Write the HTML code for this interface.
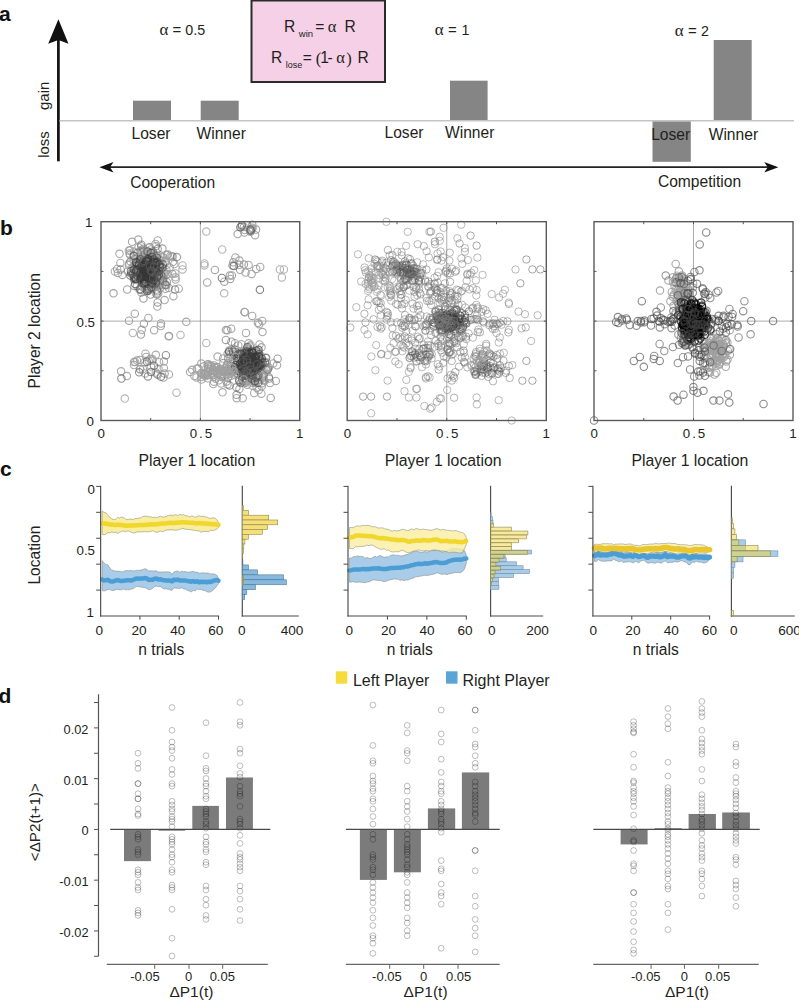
<!DOCTYPE html>
<html><head><meta charset="utf-8"><style>
html,body{margin:0;padding:0;background:#fff;width:799px;height:1001px;overflow:hidden;}
svg{display:block;font-family:"Liberation Sans", sans-serif;}
</style></head><body>
<svg width="799" height="1001" viewBox="0 0 799 1001">
<text x="-1" y="20.5" font-size="21" text-anchor="start" font-weight="bold" fill="#111" font-family='"Liberation Sans", sans-serif' >a</text>
<line x1="58.4" y1="40" x2="58.4" y2="161.3" stroke="#111" stroke-width="2.7" />
<path d="M58.4 19.3 L68.5 43.8 L58.4 40 L48.2 43.8 Z" fill="#111"/>
<text x="0" y="0" font-size="15" text-anchor="start" font-weight="normal" fill="#231f20" font-family='"Liberation Sans", sans-serif' transform="translate(49,110) rotate(-90)">gain</text>
<text x="0" y="0" font-size="15" text-anchor="start" font-weight="normal" fill="#231f20" font-family='"Liberation Sans", sans-serif' transform="translate(49,157.8) rotate(-90)">loss</text>
<line x1="59.5" y1="120.7" x2="794" y2="120.7" stroke="#c4c4c4" stroke-width="1.6" />
<rect x="133" y="100.7" width="38" height="19.3" fill="#858585" />
<rect x="200.7" y="100.7" width="38" height="19.3" fill="#858585" />
<rect x="450" y="80.7" width="37.6" height="39.3" fill="#858585" />
<rect x="713.7" y="40" width="38" height="80" fill="#858585" />
<rect x="652.5" y="121.5" width="38.3" height="40.3" fill="#858585" />
<text x="131.5" y="138.8" font-size="15.6" text-anchor="start" font-weight="normal" fill="#231f20" font-family='"Liberation Sans", sans-serif' >Loser</text>
<text x="196.5" y="138.8" font-size="15.6" text-anchor="start" font-weight="normal" fill="#231f20" font-family='"Liberation Sans", sans-serif' >Winner</text>
<text x="384.5" y="138.3" font-size="15.6" text-anchor="start" font-weight="normal" fill="#231f20" font-family='"Liberation Sans", sans-serif' >Loser</text>
<text x="445" y="138.3" font-size="15.6" text-anchor="start" font-weight="normal" fill="#231f20" font-family='"Liberation Sans", sans-serif' >Winner</text>
<text x="651.2" y="139.5" font-size="15.6" text-anchor="start" font-weight="normal" fill="#231f20" font-family='"Liberation Sans", sans-serif' >Loser</text>
<text x="708.7" y="139.5" font-size="15.6" text-anchor="start" font-weight="normal" fill="#231f20" font-family='"Liberation Sans", sans-serif' >Winner</text>
<text x="159.5" y="34.9" font-size="17" text-anchor="start" font-weight="normal" fill="#231f20" font-family='"Liberation Serif", serif' >&#945;</text>
<text x="172.4" y="34.9" font-size="15" text-anchor="start" font-weight="normal" fill="#231f20" font-family='"Liberation Sans", sans-serif' >=</text>
<text x="185.3" y="34.9" font-size="14.3" text-anchor="start" font-weight="normal" fill="#231f20" font-family='"Liberation Sans", sans-serif' >0.5</text>
<text x="434.7" y="35" font-size="17" text-anchor="start" font-weight="normal" fill="#231f20" font-family='"Liberation Serif", serif' >&#945;</text>
<text x="448.1" y="35" font-size="15" text-anchor="start" font-weight="normal" fill="#231f20" font-family='"Liberation Sans", sans-serif' >=</text>
<text x="461.5" y="35" font-size="14.3" text-anchor="start" font-weight="normal" fill="#231f20" font-family='"Liberation Sans", sans-serif' >1</text>
<text x="674.7" y="35.5" font-size="17" text-anchor="start" font-weight="normal" fill="#231f20" font-family='"Liberation Serif", serif' >&#945;</text>
<text x="688.1" y="35.5" font-size="15" text-anchor="start" font-weight="normal" fill="#231f20" font-family='"Liberation Sans", sans-serif' >=</text>
<text x="701.0" y="35.5" font-size="14.3" text-anchor="start" font-weight="normal" fill="#231f20" font-family='"Liberation Sans", sans-serif' >2</text>
<rect x="251.5" y="0.5" width="133.5" height="81.5" fill="#f5d0e6" stroke="#2b2b2b" stroke-width="2"/>
<text x="284" y="32.2" font-size="15.6" text-anchor="start" font-weight="normal" fill="#231f20" font-family='"Liberation Sans", sans-serif' >R</text>
<text x="298.8" y="37.2" font-size="9.5" text-anchor="start" font-weight="normal" fill="#231f20" font-family='"Liberation Sans", sans-serif' >win</text>
<text x="315.2" y="32.2" font-size="15.6" text-anchor="start" font-weight="normal" fill="#231f20" font-family='"Liberation Sans", sans-serif' >=</text>
<text x="327.8" y="32.2" font-size="16.5" text-anchor="start" font-weight="normal" fill="#231f20" font-family='"Liberation Serif", serif' >&#945;</text>
<text x="344.5" y="32.2" font-size="15.6" text-anchor="start" font-weight="normal" fill="#231f20" font-family='"Liberation Sans", sans-serif' >R</text>
<text x="271" y="62.6" font-size="15.6" text-anchor="start" font-weight="normal" fill="#231f20" font-family='"Liberation Sans", sans-serif' >R</text>
<text x="285.8" y="68" font-size="9" text-anchor="start" font-weight="normal" fill="#231f20" font-family='"Liberation Sans", sans-serif' >lose</text>
<text x="302.8" y="62.6" font-size="15.6" text-anchor="start" font-weight="normal" fill="#231f20" font-family='"Liberation Sans", sans-serif' >=</text>
<text x="315.8" y="63.5" font-size="16.5" text-anchor="start" font-weight="normal" fill="#231f20" font-family='"Liberation Serif", serif' >(</text>
<text x="320.2" y="62.6" font-size="15.6" text-anchor="start" font-weight="normal" fill="#231f20" font-family='"Liberation Sans", sans-serif' >1</text>
<text x="327.6" y="62.6" font-size="15.6" text-anchor="start" font-weight="normal" fill="#231f20" font-family='"Liberation Sans", sans-serif' >-</text>
<text x="336.2" y="62.6" font-size="16.5" text-anchor="start" font-weight="normal" fill="#231f20" font-family='"Liberation Serif", serif' >&#945;</text>
<text x="346.2" y="63.5" font-size="16.5" text-anchor="start" font-weight="normal" fill="#231f20" font-family='"Liberation Serif", serif' >)</text>
<text x="357.5" y="62.6" font-size="15.6" text-anchor="start" font-weight="normal" fill="#231f20" font-family='"Liberation Sans", sans-serif' >R</text>
<line x1="108" y1="167.2" x2="770" y2="167.2" stroke="#222" stroke-width="1.7" />
<path d="M99.4 167.2 L113.5 162 L110 167.2 L113.5 172.4 Z" fill="#111"/>
<path d="M778.3 167.2 L764.2 162 L767.7 167.2 L764.2 172.4 Z" fill="#111"/>
<text x="130.2" y="187.6" font-size="15.6" text-anchor="start" font-weight="normal" fill="#231f20" font-family='"Liberation Sans", sans-serif' >Cooperation</text>
<text x="657.9" y="187.4" font-size="15.6" text-anchor="start" font-weight="normal" fill="#231f20" font-family='"Liberation Sans", sans-serif' >Competition</text>
<text x="0" y="235.3" font-size="21" text-anchor="start" font-weight="bold" fill="#111" font-family='"Liberation Sans", sans-serif' >b</text>
<g>
<line x1="200.375" y1="221.7" x2="200.375" y2="420.5" stroke="#8a8a8a" stroke-width="0.7" />
<line x1="101.0" y1="321.1" x2="299.75" y2="321.1" stroke="#8a8a8a" stroke-width="0.7" />
<g fill="none" stroke="#a0a0a0" stroke-opacity="0.9" stroke-width="1.1">
<circle cx="167.0" cy="255.1" r="3.7"/>
<circle cx="152.5" cy="281.5" r="3.7"/>
<circle cx="138.7" cy="272.0" r="3.7"/>
<circle cx="139.5" cy="289.5" r="3.7"/>
<circle cx="154.1" cy="270.8" r="3.7"/>
<circle cx="158.2" cy="283.3" r="3.7"/>
<circle cx="151.7" cy="273.2" r="3.7"/>
<circle cx="133.7" cy="266.0" r="3.7"/>
<circle cx="155.5" cy="243.9" r="3.7"/>
<circle cx="154.1" cy="274.1" r="3.7"/>
<circle cx="166.4" cy="270.0" r="3.7"/>
<circle cx="162.5" cy="276.8" r="3.7"/>
<circle cx="154.3" cy="260.2" r="3.7"/>
<circle cx="160.0" cy="270.9" r="3.7"/>
<circle cx="138.8" cy="267.1" r="3.7"/>
<circle cx="152.6" cy="263.8" r="3.7"/>
<circle cx="154.3" cy="259.4" r="3.7"/>
<circle cx="151.1" cy="270.0" r="3.7"/>
<circle cx="159.6" cy="285.4" r="3.7"/>
<circle cx="146.9" cy="278.4" r="3.7"/>
<circle cx="175.3" cy="273.5" r="3.7"/>
<circle cx="159.5" cy="265.0" r="3.7"/>
<circle cx="148.3" cy="290.9" r="3.7"/>
<circle cx="163.2" cy="277.3" r="3.7"/>
<circle cx="160.2" cy="288.0" r="3.7"/>
<circle cx="146.5" cy="257.4" r="3.7"/>
<circle cx="168.7" cy="287.9" r="3.7"/>
<circle cx="135.8" cy="272.9" r="3.7"/>
<circle cx="160.4" cy="270.5" r="3.7"/>
<circle cx="155.3" cy="284.2" r="3.7"/>
<circle cx="158.7" cy="259.1" r="3.7"/>
<circle cx="146.5" cy="289.5" r="3.7"/>
<circle cx="142.6" cy="263.3" r="3.7"/>
<circle cx="131.0" cy="273.5" r="3.7"/>
<circle cx="139.9" cy="274.0" r="3.7"/>
<circle cx="148.8" cy="272.2" r="3.7"/>
<circle cx="169.6" cy="267.4" r="3.7"/>
<circle cx="167.6" cy="274.1" r="3.7"/>
<circle cx="146.0" cy="267.9" r="3.7"/>
<circle cx="117.9" cy="272.9" r="3.7"/>
<circle cx="153.6" cy="287.1" r="3.7"/>
<circle cx="157.2" cy="279.1" r="3.7"/>
<circle cx="122.4" cy="274.9" r="3.7"/>
<circle cx="140.0" cy="278.6" r="3.7"/>
<circle cx="149.9" cy="257.5" r="3.7"/>
<circle cx="152.9" cy="272.7" r="3.7"/>
<circle cx="156.3" cy="294.0" r="3.7"/>
<circle cx="166.5" cy="285.2" r="3.7"/>
<circle cx="156.9" cy="285.8" r="3.7"/>
<circle cx="140.0" cy="277.1" r="3.7"/>
<circle cx="174.3" cy="264.1" r="3.7"/>
<circle cx="144.5" cy="275.8" r="3.7"/>
<circle cx="138.0" cy="272.8" r="3.7"/>
<circle cx="144.8" cy="263.8" r="3.7"/>
<circle cx="135.5" cy="276.4" r="3.7"/>
<circle cx="141.6" cy="281.0" r="3.7"/>
<circle cx="160.2" cy="270.9" r="3.7"/>
<circle cx="158.7" cy="258.2" r="3.7"/>
<circle cx="165.4" cy="288.8" r="3.7"/>
<circle cx="158.1" cy="293.4" r="3.7"/>
<circle cx="150.9" cy="249.5" r="3.7"/>
<circle cx="149.4" cy="276.8" r="3.7"/>
<circle cx="153.7" cy="272.2" r="3.7"/>
<circle cx="152.0" cy="281.4" r="3.7"/>
<circle cx="164.6" cy="261.8" r="3.7"/>
<circle cx="149.2" cy="268.6" r="3.7"/>
<circle cx="159.5" cy="260.1" r="3.7"/>
<circle cx="156.4" cy="264.1" r="3.7"/>
<circle cx="148.5" cy="285.1" r="3.7"/>
<circle cx="145.8" cy="260.2" r="3.7"/>
<circle cx="163.3" cy="270.6" r="3.7"/>
<circle cx="144.9" cy="268.7" r="3.7"/>
<circle cx="171.5" cy="256.2" r="3.7"/>
<circle cx="143.5" cy="272.9" r="3.7"/>
<circle cx="134.4" cy="285.9" r="3.7"/>
<circle cx="153.9" cy="272.1" r="3.7"/>
<circle cx="163.2" cy="257.3" r="3.7"/>
<circle cx="161.6" cy="256.7" r="3.7"/>
<circle cx="145.2" cy="285.9" r="3.7"/>
<circle cx="157.7" cy="240.4" r="3.7"/>
<circle cx="155.9" cy="286.1" r="3.7"/>
<circle cx="154.6" cy="255.4" r="3.7"/>
<circle cx="139.3" cy="262.8" r="3.7"/>
<circle cx="144.4" cy="257.2" r="3.7"/>
<circle cx="161.0" cy="268.8" r="3.7"/>
<circle cx="175.5" cy="277.3" r="3.7"/>
<circle cx="143.5" cy="250.3" r="3.7"/>
<circle cx="141.2" cy="246.2" r="3.7"/>
<circle cx="151.2" cy="284.8" r="3.7"/>
<circle cx="151.7" cy="270.8" r="3.7"/>
<circle cx="154.1" cy="274.7" r="3.7"/>
<circle cx="164.6" cy="300.1" r="3.7"/>
<circle cx="145.1" cy="275.5" r="3.7"/>
<circle cx="173.4" cy="296.2" r="3.7"/>
<circle cx="147.6" cy="286.0" r="3.7"/>
<circle cx="143.8" cy="264.8" r="3.7"/>
<circle cx="156.6" cy="255.2" r="3.7"/>
<circle cx="144.5" cy="269.2" r="3.7"/>
<circle cx="165.7" cy="261.6" r="3.7"/>
<circle cx="147.7" cy="258.9" r="3.7"/>
<circle cx="140.7" cy="250.9" r="3.7"/>
<circle cx="153.5" cy="273.7" r="3.7"/>
<circle cx="154.9" cy="262.3" r="3.7"/>
<circle cx="172.4" cy="274.1" r="3.7"/>
<circle cx="147.3" cy="265.4" r="3.7"/>
<circle cx="141.3" cy="292.6" r="3.7"/>
<circle cx="161.6" cy="276.9" r="3.7"/>
<circle cx="165.1" cy="284.6" r="3.7"/>
<circle cx="117.1" cy="269.0" r="3.7"/>
<circle cx="153.5" cy="253.3" r="3.7"/>
<circle cx="157.9" cy="268.7" r="3.7"/>
<circle cx="158.7" cy="276.8" r="3.7"/>
<circle cx="152.6" cy="288.5" r="3.7"/>
<circle cx="157.9" cy="282.0" r="3.7"/>
<circle cx="146.4" cy="264.0" r="3.7"/>
<circle cx="162.6" cy="284.4" r="3.7"/>
<circle cx="175.6" cy="279.5" r="3.7"/>
<circle cx="161.6" cy="261.0" r="3.7"/>
<circle cx="154.4" cy="270.3" r="3.7"/>
<circle cx="173.1" cy="261.8" r="3.7"/>
<circle cx="157.0" cy="294.2" r="3.7"/>
<circle cx="142.8" cy="258.5" r="3.7"/>
<circle cx="154.0" cy="283.8" r="3.7"/>
<circle cx="144.0" cy="276.0" r="3.7"/>
<circle cx="159.9" cy="267.8" r="3.7"/>
<circle cx="163.6" cy="282.1" r="3.7"/>
<circle cx="163.4" cy="278.4" r="3.7"/>
<circle cx="148.1" cy="251.7" r="3.7"/>
<circle cx="152.6" cy="274.1" r="3.7"/>
<circle cx="149.2" cy="277.0" r="3.7"/>
<circle cx="170.3" cy="256.0" r="3.7"/>
<circle cx="160.2" cy="270.2" r="3.7"/>
<circle cx="164.1" cy="273.3" r="3.7"/>
<circle cx="157.1" cy="267.6" r="3.7"/>
<circle cx="152.7" cy="252.7" r="3.7"/>
<circle cx="172.6" cy="256.6" r="3.7"/>
<circle cx="128.9" cy="250.5" r="3.7"/>
<circle cx="160.1" cy="277.8" r="3.7"/>
<circle cx="151.4" cy="258.8" r="3.7"/>
<circle cx="165.7" cy="262.2" r="3.7"/>
<circle cx="153.4" cy="272.0" r="3.7"/>
<circle cx="161.6" cy="273.5" r="3.7"/>
<circle cx="141.0" cy="279.8" r="3.7"/>
<circle cx="150.0" cy="268.4" r="3.7"/>
<circle cx="178.7" cy="288.7" r="3.7"/>
<circle cx="157.4" cy="273.5" r="3.7"/>
<circle cx="155.3" cy="256.2" r="3.7"/>
<circle cx="166.5" cy="274.3" r="3.7"/>
<circle cx="145.0" cy="288.7" r="3.7"/>
<circle cx="150.8" cy="257.5" r="3.7"/>
<circle cx="148.5" cy="264.0" r="3.7"/>
<circle cx="160.1" cy="267.7" r="3.7"/>
<circle cx="164.6" cy="273.7" r="3.7"/>
<circle cx="141.8" cy="286.4" r="3.7"/>
<circle cx="162.7" cy="276.7" r="3.7"/>
<circle cx="148.0" cy="262.4" r="3.7"/>
<circle cx="142.3" cy="251.3" r="3.7"/>
<circle cx="159.6" cy="278.7" r="3.7"/>
<circle cx="144.1" cy="259.5" r="3.7"/>
<circle cx="137.6" cy="280.0" r="3.7"/>
<circle cx="151.8" cy="270.0" r="3.7"/>
<circle cx="151.9" cy="267.8" r="3.7"/>
<circle cx="147.3" cy="273.8" r="3.7"/>
<circle cx="166.8" cy="264.7" r="3.7"/>
<circle cx="146.3" cy="251.9" r="3.7"/>
<circle cx="127.9" cy="271.4" r="3.7"/>
<circle cx="159.6" cy="260.8" r="3.7"/>
<circle cx="153.0" cy="277.0" r="3.7"/>
<circle cx="158.7" cy="274.7" r="3.7"/>
<circle cx="157.3" cy="306.5" r="3.7"/>
<circle cx="144.5" cy="269.3" r="3.7"/>
<circle cx="150.1" cy="254.0" r="3.7"/>
<circle cx="148.0" cy="265.5" r="3.7"/>
<circle cx="145.1" cy="264.9" r="3.7"/>
<circle cx="142.9" cy="262.8" r="3.7"/>
<circle cx="132.1" cy="241.8" r="3.7"/>
<circle cx="147.9" cy="281.9" r="3.7"/>
<circle cx="149.6" cy="275.3" r="3.7"/>
<circle cx="138.4" cy="267.2" r="3.7"/>
<circle cx="135.4" cy="259.1" r="3.7"/>
<circle cx="137.5" cy="275.9" r="3.7"/>
<circle cx="140.7" cy="257.8" r="3.7"/>
<circle cx="158.3" cy="265.6" r="3.7"/>
<circle cx="128.9" cy="265.2" r="3.7"/>
<circle cx="147.2" cy="270.2" r="3.7"/>
<circle cx="133.6" cy="256.0" r="3.7"/>
<circle cx="140.6" cy="259.3" r="3.7"/>
<circle cx="134.5" cy="269.7" r="3.7"/>
<circle cx="137.5" cy="263.0" r="3.7"/>
<circle cx="137.4" cy="257.2" r="3.7"/>
<circle cx="146.2" cy="256.0" r="3.7"/>
<circle cx="145.5" cy="270.3" r="3.7"/>
<circle cx="129.6" cy="253.5" r="3.7"/>
<circle cx="140.9" cy="260.2" r="3.7"/>
<circle cx="129.2" cy="263.6" r="3.7"/>
<circle cx="134.4" cy="270.1" r="3.7"/>
<circle cx="134.5" cy="276.3" r="3.7"/>
<circle cx="141.6" cy="249.9" r="3.7"/>
<circle cx="133.7" cy="260.5" r="3.7"/>
<circle cx="129.9" cy="254.8" r="3.7"/>
<circle cx="159.3" cy="273.7" r="3.7"/>
<circle cx="138.5" cy="247.3" r="3.7"/>
<circle cx="144.4" cy="260.3" r="3.7"/>
<circle cx="120.4" cy="263.0" r="3.7"/>
<circle cx="149.9" cy="247.2" r="3.7"/>
<circle cx="147.1" cy="267.2" r="3.7"/>
<circle cx="133.9" cy="279.5" r="3.7"/>
<circle cx="130.1" cy="250.3" r="3.7"/>
<circle cx="139.6" cy="274.8" r="3.7"/>
<circle cx="153.9" cy="278.1" r="3.7"/>
<circle cx="153.3" cy="264.7" r="3.7"/>
<circle cx="144.1" cy="254.7" r="3.7"/>
<circle cx="143.4" cy="248.8" r="3.7"/>
<circle cx="140.9" cy="264.7" r="3.7"/>
<circle cx="134.2" cy="275.8" r="3.7"/>
<circle cx="133.8" cy="251.7" r="3.7"/>
<circle cx="149.0" cy="247.6" r="3.7"/>
<circle cx="167.9" cy="254.4" r="3.7"/>
<circle cx="145.7" cy="274.5" r="3.7"/>
<circle cx="138.3" cy="239.6" r="3.7"/>
<circle cx="146.0" cy="262.8" r="3.7"/>
<circle cx="143.8" cy="280.3" r="3.7"/>
<circle cx="132.5" cy="274.5" r="3.7"/>
<circle cx="119.5" cy="253.8" r="3.7"/>
<circle cx="150.3" cy="263.2" r="3.7"/>
<circle cx="144.2" cy="271.5" r="3.7"/>
<circle cx="145.3" cy="253.9" r="3.7"/>
<circle cx="156.0" cy="245.9" r="3.7"/>
<circle cx="145.6" cy="262.7" r="3.7"/>
<circle cx="132.5" cy="267.5" r="3.7"/>
</g>
<g fill="none" stroke="#383838" stroke-opacity="0.6" stroke-width="1.1">
<circle cx="152.0" cy="266.5" r="3.7"/>
<circle cx="147.8" cy="258.8" r="3.7"/>
<circle cx="152.2" cy="270.3" r="3.7"/>
<circle cx="146.4" cy="269.9" r="3.7"/>
<circle cx="141.1" cy="277.2" r="3.7"/>
<circle cx="150.1" cy="274.5" r="3.7"/>
<circle cx="145.8" cy="261.9" r="3.7"/>
<circle cx="146.4" cy="261.3" r="3.7"/>
<circle cx="147.6" cy="259.9" r="3.7"/>
<circle cx="150.9" cy="282.6" r="3.7"/>
<circle cx="156.3" cy="271.8" r="3.7"/>
<circle cx="134.0" cy="269.6" r="3.7"/>
<circle cx="148.8" cy="279.4" r="3.7"/>
<circle cx="143.5" cy="266.6" r="3.7"/>
<circle cx="157.5" cy="262.5" r="3.7"/>
<circle cx="156.2" cy="262.6" r="3.7"/>
<circle cx="130.4" cy="275.5" r="3.7"/>
<circle cx="149.0" cy="289.1" r="3.7"/>
<circle cx="153.1" cy="264.2" r="3.7"/>
<circle cx="142.3" cy="273.1" r="3.7"/>
<circle cx="141.2" cy="270.5" r="3.7"/>
<circle cx="147.4" cy="270.5" r="3.7"/>
<circle cx="140.6" cy="267.7" r="3.7"/>
<circle cx="145.3" cy="263.8" r="3.7"/>
<circle cx="149.9" cy="280.7" r="3.7"/>
<circle cx="137.7" cy="269.9" r="3.7"/>
<circle cx="144.3" cy="267.1" r="3.7"/>
<circle cx="153.3" cy="270.3" r="3.7"/>
<circle cx="136.0" cy="278.7" r="3.7"/>
<circle cx="151.7" cy="277.7" r="3.7"/>
<circle cx="155.4" cy="271.0" r="3.7"/>
<circle cx="151.3" cy="276.6" r="3.7"/>
<circle cx="147.0" cy="291.0" r="3.7"/>
<circle cx="146.3" cy="266.4" r="3.7"/>
<circle cx="141.5" cy="276.3" r="3.7"/>
<circle cx="147.3" cy="270.0" r="3.7"/>
<circle cx="142.1" cy="265.7" r="3.7"/>
<circle cx="136.3" cy="262.7" r="3.7"/>
<circle cx="137.9" cy="276.1" r="3.7"/>
<circle cx="157.0" cy="277.3" r="3.7"/>
<circle cx="136.2" cy="269.9" r="3.7"/>
<circle cx="141.3" cy="278.2" r="3.7"/>
<circle cx="142.8" cy="275.6" r="3.7"/>
<circle cx="140.9" cy="277.6" r="3.7"/>
<circle cx="158.9" cy="275.1" r="3.7"/>
<circle cx="154.5" cy="280.2" r="3.7"/>
<circle cx="151.5" cy="279.1" r="3.7"/>
<circle cx="144.5" cy="266.0" r="3.7"/>
<circle cx="144.0" cy="284.1" r="3.7"/>
<circle cx="143.9" cy="271.5" r="3.7"/>
<circle cx="151.7" cy="277.4" r="3.7"/>
<circle cx="145.6" cy="270.0" r="3.7"/>
<circle cx="136.2" cy="271.1" r="3.7"/>
<circle cx="141.9" cy="267.4" r="3.7"/>
<circle cx="146.9" cy="271.6" r="3.7"/>
<circle cx="130.9" cy="271.2" r="3.7"/>
<circle cx="145.1" cy="277.0" r="3.7"/>
<circle cx="144.2" cy="279.2" r="3.7"/>
<circle cx="148.9" cy="265.8" r="3.7"/>
<circle cx="151.9" cy="274.0" r="3.7"/>
<circle cx="159.4" cy="264.5" r="3.7"/>
<circle cx="141.1" cy="271.4" r="3.7"/>
<circle cx="136.4" cy="271.2" r="3.7"/>
<circle cx="152.7" cy="261.6" r="3.7"/>
<circle cx="144.8" cy="282.9" r="3.7"/>
<circle cx="146.5" cy="260.9" r="3.7"/>
<circle cx="148.7" cy="261.5" r="3.7"/>
<circle cx="153.5" cy="259.6" r="3.7"/>
<circle cx="151.9" cy="275.0" r="3.7"/>
<circle cx="150.8" cy="252.8" r="3.7"/>
<circle cx="144.1" cy="283.3" r="3.7"/>
<circle cx="162.3" cy="267.6" r="3.7"/>
<circle cx="143.3" cy="274.6" r="3.7"/>
<circle cx="137.0" cy="265.5" r="3.7"/>
<circle cx="148.7" cy="274.8" r="3.7"/>
<circle cx="144.8" cy="273.4" r="3.7"/>
<circle cx="155.1" cy="271.7" r="3.7"/>
<circle cx="157.3" cy="276.2" r="3.7"/>
<circle cx="143.4" cy="273.8" r="3.7"/>
<circle cx="144.0" cy="271.0" r="3.7"/>
<circle cx="154.8" cy="262.0" r="3.7"/>
<circle cx="140.2" cy="261.5" r="3.7"/>
<circle cx="148.4" cy="259.4" r="3.7"/>
<circle cx="146.5" cy="276.2" r="3.7"/>
<circle cx="153.2" cy="266.1" r="3.7"/>
<circle cx="144.5" cy="270.3" r="3.7"/>
<circle cx="148.6" cy="268.2" r="3.7"/>
<circle cx="135.8" cy="278.8" r="3.7"/>
<circle cx="148.1" cy="268.6" r="3.7"/>
<circle cx="144.1" cy="282.7" r="3.7"/>
<circle cx="157.1" cy="272.5" r="3.7"/>
<circle cx="140.4" cy="259.3" r="3.7"/>
<circle cx="155.6" cy="263.2" r="3.7"/>
<circle cx="153.5" cy="266.4" r="3.7"/>
<circle cx="140.9" cy="270.2" r="3.7"/>
<circle cx="150.2" cy="266.0" r="3.7"/>
<circle cx="151.0" cy="277.4" r="3.7"/>
<circle cx="143.5" cy="272.7" r="3.7"/>
<circle cx="146.3" cy="276.5" r="3.7"/>
<circle cx="135.0" cy="278.9" r="3.7"/>
<circle cx="149.8" cy="270.5" r="3.7"/>
<circle cx="151.7" cy="283.5" r="3.7"/>
<circle cx="144.8" cy="264.2" r="3.7"/>
<circle cx="134.1" cy="277.9" r="3.7"/>
<circle cx="136.1" cy="262.0" r="3.7"/>
<circle cx="147.9" cy="274.4" r="3.7"/>
<circle cx="148.7" cy="271.0" r="3.7"/>
<circle cx="154.0" cy="262.3" r="3.7"/>
<circle cx="154.1" cy="268.0" r="3.7"/>
<circle cx="153.0" cy="264.8" r="3.7"/>
<circle cx="155.8" cy="283.2" r="3.7"/>
<circle cx="150.1" cy="269.9" r="3.7"/>
<circle cx="148.8" cy="272.1" r="3.7"/>
<circle cx="147.2" cy="267.0" r="3.7"/>
<circle cx="149.1" cy="269.5" r="3.7"/>
<circle cx="140.2" cy="279.1" r="3.7"/>
<circle cx="142.5" cy="282.8" r="3.7"/>
<circle cx="144.1" cy="276.3" r="3.7"/>
<circle cx="135.2" cy="283.9" r="3.7"/>
<circle cx="144.4" cy="274.4" r="3.7"/>
<circle cx="162.8" cy="264.4" r="3.7"/>
<circle cx="142.3" cy="273.9" r="3.7"/>
<circle cx="140.7" cy="275.9" r="3.7"/>
<circle cx="145.3" cy="270.7" r="3.7"/>
<circle cx="143.4" cy="264.7" r="3.7"/>
<circle cx="152.2" cy="256.8" r="3.7"/>
<circle cx="138.6" cy="265.7" r="3.7"/>
<circle cx="145.1" cy="281.6" r="3.7"/>
<circle cx="145.6" cy="281.8" r="3.7"/>
<circle cx="147.5" cy="251.4" r="3.7"/>
<circle cx="156.8" cy="257.7" r="3.7"/>
<circle cx="156.0" cy="281.2" r="3.7"/>
<circle cx="150.6" cy="269.4" r="3.7"/>
<circle cx="150.7" cy="277.6" r="3.7"/>
<circle cx="133.9" cy="255.8" r="3.7"/>
<circle cx="156.0" cy="268.3" r="3.7"/>
<circle cx="144.3" cy="269.1" r="3.7"/>
<circle cx="139.1" cy="263.7" r="3.7"/>
<circle cx="148.9" cy="271.5" r="3.7"/>
<circle cx="144.7" cy="270.9" r="3.7"/>
<circle cx="148.6" cy="273.2" r="3.7"/>
<circle cx="154.4" cy="268.9" r="3.7"/>
<circle cx="147.0" cy="276.4" r="3.7"/>
<circle cx="156.2" cy="261.4" r="3.7"/>
<circle cx="152.5" cy="283.2" r="3.7"/>
<circle cx="145.3" cy="263.5" r="3.7"/>
<circle cx="148.0" cy="261.5" r="3.7"/>
<circle cx="144.7" cy="264.9" r="3.7"/>
<circle cx="151.4" cy="287.4" r="3.7"/>
<circle cx="144.9" cy="272.1" r="3.7"/>
<circle cx="143.3" cy="276.6" r="3.7"/>
<circle cx="158.8" cy="271.2" r="3.7"/>
<circle cx="153.2" cy="279.7" r="3.7"/>
<circle cx="133.2" cy="273.7" r="3.7"/>
<circle cx="150.5" cy="275.4" r="3.7"/>
<circle cx="151.4" cy="264.8" r="3.7"/>
<circle cx="144.6" cy="270.8" r="3.7"/>
<circle cx="142.6" cy="262.9" r="3.7"/>
<circle cx="160.0" cy="267.0" r="3.7"/>
<circle cx="144.2" cy="275.3" r="3.7"/>
</g>
<g fill="none" stroke="#606060" stroke-opacity="0.6" stroke-width="1.1">
<circle cx="143.4" cy="261.0" r="3.7"/>
<circle cx="137.7" cy="252.8" r="3.7"/>
<circle cx="132.1" cy="273.5" r="3.7"/>
<circle cx="162.4" cy="248.6" r="3.7"/>
<circle cx="141.9" cy="262.4" r="3.7"/>
<circle cx="176.9" cy="257.1" r="3.7"/>
<circle cx="120.6" cy="269.5" r="3.7"/>
<circle cx="175.0" cy="289.6" r="3.7"/>
<circle cx="157.6" cy="302.4" r="3.7"/>
<circle cx="165.6" cy="285.1" r="3.7"/>
<circle cx="156.3" cy="260.7" r="3.7"/>
<circle cx="113.5" cy="293.3" r="3.7"/>
<circle cx="150.6" cy="294.6" r="3.7"/>
<circle cx="146.5" cy="286.6" r="3.7"/>
<circle cx="162.7" cy="280.5" r="3.7"/>
<circle cx="135.8" cy="264.4" r="3.7"/>
<circle cx="161.3" cy="275.6" r="3.7"/>
<circle cx="150.0" cy="266.5" r="3.7"/>
<circle cx="140.8" cy="289.9" r="3.7"/>
<circle cx="153.1" cy="278.3" r="3.7"/>
<circle cx="130.4" cy="261.5" r="3.7"/>
<circle cx="151.9" cy="271.4" r="3.7"/>
<circle cx="137.7" cy="276.5" r="3.7"/>
<circle cx="154.0" cy="266.6" r="3.7"/>
<circle cx="136.9" cy="285.9" r="3.7"/>
<circle cx="150.8" cy="270.8" r="3.7"/>
<circle cx="156.8" cy="289.5" r="3.7"/>
<circle cx="157.7" cy="248.8" r="3.7"/>
<circle cx="158.0" cy="271.6" r="3.7"/>
<circle cx="157.5" cy="291.3" r="3.7"/>
<circle cx="141.4" cy="244.7" r="3.7"/>
<circle cx="127.2" cy="289.5" r="3.7"/>
<circle cx="156.5" cy="282.5" r="3.7"/>
<circle cx="140.0" cy="289.0" r="3.7"/>
<circle cx="166.8" cy="281.9" r="3.7"/>
<circle cx="143.4" cy="298.6" r="3.7"/>
<circle cx="155.9" cy="273.5" r="3.7"/>
<circle cx="152.7" cy="251.4" r="3.7"/>
<circle cx="148.5" cy="290.0" r="3.7"/>
<circle cx="134.6" cy="272.2" r="3.7"/>
</g>
<g fill="none" stroke="#a0a0a0" stroke-opacity="0.9" stroke-width="1.1">
<circle cx="264.5" cy="381.1" r="3.7"/>
<circle cx="247.4" cy="368.6" r="3.7"/>
<circle cx="257.2" cy="377.5" r="3.7"/>
<circle cx="253.5" cy="357.5" r="3.7"/>
<circle cx="249.6" cy="368.0" r="3.7"/>
<circle cx="256.8" cy="359.9" r="3.7"/>
<circle cx="263.8" cy="379.7" r="3.7"/>
<circle cx="263.5" cy="369.5" r="3.7"/>
<circle cx="237.6" cy="373.4" r="3.7"/>
<circle cx="236.6" cy="369.2" r="3.7"/>
<circle cx="261.4" cy="393.7" r="3.7"/>
<circle cx="237.1" cy="357.7" r="3.7"/>
<circle cx="246.8" cy="357.4" r="3.7"/>
<circle cx="235.6" cy="367.5" r="3.7"/>
<circle cx="221.6" cy="376.9" r="3.7"/>
<circle cx="258.2" cy="352.3" r="3.7"/>
<circle cx="267.9" cy="367.5" r="3.7"/>
<circle cx="240.5" cy="371.4" r="3.7"/>
<circle cx="229.1" cy="350.7" r="3.7"/>
<circle cx="262.9" cy="377.7" r="3.7"/>
<circle cx="270.1" cy="383.0" r="3.7"/>
<circle cx="256.2" cy="376.5" r="3.7"/>
<circle cx="231.1" cy="362.1" r="3.7"/>
<circle cx="237.4" cy="352.6" r="3.7"/>
<circle cx="240.2" cy="365.6" r="3.7"/>
<circle cx="244.8" cy="365.2" r="3.7"/>
<circle cx="243.2" cy="357.0" r="3.7"/>
<circle cx="256.7" cy="366.0" r="3.7"/>
<circle cx="248.7" cy="343.3" r="3.7"/>
<circle cx="242.5" cy="372.1" r="3.7"/>
<circle cx="258.5" cy="367.0" r="3.7"/>
<circle cx="232.2" cy="368.5" r="3.7"/>
<circle cx="245.9" cy="378.7" r="3.7"/>
<circle cx="252.2" cy="380.4" r="3.7"/>
<circle cx="247.3" cy="380.4" r="3.7"/>
<circle cx="267.1" cy="370.2" r="3.7"/>
<circle cx="254.9" cy="363.4" r="3.7"/>
<circle cx="257.8" cy="368.6" r="3.7"/>
<circle cx="258.3" cy="365.3" r="3.7"/>
<circle cx="223.3" cy="363.1" r="3.7"/>
<circle cx="235.9" cy="355.5" r="3.7"/>
<circle cx="252.5" cy="371.3" r="3.7"/>
<circle cx="222.5" cy="392.3" r="3.7"/>
<circle cx="237.2" cy="371.3" r="3.7"/>
<circle cx="235.0" cy="343.2" r="3.7"/>
<circle cx="255.1" cy="367.9" r="3.7"/>
<circle cx="239.3" cy="370.9" r="3.7"/>
<circle cx="247.5" cy="372.1" r="3.7"/>
<circle cx="249.2" cy="357.2" r="3.7"/>
<circle cx="230.8" cy="364.1" r="3.7"/>
<circle cx="262.1" cy="383.2" r="3.7"/>
<circle cx="248.0" cy="371.4" r="3.7"/>
<circle cx="237.6" cy="355.5" r="3.7"/>
<circle cx="246.5" cy="353.2" r="3.7"/>
<circle cx="254.6" cy="370.2" r="3.7"/>
<circle cx="253.2" cy="371.3" r="3.7"/>
<circle cx="232.1" cy="349.9" r="3.7"/>
<circle cx="254.1" cy="353.0" r="3.7"/>
<circle cx="230.3" cy="354.3" r="3.7"/>
<circle cx="259.1" cy="367.3" r="3.7"/>
<circle cx="226.9" cy="365.6" r="3.7"/>
<circle cx="242.8" cy="369.1" r="3.7"/>
<circle cx="250.7" cy="377.6" r="3.7"/>
<circle cx="248.6" cy="366.7" r="3.7"/>
<circle cx="266.0" cy="368.0" r="3.7"/>
<circle cx="275.8" cy="380.9" r="3.7"/>
<circle cx="248.6" cy="352.0" r="3.7"/>
<circle cx="232.9" cy="359.4" r="3.7"/>
<circle cx="254.4" cy="374.0" r="3.7"/>
<circle cx="247.4" cy="348.4" r="3.7"/>
<circle cx="245.2" cy="363.5" r="3.7"/>
<circle cx="254.8" cy="352.4" r="3.7"/>
<circle cx="227.5" cy="384.4" r="3.7"/>
<circle cx="235.4" cy="370.2" r="3.7"/>
<circle cx="256.8" cy="356.9" r="3.7"/>
<circle cx="246.9" cy="348.8" r="3.7"/>
<circle cx="249.3" cy="358.6" r="3.7"/>
<circle cx="241.8" cy="356.9" r="3.7"/>
<circle cx="242.2" cy="353.0" r="3.7"/>
<circle cx="259.5" cy="344.5" r="3.7"/>
<circle cx="245.4" cy="380.7" r="3.7"/>
<circle cx="259.1" cy="363.0" r="3.7"/>
<circle cx="244.3" cy="382.8" r="3.7"/>
<circle cx="258.8" cy="390.1" r="3.7"/>
<circle cx="245.0" cy="354.1" r="3.7"/>
<circle cx="247.3" cy="361.4" r="3.7"/>
<circle cx="255.4" cy="359.7" r="3.7"/>
<circle cx="261.6" cy="359.0" r="3.7"/>
<circle cx="246.0" cy="381.5" r="3.7"/>
<circle cx="246.9" cy="374.7" r="3.7"/>
<circle cx="254.5" cy="352.2" r="3.7"/>
<circle cx="258.6" cy="375.1" r="3.7"/>
<circle cx="252.3" cy="366.8" r="3.7"/>
<circle cx="244.9" cy="351.3" r="3.7"/>
<circle cx="256.8" cy="362.5" r="3.7"/>
<circle cx="236.7" cy="398.2" r="3.7"/>
<circle cx="242.0" cy="353.2" r="3.7"/>
<circle cx="247.7" cy="367.1" r="3.7"/>
<circle cx="247.2" cy="361.1" r="3.7"/>
<circle cx="250.0" cy="346.4" r="3.7"/>
<circle cx="248.7" cy="370.0" r="3.7"/>
<circle cx="265.6" cy="357.9" r="3.7"/>
<circle cx="257.7" cy="360.5" r="3.7"/>
<circle cx="249.6" cy="363.0" r="3.7"/>
<circle cx="255.9" cy="365.6" r="3.7"/>
<circle cx="229.5" cy="350.4" r="3.7"/>
<circle cx="244.8" cy="373.6" r="3.7"/>
<circle cx="246.3" cy="375.4" r="3.7"/>
<circle cx="240.5" cy="367.8" r="3.7"/>
<circle cx="259.7" cy="370.3" r="3.7"/>
<circle cx="255.2" cy="382.9" r="3.7"/>
<circle cx="258.3" cy="380.4" r="3.7"/>
<circle cx="257.7" cy="375.7" r="3.7"/>
<circle cx="243.5" cy="381.8" r="3.7"/>
<circle cx="236.2" cy="369.5" r="3.7"/>
<circle cx="239.4" cy="369.5" r="3.7"/>
<circle cx="262.5" cy="376.9" r="3.7"/>
<circle cx="246.6" cy="368.0" r="3.7"/>
<circle cx="243.3" cy="367.2" r="3.7"/>
<circle cx="252.6" cy="354.4" r="3.7"/>
<circle cx="242.1" cy="369.4" r="3.7"/>
<circle cx="248.3" cy="352.3" r="3.7"/>
<circle cx="239.1" cy="364.8" r="3.7"/>
<circle cx="258.5" cy="359.8" r="3.7"/>
<circle cx="242.3" cy="379.2" r="3.7"/>
<circle cx="229.8" cy="373.2" r="3.7"/>
<circle cx="247.3" cy="384.7" r="3.7"/>
<circle cx="259.3" cy="364.9" r="3.7"/>
<circle cx="247.4" cy="373.1" r="3.7"/>
<circle cx="255.2" cy="370.2" r="3.7"/>
<circle cx="255.6" cy="372.6" r="3.7"/>
<circle cx="261.6" cy="386.3" r="3.7"/>
<circle cx="238.3" cy="345.4" r="3.7"/>
<circle cx="261.5" cy="347.3" r="3.7"/>
<circle cx="241.4" cy="358.1" r="3.7"/>
<circle cx="261.0" cy="355.9" r="3.7"/>
<circle cx="248.1" cy="349.3" r="3.7"/>
<circle cx="254.6" cy="382.3" r="3.7"/>
<circle cx="277.0" cy="365.3" r="3.7"/>
<circle cx="263.8" cy="375.1" r="3.7"/>
<circle cx="239.9" cy="356.3" r="3.7"/>
<circle cx="259.0" cy="375.7" r="3.7"/>
<circle cx="252.8" cy="382.7" r="3.7"/>
<circle cx="227.6" cy="353.8" r="3.7"/>
<circle cx="237.5" cy="358.0" r="3.7"/>
<circle cx="261.7" cy="362.4" r="3.7"/>
<circle cx="266.7" cy="362.5" r="3.7"/>
<circle cx="253.3" cy="366.8" r="3.7"/>
<circle cx="254.7" cy="362.6" r="3.7"/>
<circle cx="239.8" cy="367.4" r="3.7"/>
<circle cx="246.0" cy="332.9" r="3.7"/>
<circle cx="263.5" cy="376.2" r="3.7"/>
<circle cx="256.6" cy="387.7" r="3.7"/>
<circle cx="250.7" cy="345.2" r="3.7"/>
<circle cx="251.0" cy="351.5" r="3.7"/>
<circle cx="246.0" cy="361.4" r="3.7"/>
<circle cx="254.2" cy="393.0" r="3.7"/>
<circle cx="241.3" cy="344.2" r="3.7"/>
<circle cx="241.0" cy="352.5" r="3.7"/>
<circle cx="268.9" cy="367.4" r="3.7"/>
<circle cx="261.0" cy="362.5" r="3.7"/>
<circle cx="243.6" cy="359.8" r="3.7"/>
<circle cx="254.8" cy="378.6" r="3.7"/>
<circle cx="245.2" cy="382.9" r="3.7"/>
<circle cx="246.4" cy="367.3" r="3.7"/>
<circle cx="239.4" cy="389.1" r="3.7"/>
<circle cx="257.4" cy="351.7" r="3.7"/>
<circle cx="240.1" cy="366.0" r="3.7"/>
<circle cx="242.7" cy="398.3" r="3.7"/>
<circle cx="273.2" cy="363.4" r="3.7"/>
<circle cx="234.7" cy="351.7" r="3.7"/>
<circle cx="258.0" cy="350.0" r="3.7"/>
<circle cx="258.1" cy="360.5" r="3.7"/>
<circle cx="265.8" cy="370.1" r="3.7"/>
<circle cx="252.7" cy="379.8" r="3.7"/>
<circle cx="237.5" cy="364.3" r="3.7"/>
<circle cx="252.6" cy="385.7" r="3.7"/>
<circle cx="254.1" cy="354.8" r="3.7"/>
<circle cx="236.3" cy="370.9" r="3.7"/>
<circle cx="268.8" cy="377.0" r="3.7"/>
</g>
<g fill="none" stroke="#383838" stroke-opacity="0.6" stroke-width="1.1">
<circle cx="252.7" cy="358.8" r="3.7"/>
<circle cx="250.2" cy="362.9" r="3.7"/>
<circle cx="252.7" cy="362.0" r="3.7"/>
<circle cx="250.0" cy="373.2" r="3.7"/>
<circle cx="250.6" cy="368.9" r="3.7"/>
<circle cx="258.6" cy="349.7" r="3.7"/>
<circle cx="256.2" cy="377.5" r="3.7"/>
<circle cx="255.4" cy="363.1" r="3.7"/>
<circle cx="242.1" cy="371.6" r="3.7"/>
<circle cx="255.8" cy="368.0" r="3.7"/>
<circle cx="248.6" cy="363.4" r="3.7"/>
<circle cx="255.1" cy="380.9" r="3.7"/>
<circle cx="256.9" cy="369.0" r="3.7"/>
<circle cx="246.5" cy="359.9" r="3.7"/>
<circle cx="251.4" cy="378.6" r="3.7"/>
<circle cx="252.9" cy="364.8" r="3.7"/>
<circle cx="242.5" cy="367.7" r="3.7"/>
<circle cx="238.9" cy="358.9" r="3.7"/>
<circle cx="258.5" cy="367.9" r="3.7"/>
<circle cx="246.1" cy="373.1" r="3.7"/>
<circle cx="244.6" cy="370.3" r="3.7"/>
<circle cx="249.2" cy="352.8" r="3.7"/>
<circle cx="255.8" cy="357.6" r="3.7"/>
<circle cx="242.9" cy="358.5" r="3.7"/>
<circle cx="244.5" cy="369.5" r="3.7"/>
<circle cx="253.7" cy="364.5" r="3.7"/>
<circle cx="264.9" cy="362.6" r="3.7"/>
<circle cx="247.1" cy="359.1" r="3.7"/>
<circle cx="241.7" cy="359.5" r="3.7"/>
<circle cx="259.0" cy="364.7" r="3.7"/>
<circle cx="245.8" cy="356.7" r="3.7"/>
<circle cx="242.0" cy="361.5" r="3.7"/>
<circle cx="245.7" cy="361.9" r="3.7"/>
<circle cx="244.1" cy="360.0" r="3.7"/>
<circle cx="252.6" cy="352.7" r="3.7"/>
<circle cx="246.7" cy="361.0" r="3.7"/>
<circle cx="237.9" cy="368.9" r="3.7"/>
<circle cx="250.8" cy="372.6" r="3.7"/>
<circle cx="248.4" cy="369.6" r="3.7"/>
<circle cx="252.1" cy="360.0" r="3.7"/>
<circle cx="246.1" cy="359.7" r="3.7"/>
<circle cx="245.5" cy="363.1" r="3.7"/>
<circle cx="252.4" cy="360.3" r="3.7"/>
<circle cx="252.8" cy="353.0" r="3.7"/>
<circle cx="245.0" cy="364.8" r="3.7"/>
<circle cx="237.4" cy="358.3" r="3.7"/>
<circle cx="241.9" cy="367.6" r="3.7"/>
<circle cx="245.8" cy="361.2" r="3.7"/>
<circle cx="247.3" cy="365.6" r="3.7"/>
<circle cx="249.6" cy="366.0" r="3.7"/>
<circle cx="248.9" cy="370.1" r="3.7"/>
<circle cx="245.6" cy="371.6" r="3.7"/>
<circle cx="254.5" cy="358.1" r="3.7"/>
<circle cx="253.3" cy="361.7" r="3.7"/>
<circle cx="245.2" cy="360.3" r="3.7"/>
<circle cx="239.2" cy="379.8" r="3.7"/>
<circle cx="241.5" cy="354.3" r="3.7"/>
<circle cx="250.6" cy="354.0" r="3.7"/>
<circle cx="244.5" cy="357.4" r="3.7"/>
<circle cx="259.2" cy="357.5" r="3.7"/>
<circle cx="250.9" cy="357.0" r="3.7"/>
<circle cx="246.2" cy="352.6" r="3.7"/>
<circle cx="241.7" cy="368.7" r="3.7"/>
<circle cx="249.2" cy="368.7" r="3.7"/>
<circle cx="260.2" cy="359.6" r="3.7"/>
<circle cx="244.4" cy="353.2" r="3.7"/>
<circle cx="257.7" cy="366.3" r="3.7"/>
<circle cx="259.0" cy="356.3" r="3.7"/>
<circle cx="245.9" cy="367.4" r="3.7"/>
<circle cx="251.0" cy="356.5" r="3.7"/>
<circle cx="259.1" cy="354.3" r="3.7"/>
<circle cx="246.0" cy="375.2" r="3.7"/>
<circle cx="238.3" cy="354.2" r="3.7"/>
<circle cx="255.8" cy="356.3" r="3.7"/>
<circle cx="249.1" cy="363.3" r="3.7"/>
<circle cx="252.2" cy="360.9" r="3.7"/>
<circle cx="249.6" cy="370.0" r="3.7"/>
<circle cx="240.4" cy="362.9" r="3.7"/>
<circle cx="248.1" cy="354.8" r="3.7"/>
<circle cx="242.3" cy="376.5" r="3.7"/>
<circle cx="236.6" cy="364.1" r="3.7"/>
<circle cx="259.7" cy="366.0" r="3.7"/>
<circle cx="244.6" cy="361.4" r="3.7"/>
<circle cx="258.9" cy="356.9" r="3.7"/>
<circle cx="254.7" cy="357.9" r="3.7"/>
<circle cx="247.2" cy="363.3" r="3.7"/>
<circle cx="251.7" cy="352.3" r="3.7"/>
<circle cx="235.0" cy="367.3" r="3.7"/>
<circle cx="251.4" cy="365.4" r="3.7"/>
<circle cx="248.2" cy="365.5" r="3.7"/>
<circle cx="243.0" cy="360.6" r="3.7"/>
<circle cx="257.3" cy="366.1" r="3.7"/>
<circle cx="251.9" cy="356.8" r="3.7"/>
<circle cx="244.9" cy="364.4" r="3.7"/>
<circle cx="240.8" cy="353.8" r="3.7"/>
<circle cx="260.0" cy="365.1" r="3.7"/>
<circle cx="261.8" cy="358.4" r="3.7"/>
<circle cx="237.4" cy="360.7" r="3.7"/>
<circle cx="250.7" cy="360.6" r="3.7"/>
<circle cx="253.4" cy="366.7" r="3.7"/>
<circle cx="256.3" cy="361.8" r="3.7"/>
<circle cx="261.1" cy="364.6" r="3.7"/>
<circle cx="233.1" cy="351.7" r="3.7"/>
<circle cx="252.6" cy="375.5" r="3.7"/>
<circle cx="245.2" cy="368.9" r="3.7"/>
<circle cx="255.0" cy="367.8" r="3.7"/>
<circle cx="256.5" cy="367.1" r="3.7"/>
<circle cx="255.2" cy="367.7" r="3.7"/>
<circle cx="241.5" cy="360.1" r="3.7"/>
<circle cx="247.6" cy="360.5" r="3.7"/>
<circle cx="238.6" cy="370.4" r="3.7"/>
<circle cx="246.9" cy="351.3" r="3.7"/>
<circle cx="251.6" cy="374.5" r="3.7"/>
<circle cx="229.0" cy="352.0" r="3.7"/>
<circle cx="251.2" cy="371.9" r="3.7"/>
<circle cx="255.4" cy="358.4" r="3.7"/>
<circle cx="262.7" cy="362.6" r="3.7"/>
<circle cx="245.9" cy="358.6" r="3.7"/>
<circle cx="240.5" cy="366.7" r="3.7"/>
<circle cx="242.7" cy="367.5" r="3.7"/>
<circle cx="240.9" cy="373.1" r="3.7"/>
<circle cx="242.0" cy="361.4" r="3.7"/>
<circle cx="249.3" cy="364.3" r="3.7"/>
<circle cx="252.1" cy="359.1" r="3.7"/>
<circle cx="252.1" cy="350.7" r="3.7"/>
<circle cx="250.9" cy="361.4" r="3.7"/>
<circle cx="246.0" cy="356.9" r="3.7"/>
<circle cx="258.2" cy="382.7" r="3.7"/>
<circle cx="254.3" cy="370.8" r="3.7"/>
<circle cx="251.3" cy="363.3" r="3.7"/>
<circle cx="241.0" cy="372.5" r="3.7"/>
<circle cx="247.4" cy="347.1" r="3.7"/>
<circle cx="241.2" cy="366.4" r="3.7"/>
<circle cx="247.2" cy="365.5" r="3.7"/>
<circle cx="256.2" cy="350.7" r="3.7"/>
<circle cx="248.8" cy="361.2" r="3.7"/>
<circle cx="247.0" cy="353.8" r="3.7"/>
<circle cx="248.7" cy="359.5" r="3.7"/>
<circle cx="247.8" cy="356.7" r="3.7"/>
<circle cx="248.6" cy="369.2" r="3.7"/>
</g>
<g fill="none" stroke="#606060" stroke-opacity="0.6" stroke-width="1.1">
<circle cx="270.7" cy="397.9" r="3.7"/>
<circle cx="246.5" cy="375.7" r="3.7"/>
<circle cx="231.4" cy="341.7" r="3.7"/>
<circle cx="248.8" cy="376.6" r="3.7"/>
<circle cx="231.7" cy="366.1" r="3.7"/>
<circle cx="244.0" cy="374.2" r="3.7"/>
<circle cx="234.8" cy="349.6" r="3.7"/>
<circle cx="247.1" cy="373.4" r="3.7"/>
<circle cx="226.6" cy="381.6" r="3.7"/>
<circle cx="254.3" cy="381.3" r="3.7"/>
<circle cx="253.2" cy="372.4" r="3.7"/>
<circle cx="249.6" cy="366.0" r="3.7"/>
<circle cx="238.0" cy="374.5" r="3.7"/>
<circle cx="243.1" cy="361.7" r="3.7"/>
<circle cx="277.6" cy="358.7" r="3.7"/>
<circle cx="225.9" cy="339.9" r="3.7"/>
<circle cx="242.5" cy="380.5" r="3.7"/>
<circle cx="245.8" cy="371.6" r="3.7"/>
<circle cx="247.6" cy="371.2" r="3.7"/>
<circle cx="243.7" cy="353.2" r="3.7"/>
<circle cx="267.7" cy="369.4" r="3.7"/>
<circle cx="266.2" cy="357.8" r="3.7"/>
<circle cx="260.7" cy="367.1" r="3.7"/>
<circle cx="247.0" cy="359.7" r="3.7"/>
<circle cx="230.7" cy="370.0" r="3.7"/>
<circle cx="228.3" cy="358.1" r="3.7"/>
<circle cx="247.1" cy="362.5" r="3.7"/>
<circle cx="239.4" cy="381.5" r="3.7"/>
<circle cx="257.5" cy="376.8" r="3.7"/>
<circle cx="241.1" cy="370.3" r="3.7"/>
<circle cx="250.6" cy="370.0" r="3.7"/>
<circle cx="229.6" cy="385.4" r="3.7"/>
<circle cx="258.2" cy="375.2" r="3.7"/>
<circle cx="240.7" cy="383.1" r="3.7"/>
<circle cx="257.1" cy="364.3" r="3.7"/>
<circle cx="236.6" cy="394.8" r="3.7"/>
<circle cx="269.2" cy="378.6" r="3.7"/>
<circle cx="227.9" cy="377.6" r="3.7"/>
<circle cx="228.2" cy="370.9" r="3.7"/>
<circle cx="236.4" cy="387.3" r="3.7"/>
</g>
<g fill="none" stroke="#a0a0a0" stroke-opacity="0.9" stroke-width="1.1">
<circle cx="222.4" cy="376.9" r="3.7"/>
<circle cx="192.1" cy="369.8" r="3.7"/>
<circle cx="207.7" cy="378.3" r="3.7"/>
<circle cx="194.4" cy="376.0" r="3.7"/>
<circle cx="207.1" cy="374.7" r="3.7"/>
<circle cx="208.3" cy="364.2" r="3.7"/>
<circle cx="226.9" cy="369.9" r="3.7"/>
<circle cx="221.0" cy="374.5" r="3.7"/>
<circle cx="196.9" cy="368.6" r="3.7"/>
<circle cx="230.7" cy="375.9" r="3.7"/>
<circle cx="206.0" cy="376.0" r="3.7"/>
<circle cx="198.5" cy="368.5" r="3.7"/>
<circle cx="201.3" cy="363.6" r="3.7"/>
<circle cx="234.2" cy="371.3" r="3.7"/>
<circle cx="213.8" cy="376.9" r="3.7"/>
<circle cx="225.1" cy="371.3" r="3.7"/>
<circle cx="196.5" cy="377.4" r="3.7"/>
<circle cx="219.9" cy="374.8" r="3.7"/>
<circle cx="219.5" cy="370.3" r="3.7"/>
<circle cx="231.4" cy="372.4" r="3.7"/>
<circle cx="226.9" cy="365.2" r="3.7"/>
<circle cx="230.1" cy="373.8" r="3.7"/>
<circle cx="217.6" cy="356.6" r="3.7"/>
<circle cx="212.0" cy="375.4" r="3.7"/>
<circle cx="215.7" cy="378.8" r="3.7"/>
<circle cx="204.1" cy="374.3" r="3.7"/>
<circle cx="210.9" cy="365.8" r="3.7"/>
<circle cx="201.2" cy="372.9" r="3.7"/>
<circle cx="217.4" cy="373.5" r="3.7"/>
<circle cx="223.1" cy="358.5" r="3.7"/>
<circle cx="201.4" cy="377.0" r="3.7"/>
<circle cx="208.2" cy="375.0" r="3.7"/>
<circle cx="207.8" cy="369.3" r="3.7"/>
<circle cx="235.1" cy="357.1" r="3.7"/>
<circle cx="213.3" cy="384.0" r="3.7"/>
<circle cx="232.9" cy="371.7" r="3.7"/>
<circle cx="209.4" cy="365.2" r="3.7"/>
<circle cx="212.9" cy="373.1" r="3.7"/>
<circle cx="203.9" cy="366.3" r="3.7"/>
<circle cx="224.4" cy="376.9" r="3.7"/>
<circle cx="207.6" cy="364.4" r="3.7"/>
<circle cx="205.7" cy="374.3" r="3.7"/>
<circle cx="205.1" cy="373.2" r="3.7"/>
<circle cx="224.5" cy="371.4" r="3.7"/>
<circle cx="226.2" cy="368.2" r="3.7"/>
<circle cx="190.2" cy="371.9" r="3.7"/>
<circle cx="214.0" cy="381.7" r="3.7"/>
<circle cx="223.6" cy="372.1" r="3.7"/>
<circle cx="208.3" cy="368.7" r="3.7"/>
<circle cx="225.8" cy="367.5" r="3.7"/>
<circle cx="208.0" cy="372.0" r="3.7"/>
<circle cx="243.5" cy="379.5" r="3.7"/>
<circle cx="215.2" cy="371.6" r="3.7"/>
<circle cx="232.2" cy="368.1" r="3.7"/>
<circle cx="216.9" cy="373.6" r="3.7"/>
<circle cx="229.1" cy="371.4" r="3.7"/>
<circle cx="213.1" cy="370.8" r="3.7"/>
<circle cx="222.5" cy="371.6" r="3.7"/>
<circle cx="217.4" cy="367.0" r="3.7"/>
<circle cx="205.7" cy="373.2" r="3.7"/>
<circle cx="215.1" cy="367.7" r="3.7"/>
<circle cx="221.0" cy="374.7" r="3.7"/>
<circle cx="202.0" cy="374.0" r="3.7"/>
<circle cx="208.3" cy="366.5" r="3.7"/>
<circle cx="221.9" cy="371.4" r="3.7"/>
<circle cx="201.4" cy="379.6" r="3.7"/>
<circle cx="215.8" cy="368.2" r="3.7"/>
<circle cx="218.8" cy="373.3" r="3.7"/>
<circle cx="221.1" cy="383.5" r="3.7"/>
<circle cx="228.0" cy="362.8" r="3.7"/>
<circle cx="216.4" cy="370.4" r="3.7"/>
<circle cx="211.8" cy="366.5" r="3.7"/>
<circle cx="203.4" cy="375.2" r="3.7"/>
<circle cx="219.0" cy="380.3" r="3.7"/>
<circle cx="220.2" cy="369.1" r="3.7"/>
<circle cx="214.1" cy="374.8" r="3.7"/>
<circle cx="235.1" cy="375.0" r="3.7"/>
<circle cx="216.1" cy="367.0" r="3.7"/>
<circle cx="214.1" cy="365.5" r="3.7"/>
<circle cx="214.3" cy="370.3" r="3.7"/>
<circle cx="144.6" cy="362.2" r="3.7"/>
<circle cx="137.0" cy="360.6" r="3.7"/>
<circle cx="157.0" cy="374.1" r="3.7"/>
<circle cx="126.9" cy="376.1" r="3.7"/>
<circle cx="135.2" cy="362.0" r="3.7"/>
<circle cx="145.5" cy="353.7" r="3.7"/>
<circle cx="163.5" cy="377.5" r="3.7"/>
<circle cx="140.1" cy="368.9" r="3.7"/>
<circle cx="163.9" cy="361.4" r="3.7"/>
<circle cx="155.8" cy="372.5" r="3.7"/>
<circle cx="168.9" cy="374.5" r="3.7"/>
<circle cx="145.1" cy="373.5" r="3.7"/>
<circle cx="134.0" cy="365.1" r="3.7"/>
<circle cx="134.0" cy="362.1" r="3.7"/>
<circle cx="150.9" cy="366.4" r="3.7"/>
<circle cx="152.3" cy="359.0" r="3.7"/>
<circle cx="157.7" cy="374.7" r="3.7"/>
<circle cx="152.5" cy="360.6" r="3.7"/>
<circle cx="140.2" cy="369.5" r="3.7"/>
<circle cx="159.1" cy="362.2" r="3.7"/>
<circle cx="146.3" cy="356.9" r="3.7"/>
<circle cx="155.8" cy="354.8" r="3.7"/>
<circle cx="140.1" cy="360.0" r="3.7"/>
<circle cx="121.1" cy="371.3" r="3.7"/>
<circle cx="164.6" cy="373.6" r="3.7"/>
<circle cx="142.9" cy="369.2" r="3.7"/>
<circle cx="150.4" cy="358.9" r="3.7"/>
<circle cx="163.8" cy="367.9" r="3.7"/>
<circle cx="148.7" cy="360.7" r="3.7"/>
<circle cx="158.5" cy="368.8" r="3.7"/>
</g>
<g fill="none" stroke="#606060" stroke-opacity="0.7" stroke-width="1.1">
<circle cx="160.9" cy="376.8" r="3.7"/>
<circle cx="148.0" cy="376.4" r="3.7"/>
<circle cx="139.2" cy="372.3" r="3.7"/>
<circle cx="165.9" cy="355.2" r="3.7"/>
<circle cx="154.0" cy="365.7" r="3.7"/>
<circle cx="121.4" cy="378.6" r="3.7"/>
<circle cx="146.9" cy="361.7" r="3.7"/>
<circle cx="150.9" cy="371.9" r="3.7"/>
</g>
<g fill="none" stroke="#a0a0a0" stroke-opacity="0.95" stroke-width="1.1">
<circle cx="143.9" cy="323.7" r="3.7"/>
<circle cx="186.3" cy="321.8" r="3.7"/>
<circle cx="154.1" cy="330.2" r="3.7"/>
<circle cx="160.8" cy="326.0" r="3.7"/>
<circle cx="134.8" cy="313.7" r="3.7"/>
<circle cx="161.0" cy="323.5" r="3.7"/>
<circle cx="148.4" cy="318.0" r="3.7"/>
<circle cx="168.7" cy="336.3" r="3.7"/>
<circle cx="169.0" cy="336.1" r="3.7"/>
<circle cx="129.0" cy="320.7" r="3.7"/>
<circle cx="140.9" cy="334.5" r="3.7"/>
<circle cx="141.7" cy="329.8" r="3.7"/>
<circle cx="244.9" cy="230.1" r="3.7"/>
<circle cx="252.3" cy="224.8" r="3.7"/>
<circle cx="252.2" cy="228.8" r="3.7"/>
<circle cx="252.5" cy="227.7" r="3.7"/>
<circle cx="256.1" cy="229.6" r="3.7"/>
<circle cx="237.7" cy="234.1" r="3.7"/>
<circle cx="250.6" cy="231.8" r="3.7"/>
<circle cx="244.4" cy="232.5" r="3.7"/>
<circle cx="241.7" cy="226.7" r="3.7"/>
<circle cx="255.1" cy="235.2" r="3.7"/>
<circle cx="249.8" cy="230.7" r="3.7"/>
<circle cx="243.9" cy="226.9" r="3.7"/>
</g>
<g fill="none" stroke="#606060" stroke-opacity="0.8" stroke-width="1.1">
<circle cx="250.9" cy="230.4" r="3.7"/>
<circle cx="240.4" cy="227.2" r="3.7"/>
<circle cx="250.3" cy="229.6" r="3.7"/>
<circle cx="241.9" cy="225.3" r="3.7"/>
</g>
<g fill="none" stroke="#a0a0a0" stroke-opacity="0.95" stroke-width="1.1">
<circle cx="207.2" cy="282.4" r="3.7"/>
<circle cx="224.3" cy="281.7" r="3.7"/>
<circle cx="231.9" cy="275.4" r="3.7"/>
<circle cx="240.1" cy="269.8" r="3.7"/>
<circle cx="260.2" cy="266.9" r="3.7"/>
<circle cx="245.6" cy="272.6" r="3.7"/>
<circle cx="248.6" cy="265.0" r="3.7"/>
<circle cx="235.4" cy="257.5" r="3.7"/>
<circle cx="243.9" cy="264.6" r="3.7"/>
<circle cx="214.9" cy="269.9" r="3.7"/>
<circle cx="239.4" cy="260.6" r="3.7"/>
<circle cx="256.2" cy="268.9" r="3.7"/>
<circle cx="251.6" cy="273.9" r="3.7"/>
<circle cx="233.3" cy="262.3" r="3.7"/>
<circle cx="229.8" cy="275.6" r="3.7"/>
<circle cx="230.2" cy="278.9" r="3.7"/>
<circle cx="239.2" cy="264.8" r="3.7"/>
<circle cx="232.5" cy="265.6" r="3.7"/>
</g>
<g fill="none" stroke="#606060" stroke-opacity="0.8" stroke-width="1.1">
<circle cx="221.9" cy="278.0" r="3.7"/>
<circle cx="233.8" cy="266.1" r="3.7"/>
<circle cx="259.9" cy="289.8" r="3.7"/>
</g>
<g fill="none" stroke="#a0a0a0" stroke-opacity="0.95" stroke-width="1.1">
<circle cx="245.0" cy="312.2" r="3.7"/>
<circle cx="244.4" cy="312.0" r="3.7"/>
<circle cx="257.9" cy="322.8" r="3.7"/>
<circle cx="227.4" cy="330.3" r="3.7"/>
<circle cx="262.5" cy="332.1" r="3.7"/>
<circle cx="231.2" cy="328.7" r="3.7"/>
<circle cx="259.2" cy="324.2" r="3.7"/>
<circle cx="225.9" cy="330.1" r="3.7"/>
<circle cx="252.2" cy="315.9" r="3.7"/>
<circle cx="262.3" cy="321.0" r="3.7"/>
</g>
<g fill="none" stroke="#a0a0a0" stroke-opacity="0.8" stroke-width="1.1">
<circle cx="114.9" cy="271.4" r="3.7"/>
<circle cx="182.5" cy="265.4" r="3.7"/>
<circle cx="182.5" cy="269.4" r="3.7"/>
<circle cx="204.4" cy="263.4" r="3.7"/>
<circle cx="206.3" cy="231.6" r="3.7"/>
<circle cx="204.4" cy="265.4" r="3.7"/>
<circle cx="222.2" cy="249.5" r="3.7"/>
<circle cx="279.9" cy="269.4" r="3.7"/>
<circle cx="283.9" cy="269.4" r="3.7"/>
<circle cx="281.9" cy="277.4" r="3.7"/>
<circle cx="224.2" cy="293.3" r="3.7"/>
<circle cx="132.8" cy="333.0" r="3.7"/>
<circle cx="180.5" cy="335.0" r="3.7"/>
<circle cx="176.5" cy="392.7" r="3.7"/>
<circle cx="124.8" cy="398.6" r="3.7"/>
<circle cx="206.3" cy="343.0" r="3.7"/>
</g>
</g>
<rect x="101.0" y="221.7" width="198.75" height="198.80" fill="none" stroke="#5a5a5a" stroke-width="1.4"/>
<line x1="101.0" y1="370.8" x2="103.5" y2="370.8" stroke="#555" stroke-width="1" />
<line x1="299.75" y1="370.8" x2="297.25" y2="370.8" stroke="#555" stroke-width="1" />
<line x1="150.6875" y1="420.5" x2="150.6875" y2="418.0" stroke="#555" stroke-width="1" />
<line x1="150.6875" y1="221.7" x2="150.6875" y2="224.2" stroke="#555" stroke-width="1" />
<line x1="101.0" y1="321.1" x2="103.5" y2="321.1" stroke="#555" stroke-width="1" />
<line x1="299.75" y1="321.1" x2="297.25" y2="321.1" stroke="#555" stroke-width="1" />
<line x1="200.375" y1="420.5" x2="200.375" y2="418.0" stroke="#555" stroke-width="1" />
<line x1="200.375" y1="221.7" x2="200.375" y2="224.2" stroke="#555" stroke-width="1" />
<line x1="101.0" y1="271.4" x2="103.5" y2="271.4" stroke="#555" stroke-width="1" />
<line x1="299.75" y1="271.4" x2="297.25" y2="271.4" stroke="#555" stroke-width="1" />
<line x1="250.0625" y1="420.5" x2="250.0625" y2="418.0" stroke="#555" stroke-width="1" />
<line x1="250.0625" y1="221.7" x2="250.0625" y2="224.2" stroke="#555" stroke-width="1" />
<text x="101.2" y="438.2" font-size="13.3" text-anchor="middle" font-weight="normal" fill="#231f20" font-family='"Liberation Sans", sans-serif' >0</text>
<text x="201.875" y="438.2" font-size="13.3" text-anchor="middle" font-weight="normal" fill="#231f20" font-family='"Liberation Sans", sans-serif' letter-spacing="2">0.5</text>
<text x="299.75" y="438.2" font-size="13.3" text-anchor="middle" font-weight="normal" fill="#231f20" font-family='"Liberation Sans", sans-serif' >1</text>
<text x="196.775" y="466" font-size="15.8" text-anchor="middle" font-weight="normal" fill="#231f20" font-family='"Liberation Sans", sans-serif' >Player 1 location</text>
<g>
<line x1="446.75" y1="221.7" x2="446.75" y2="420.5" stroke="#8a8a8a" stroke-width="0.7" />
<line x1="347.2" y1="321.1" x2="546.3" y2="321.1" stroke="#8a8a8a" stroke-width="0.7" />
<g fill="none" stroke="#505050" stroke-opacity="0.45" stroke-width="0.95">
<circle cx="428.2" cy="281.5" r="3.7"/>
<circle cx="408.9" cy="269.9" r="3.7"/>
<circle cx="413.3" cy="280.8" r="3.7"/>
<circle cx="400.8" cy="272.5" r="3.7"/>
<circle cx="394.2" cy="270.8" r="3.7"/>
<circle cx="399.8" cy="269.4" r="3.7"/>
<circle cx="395.9" cy="263.7" r="3.7"/>
<circle cx="399.5" cy="286.8" r="3.7"/>
<circle cx="416.8" cy="275.9" r="3.7"/>
<circle cx="397.5" cy="265.2" r="3.7"/>
<circle cx="407.2" cy="269.9" r="3.7"/>
<circle cx="396.4" cy="265.3" r="3.7"/>
<circle cx="389.6" cy="255.4" r="3.7"/>
<circle cx="392.3" cy="266.3" r="3.7"/>
<circle cx="405.1" cy="268.2" r="3.7"/>
<circle cx="402.5" cy="265.6" r="3.7"/>
<circle cx="368.8" cy="258.2" r="3.7"/>
<circle cx="402.1" cy="271.8" r="3.7"/>
<circle cx="418.9" cy="281.0" r="3.7"/>
<circle cx="402.8" cy="281.7" r="3.7"/>
<circle cx="406.4" cy="280.5" r="3.7"/>
<circle cx="387.9" cy="250.0" r="3.7"/>
<circle cx="410.7" cy="272.3" r="3.7"/>
<circle cx="405.3" cy="279.1" r="3.7"/>
<circle cx="393.1" cy="263.5" r="3.7"/>
<circle cx="382.3" cy="260.7" r="3.7"/>
<circle cx="386.2" cy="262.9" r="3.7"/>
<circle cx="392.4" cy="255.1" r="3.7"/>
<circle cx="413.9" cy="276.5" r="3.7"/>
<circle cx="384.5" cy="267.9" r="3.7"/>
<circle cx="403.1" cy="275.6" r="3.7"/>
<circle cx="406.5" cy="264.7" r="3.7"/>
<circle cx="403.1" cy="272.2" r="3.7"/>
<circle cx="411.5" cy="274.3" r="3.7"/>
<circle cx="412.2" cy="274.7" r="3.7"/>
<circle cx="420.0" cy="277.2" r="3.7"/>
<circle cx="392.9" cy="265.4" r="3.7"/>
<circle cx="397.2" cy="273.3" r="3.7"/>
<circle cx="402.4" cy="264.7" r="3.7"/>
<circle cx="381.8" cy="262.4" r="3.7"/>
<circle cx="402.1" cy="270.1" r="3.7"/>
<circle cx="411.8" cy="280.6" r="3.7"/>
<circle cx="410.4" cy="273.5" r="3.7"/>
<circle cx="404.8" cy="271.5" r="3.7"/>
<circle cx="400.4" cy="271.8" r="3.7"/>
<circle cx="407.9" cy="258.3" r="3.7"/>
<circle cx="414.4" cy="268.2" r="3.7"/>
<circle cx="409.5" cy="274.6" r="3.7"/>
<circle cx="410.0" cy="259.1" r="3.7"/>
<circle cx="390.9" cy="260.1" r="3.7"/>
<circle cx="414.2" cy="271.5" r="3.7"/>
<circle cx="412.0" cy="263.9" r="3.7"/>
<circle cx="426.4" cy="269.5" r="3.7"/>
<circle cx="420.8" cy="273.4" r="3.7"/>
<circle cx="412.5" cy="271.4" r="3.7"/>
<circle cx="407.2" cy="273.4" r="3.7"/>
<circle cx="411.1" cy="263.1" r="3.7"/>
<circle cx="402.7" cy="267.5" r="3.7"/>
<circle cx="410.6" cy="271.6" r="3.7"/>
<circle cx="413.8" cy="271.3" r="3.7"/>
<circle cx="392.7" cy="271.7" r="3.7"/>
<circle cx="411.8" cy="268.2" r="3.7"/>
<circle cx="415.6" cy="271.9" r="3.7"/>
<circle cx="406.6" cy="279.8" r="3.7"/>
<circle cx="418.6" cy="280.0" r="3.7"/>
<circle cx="415.0" cy="280.1" r="3.7"/>
<circle cx="397.9" cy="266.2" r="3.7"/>
<circle cx="400.3" cy="272.3" r="3.7"/>
<circle cx="413.6" cy="268.5" r="3.7"/>
<circle cx="408.6" cy="272.9" r="3.7"/>
<circle cx="396.4" cy="269.5" r="3.7"/>
<circle cx="399.4" cy="267.8" r="3.7"/>
<circle cx="412.4" cy="273.2" r="3.7"/>
<circle cx="396.8" cy="270.4" r="3.7"/>
<circle cx="417.6" cy="273.0" r="3.7"/>
<circle cx="407.1" cy="268.6" r="3.7"/>
<circle cx="410.7" cy="270.7" r="3.7"/>
<circle cx="416.6" cy="268.6" r="3.7"/>
<circle cx="376.5" cy="260.4" r="3.7"/>
<circle cx="434.4" cy="287.5" r="3.7"/>
<circle cx="406.1" cy="263.3" r="3.7"/>
<circle cx="404.9" cy="261.3" r="3.7"/>
<circle cx="392.2" cy="272.6" r="3.7"/>
<circle cx="403.0" cy="273.2" r="3.7"/>
<circle cx="394.2" cy="262.2" r="3.7"/>
<circle cx="407.6" cy="270.3" r="3.7"/>
<circle cx="400.9" cy="266.4" r="3.7"/>
<circle cx="403.7" cy="273.4" r="3.7"/>
<circle cx="410.0" cy="269.0" r="3.7"/>
<circle cx="405.7" cy="265.5" r="3.7"/>
</g>
<g fill="none" stroke="#606060" stroke-opacity="0.45" stroke-width="0.95">
<circle cx="403.6" cy="286.8" r="3.7"/>
<circle cx="410.6" cy="272.1" r="3.7"/>
<circle cx="423.0" cy="264.3" r="3.7"/>
<circle cx="435.7" cy="289.0" r="3.7"/>
<circle cx="403.8" cy="280.5" r="3.7"/>
<circle cx="413.5" cy="286.9" r="3.7"/>
<circle cx="404.2" cy="279.3" r="3.7"/>
<circle cx="419.1" cy="281.3" r="3.7"/>
<circle cx="420.6" cy="294.3" r="3.7"/>
<circle cx="390.1" cy="288.0" r="3.7"/>
<circle cx="409.3" cy="290.6" r="3.7"/>
<circle cx="428.4" cy="286.3" r="3.7"/>
<circle cx="434.9" cy="283.5" r="3.7"/>
<circle cx="425.1" cy="280.3" r="3.7"/>
<circle cx="426.5" cy="297.8" r="3.7"/>
<circle cx="429.9" cy="284.2" r="3.7"/>
<circle cx="405.2" cy="279.2" r="3.7"/>
<circle cx="421.0" cy="272.5" r="3.7"/>
<circle cx="425.6" cy="281.7" r="3.7"/>
<circle cx="397.4" cy="268.7" r="3.7"/>
<circle cx="434.6" cy="277.6" r="3.7"/>
<circle cx="422.4" cy="273.2" r="3.7"/>
<circle cx="406.5" cy="278.3" r="3.7"/>
<circle cx="417.2" cy="295.3" r="3.7"/>
<circle cx="421.3" cy="281.8" r="3.7"/>
<circle cx="437.2" cy="275.9" r="3.7"/>
<circle cx="397.7" cy="304.8" r="3.7"/>
<circle cx="415.9" cy="287.4" r="3.7"/>
<circle cx="405.7" cy="299.8" r="3.7"/>
<circle cx="414.6" cy="296.8" r="3.7"/>
<circle cx="408.6" cy="276.7" r="3.7"/>
<circle cx="419.7" cy="292.8" r="3.7"/>
<circle cx="403.5" cy="287.2" r="3.7"/>
<circle cx="437.6" cy="290.4" r="3.7"/>
<circle cx="437.6" cy="293.1" r="3.7"/>
<circle cx="414.4" cy="278.4" r="3.7"/>
<circle cx="407.6" cy="284.8" r="3.7"/>
<circle cx="400.7" cy="278.7" r="3.7"/>
<circle cx="430.7" cy="291.8" r="3.7"/>
<circle cx="419.1" cy="289.4" r="3.7"/>
</g>
<g fill="none" stroke="#a0a0a0" stroke-opacity="0.8" stroke-width="0.95">
<circle cx="358.0" cy="254.3" r="3.7"/>
<circle cx="377.5" cy="267.6" r="3.7"/>
<circle cx="375.8" cy="272.2" r="3.7"/>
<circle cx="389.6" cy="286.1" r="3.7"/>
<circle cx="370.9" cy="276.3" r="3.7"/>
<circle cx="371.6" cy="268.5" r="3.7"/>
<circle cx="368.1" cy="282.6" r="3.7"/>
<circle cx="365.2" cy="270.2" r="3.7"/>
<circle cx="379.7" cy="267.8" r="3.7"/>
<circle cx="384.2" cy="277.0" r="3.7"/>
<circle cx="380.0" cy="268.6" r="3.7"/>
<circle cx="371.9" cy="278.6" r="3.7"/>
<circle cx="379.2" cy="278.1" r="3.7"/>
<circle cx="371.0" cy="280.2" r="3.7"/>
<circle cx="385.3" cy="273.8" r="3.7"/>
<circle cx="369.6" cy="275.1" r="3.7"/>
<circle cx="371.5" cy="272.8" r="3.7"/>
<circle cx="361.2" cy="281.5" r="3.7"/>
<circle cx="376.6" cy="265.9" r="3.7"/>
<circle cx="366.0" cy="272.6" r="3.7"/>
<circle cx="369.1" cy="289.2" r="3.7"/>
<circle cx="370.9" cy="281.0" r="3.7"/>
<circle cx="379.2" cy="274.9" r="3.7"/>
<circle cx="372.8" cy="283.6" r="3.7"/>
<circle cx="374.1" cy="287.0" r="3.7"/>
<circle cx="374.6" cy="263.8" r="3.7"/>
<circle cx="364.6" cy="267.5" r="3.7"/>
<circle cx="382.9" cy="274.8" r="3.7"/>
<circle cx="380.9" cy="272.8" r="3.7"/>
<circle cx="369.6" cy="287.4" r="3.7"/>
<circle cx="365.6" cy="283.8" r="3.7"/>
<circle cx="389.7" cy="271.6" r="3.7"/>
<circle cx="371.9" cy="282.8" r="3.7"/>
<circle cx="385.1" cy="281.5" r="3.7"/>
<circle cx="383.4" cy="265.8" r="3.7"/>
<circle cx="373.6" cy="278.0" r="3.7"/>
<circle cx="372.7" cy="282.6" r="3.7"/>
<circle cx="377.6" cy="261.7" r="3.7"/>
<circle cx="379.3" cy="266.1" r="3.7"/>
<circle cx="368.2" cy="271.3" r="3.7"/>
</g>
<g fill="none" stroke="#a0a0a0" stroke-opacity="0.7" stroke-width="0.95">
<circle cx="376.8" cy="291.8" r="3.7"/>
<circle cx="394.3" cy="262.4" r="3.7"/>
<circle cx="387.7" cy="287.0" r="3.7"/>
<circle cx="368.1" cy="285.6" r="3.7"/>
<circle cx="377.9" cy="301.3" r="3.7"/>
<circle cx="372.2" cy="285.9" r="3.7"/>
<circle cx="383.0" cy="280.6" r="3.7"/>
<circle cx="384.7" cy="287.3" r="3.7"/>
<circle cx="401.6" cy="279.3" r="3.7"/>
<circle cx="394.7" cy="272.6" r="3.7"/>
<circle cx="389.2" cy="297.2" r="3.7"/>
<circle cx="379.1" cy="302.9" r="3.7"/>
<circle cx="390.5" cy="291.3" r="3.7"/>
<circle cx="392.1" cy="279.0" r="3.7"/>
<circle cx="378.9" cy="285.5" r="3.7"/>
<circle cx="399.7" cy="286.5" r="3.7"/>
<circle cx="396.3" cy="289.3" r="3.7"/>
<circle cx="377.5" cy="289.6" r="3.7"/>
<circle cx="368.2" cy="280.2" r="3.7"/>
<circle cx="381.8" cy="273.9" r="3.7"/>
<circle cx="374.7" cy="286.0" r="3.7"/>
<circle cx="390.4" cy="289.3" r="3.7"/>
<circle cx="390.8" cy="294.9" r="3.7"/>
<circle cx="376.3" cy="301.4" r="3.7"/>
<circle cx="381.3" cy="295.5" r="3.7"/>
<circle cx="389.4" cy="291.0" r="3.7"/>
<circle cx="380.4" cy="294.7" r="3.7"/>
<circle cx="368.0" cy="291.0" r="3.7"/>
<circle cx="391.2" cy="300.7" r="3.7"/>
<circle cx="384.4" cy="280.5" r="3.7"/>
</g>
<g fill="none" stroke="#383838" stroke-opacity="0.62" stroke-width="0.95">
<circle cx="443.2" cy="320.2" r="3.7"/>
<circle cx="445.3" cy="309.3" r="3.7"/>
<circle cx="460.0" cy="315.4" r="3.7"/>
<circle cx="443.2" cy="318.0" r="3.7"/>
<circle cx="447.4" cy="319.4" r="3.7"/>
<circle cx="444.1" cy="320.3" r="3.7"/>
<circle cx="442.6" cy="319.7" r="3.7"/>
<circle cx="462.9" cy="327.7" r="3.7"/>
<circle cx="438.1" cy="318.7" r="3.7"/>
<circle cx="455.1" cy="322.9" r="3.7"/>
<circle cx="453.5" cy="319.0" r="3.7"/>
<circle cx="453.2" cy="314.4" r="3.7"/>
<circle cx="443.5" cy="317.9" r="3.7"/>
<circle cx="450.4" cy="324.4" r="3.7"/>
<circle cx="452.8" cy="327.4" r="3.7"/>
<circle cx="436.7" cy="315.9" r="3.7"/>
<circle cx="439.8" cy="312.9" r="3.7"/>
<circle cx="457.2" cy="323.6" r="3.7"/>
<circle cx="441.6" cy="331.9" r="3.7"/>
<circle cx="448.1" cy="329.0" r="3.7"/>
<circle cx="461.4" cy="329.3" r="3.7"/>
<circle cx="449.2" cy="334.4" r="3.7"/>
<circle cx="445.9" cy="314.7" r="3.7"/>
<circle cx="445.1" cy="325.1" r="3.7"/>
<circle cx="444.8" cy="319.3" r="3.7"/>
<circle cx="455.9" cy="322.3" r="3.7"/>
<circle cx="432.1" cy="319.6" r="3.7"/>
<circle cx="456.6" cy="309.9" r="3.7"/>
<circle cx="450.1" cy="320.3" r="3.7"/>
<circle cx="444.3" cy="317.5" r="3.7"/>
<circle cx="463.1" cy="326.0" r="3.7"/>
<circle cx="449.4" cy="326.2" r="3.7"/>
<circle cx="443.1" cy="322.0" r="3.7"/>
<circle cx="452.7" cy="325.2" r="3.7"/>
<circle cx="446.3" cy="314.5" r="3.7"/>
<circle cx="452.8" cy="317.7" r="3.7"/>
<circle cx="451.9" cy="322.1" r="3.7"/>
<circle cx="452.1" cy="318.6" r="3.7"/>
<circle cx="448.7" cy="316.1" r="3.7"/>
<circle cx="448.7" cy="316.7" r="3.7"/>
<circle cx="448.9" cy="317.6" r="3.7"/>
<circle cx="443.2" cy="323.9" r="3.7"/>
<circle cx="439.3" cy="315.3" r="3.7"/>
<circle cx="452.9" cy="320.1" r="3.7"/>
<circle cx="453.7" cy="325.2" r="3.7"/>
<circle cx="449.5" cy="323.6" r="3.7"/>
<circle cx="433.5" cy="322.4" r="3.7"/>
<circle cx="441.6" cy="314.2" r="3.7"/>
<circle cx="442.6" cy="324.2" r="3.7"/>
<circle cx="456.7" cy="321.2" r="3.7"/>
<circle cx="437.8" cy="320.0" r="3.7"/>
<circle cx="442.5" cy="312.8" r="3.7"/>
<circle cx="440.1" cy="324.8" r="3.7"/>
<circle cx="426.3" cy="324.4" r="3.7"/>
<circle cx="464.0" cy="321.7" r="3.7"/>
<circle cx="440.9" cy="319.7" r="3.7"/>
<circle cx="446.3" cy="321.3" r="3.7"/>
<circle cx="469.0" cy="311.3" r="3.7"/>
<circle cx="461.7" cy="313.0" r="3.7"/>
<circle cx="441.2" cy="330.7" r="3.7"/>
<circle cx="454.8" cy="319.2" r="3.7"/>
<circle cx="449.1" cy="321.7" r="3.7"/>
<circle cx="454.6" cy="318.4" r="3.7"/>
<circle cx="450.8" cy="318.7" r="3.7"/>
<circle cx="447.1" cy="322.9" r="3.7"/>
<circle cx="460.1" cy="322.3" r="3.7"/>
<circle cx="465.0" cy="318.0" r="3.7"/>
<circle cx="449.2" cy="315.6" r="3.7"/>
<circle cx="444.7" cy="322.0" r="3.7"/>
<circle cx="445.9" cy="321.1" r="3.7"/>
<circle cx="454.3" cy="310.9" r="3.7"/>
<circle cx="453.0" cy="326.3" r="3.7"/>
<circle cx="442.0" cy="330.0" r="3.7"/>
<circle cx="454.7" cy="316.8" r="3.7"/>
<circle cx="451.4" cy="319.4" r="3.7"/>
<circle cx="453.0" cy="319.0" r="3.7"/>
<circle cx="454.0" cy="320.0" r="3.7"/>
<circle cx="440.7" cy="316.5" r="3.7"/>
<circle cx="459.6" cy="329.1" r="3.7"/>
<circle cx="446.8" cy="326.7" r="3.7"/>
<circle cx="452.9" cy="322.5" r="3.7"/>
<circle cx="460.3" cy="315.7" r="3.7"/>
<circle cx="444.9" cy="323.4" r="3.7"/>
<circle cx="443.9" cy="318.3" r="3.7"/>
<circle cx="441.1" cy="319.0" r="3.7"/>
<circle cx="437.3" cy="316.0" r="3.7"/>
<circle cx="452.6" cy="326.8" r="3.7"/>
<circle cx="442.3" cy="320.4" r="3.7"/>
<circle cx="451.0" cy="335.1" r="3.7"/>
<circle cx="450.4" cy="313.7" r="3.7"/>
<circle cx="445.1" cy="327.7" r="3.7"/>
<circle cx="458.6" cy="319.9" r="3.7"/>
<circle cx="450.3" cy="318.1" r="3.7"/>
<circle cx="438.7" cy="324.4" r="3.7"/>
<circle cx="439.5" cy="326.7" r="3.7"/>
<circle cx="446.1" cy="326.3" r="3.7"/>
<circle cx="461.8" cy="318.7" r="3.7"/>
<circle cx="455.4" cy="329.2" r="3.7"/>
<circle cx="446.9" cy="321.9" r="3.7"/>
<circle cx="450.0" cy="318.9" r="3.7"/>
<circle cx="442.2" cy="325.6" r="3.7"/>
<circle cx="456.5" cy="310.1" r="3.7"/>
<circle cx="465.6" cy="322.5" r="3.7"/>
<circle cx="442.3" cy="320.2" r="3.7"/>
<circle cx="452.5" cy="312.5" r="3.7"/>
<circle cx="446.8" cy="324.8" r="3.7"/>
<circle cx="457.2" cy="324.7" r="3.7"/>
<circle cx="441.7" cy="318.5" r="3.7"/>
<circle cx="447.1" cy="326.3" r="3.7"/>
<circle cx="446.5" cy="323.1" r="3.7"/>
<circle cx="446.9" cy="324.7" r="3.7"/>
<circle cx="453.4" cy="322.9" r="3.7"/>
<circle cx="443.8" cy="316.0" r="3.7"/>
<circle cx="441.2" cy="317.5" r="3.7"/>
<circle cx="453.5" cy="322.6" r="3.7"/>
<circle cx="450.4" cy="328.4" r="3.7"/>
<circle cx="450.7" cy="326.2" r="3.7"/>
<circle cx="441.7" cy="319.9" r="3.7"/>
<circle cx="442.7" cy="320.5" r="3.7"/>
<circle cx="452.0" cy="316.0" r="3.7"/>
<circle cx="451.9" cy="316.1" r="3.7"/>
<circle cx="442.6" cy="322.9" r="3.7"/>
<circle cx="453.9" cy="315.4" r="3.7"/>
<circle cx="452.3" cy="323.7" r="3.7"/>
<circle cx="440.0" cy="325.7" r="3.7"/>
<circle cx="457.8" cy="325.9" r="3.7"/>
<circle cx="446.8" cy="318.1" r="3.7"/>
<circle cx="452.2" cy="324.5" r="3.7"/>
<circle cx="464.8" cy="320.3" r="3.7"/>
<circle cx="451.0" cy="317.2" r="3.7"/>
<circle cx="446.2" cy="317.8" r="3.7"/>
<circle cx="447.6" cy="325.4" r="3.7"/>
<circle cx="441.0" cy="319.3" r="3.7"/>
<circle cx="449.5" cy="321.9" r="3.7"/>
<circle cx="445.0" cy="322.3" r="3.7"/>
<circle cx="455.1" cy="315.8" r="3.7"/>
<circle cx="446.7" cy="319.9" r="3.7"/>
<circle cx="433.7" cy="326.7" r="3.7"/>
<circle cx="443.0" cy="325.5" r="3.7"/>
<circle cx="454.3" cy="331.2" r="3.7"/>
<circle cx="452.6" cy="317.8" r="3.7"/>
<circle cx="466.5" cy="323.5" r="3.7"/>
<circle cx="452.4" cy="314.0" r="3.7"/>
<circle cx="456.2" cy="325.6" r="3.7"/>
<circle cx="445.9" cy="326.7" r="3.7"/>
<circle cx="449.3" cy="317.8" r="3.7"/>
<circle cx="459.6" cy="318.4" r="3.7"/>
<circle cx="455.9" cy="316.0" r="3.7"/>
<circle cx="442.1" cy="317.9" r="3.7"/>
<circle cx="456.5" cy="322.0" r="3.7"/>
<circle cx="441.1" cy="320.4" r="3.7"/>
<circle cx="450.0" cy="317.8" r="3.7"/>
<circle cx="434.4" cy="322.9" r="3.7"/>
<circle cx="464.9" cy="314.9" r="3.7"/>
<circle cx="447.5" cy="322.5" r="3.7"/>
<circle cx="446.6" cy="325.8" r="3.7"/>
<circle cx="445.1" cy="321.3" r="3.7"/>
<circle cx="439.1" cy="321.5" r="3.7"/>
<circle cx="450.9" cy="327.3" r="3.7"/>
<circle cx="445.1" cy="328.6" r="3.7"/>
</g>
<g fill="none" stroke="#505050" stroke-opacity="0.4" stroke-width="0.95">
<circle cx="419.2" cy="352.9" r="3.7"/>
<circle cx="415.2" cy="354.3" r="3.7"/>
<circle cx="422.7" cy="348.8" r="3.7"/>
<circle cx="409.5" cy="357.8" r="3.7"/>
<circle cx="408.8" cy="371.9" r="3.7"/>
<circle cx="426.0" cy="348.1" r="3.7"/>
<circle cx="427.8" cy="348.0" r="3.7"/>
<circle cx="415.3" cy="353.0" r="3.7"/>
<circle cx="415.1" cy="342.7" r="3.7"/>
<circle cx="402.4" cy="351.3" r="3.7"/>
<circle cx="415.0" cy="348.5" r="3.7"/>
<circle cx="427.3" cy="360.6" r="3.7"/>
<circle cx="428.4" cy="345.1" r="3.7"/>
<circle cx="407.8" cy="338.5" r="3.7"/>
<circle cx="410.6" cy="367.1" r="3.7"/>
<circle cx="425.5" cy="361.4" r="3.7"/>
<circle cx="420.4" cy="355.3" r="3.7"/>
<circle cx="411.7" cy="340.5" r="3.7"/>
<circle cx="429.3" cy="354.2" r="3.7"/>
<circle cx="429.9" cy="355.0" r="3.7"/>
<circle cx="420.7" cy="357.6" r="3.7"/>
<circle cx="409.6" cy="358.0" r="3.7"/>
<circle cx="412.2" cy="351.2" r="3.7"/>
<circle cx="419.9" cy="360.1" r="3.7"/>
<circle cx="427.8" cy="351.6" r="3.7"/>
<circle cx="431.6" cy="358.4" r="3.7"/>
<circle cx="416.2" cy="361.5" r="3.7"/>
<circle cx="420.5" cy="356.3" r="3.7"/>
<circle cx="419.1" cy="339.1" r="3.7"/>
<circle cx="424.5" cy="360.5" r="3.7"/>
<circle cx="421.7" cy="357.2" r="3.7"/>
<circle cx="416.7" cy="356.8" r="3.7"/>
<circle cx="419.3" cy="349.1" r="3.7"/>
<circle cx="426.0" cy="354.5" r="3.7"/>
<circle cx="413.2" cy="354.9" r="3.7"/>
<circle cx="417.6" cy="357.3" r="3.7"/>
<circle cx="410.4" cy="356.1" r="3.7"/>
<circle cx="406.2" cy="343.5" r="3.7"/>
<circle cx="424.0" cy="348.2" r="3.7"/>
<circle cx="412.4" cy="352.7" r="3.7"/>
<circle cx="427.8" cy="356.8" r="3.7"/>
<circle cx="411.4" cy="355.9" r="3.7"/>
<circle cx="403.1" cy="346.5" r="3.7"/>
<circle cx="421.9" cy="367.2" r="3.7"/>
<circle cx="423.8" cy="344.7" r="3.7"/>
<circle cx="423.4" cy="348.9" r="3.7"/>
<circle cx="429.7" cy="352.9" r="3.7"/>
<circle cx="428.7" cy="356.7" r="3.7"/>
<circle cx="414.1" cy="357.8" r="3.7"/>
<circle cx="411.6" cy="351.4" r="3.7"/>
</g>
<g fill="none" stroke="#505050" stroke-opacity="0.45" stroke-width="0.95">
<circle cx="481.6" cy="364.3" r="3.7"/>
<circle cx="491.7" cy="355.4" r="3.7"/>
<circle cx="506.2" cy="370.6" r="3.7"/>
<circle cx="486.9" cy="368.0" r="3.7"/>
<circle cx="482.4" cy="354.2" r="3.7"/>
<circle cx="500.9" cy="368.3" r="3.7"/>
<circle cx="474.8" cy="371.3" r="3.7"/>
<circle cx="488.8" cy="355.8" r="3.7"/>
<circle cx="475.8" cy="356.7" r="3.7"/>
<circle cx="474.3" cy="364.4" r="3.7"/>
<circle cx="477.0" cy="369.8" r="3.7"/>
<circle cx="464.7" cy="362.6" r="3.7"/>
<circle cx="488.9" cy="374.1" r="3.7"/>
<circle cx="467.3" cy="367.3" r="3.7"/>
<circle cx="488.3" cy="376.9" r="3.7"/>
<circle cx="493.4" cy="367.7" r="3.7"/>
<circle cx="477.2" cy="372.4" r="3.7"/>
<circle cx="464.0" cy="361.8" r="3.7"/>
<circle cx="498.3" cy="368.2" r="3.7"/>
<circle cx="475.9" cy="374.7" r="3.7"/>
<circle cx="485.4" cy="373.1" r="3.7"/>
<circle cx="491.3" cy="373.0" r="3.7"/>
<circle cx="497.4" cy="358.6" r="3.7"/>
<circle cx="482.5" cy="372.6" r="3.7"/>
<circle cx="459.0" cy="366.7" r="3.7"/>
<circle cx="492.2" cy="373.5" r="3.7"/>
<circle cx="499.6" cy="371.6" r="3.7"/>
<circle cx="476.7" cy="361.2" r="3.7"/>
<circle cx="493.0" cy="381.3" r="3.7"/>
<circle cx="481.5" cy="375.9" r="3.7"/>
<circle cx="486.2" cy="365.7" r="3.7"/>
<circle cx="483.9" cy="365.9" r="3.7"/>
<circle cx="497.4" cy="369.2" r="3.7"/>
<circle cx="475.8" cy="373.8" r="3.7"/>
<circle cx="496.7" cy="355.0" r="3.7"/>
<circle cx="486.7" cy="364.3" r="3.7"/>
<circle cx="480.4" cy="371.0" r="3.7"/>
<circle cx="498.0" cy="370.5" r="3.7"/>
<circle cx="490.2" cy="366.1" r="3.7"/>
<circle cx="500.0" cy="365.3" r="3.7"/>
<circle cx="487.8" cy="369.0" r="3.7"/>
<circle cx="483.1" cy="359.9" r="3.7"/>
<circle cx="509.7" cy="377.9" r="3.7"/>
<circle cx="498.6" cy="373.8" r="3.7"/>
<circle cx="482.3" cy="369.1" r="3.7"/>
<circle cx="484.0" cy="369.5" r="3.7"/>
<circle cx="482.4" cy="354.4" r="3.7"/>
<circle cx="474.0" cy="371.5" r="3.7"/>
<circle cx="480.7" cy="365.6" r="3.7"/>
<circle cx="475.6" cy="367.0" r="3.7"/>
<circle cx="489.6" cy="353.4" r="3.7"/>
<circle cx="494.8" cy="367.3" r="3.7"/>
<circle cx="489.5" cy="354.1" r="3.7"/>
<circle cx="487.3" cy="371.7" r="3.7"/>
<circle cx="482.3" cy="369.5" r="3.7"/>
<circle cx="497.2" cy="373.9" r="3.7"/>
<circle cx="482.7" cy="367.1" r="3.7"/>
<circle cx="479.2" cy="362.4" r="3.7"/>
<circle cx="484.5" cy="363.5" r="3.7"/>
<circle cx="493.5" cy="356.6" r="3.7"/>
<circle cx="505.7" cy="372.9" r="3.7"/>
<circle cx="475.4" cy="375.0" r="3.7"/>
<circle cx="493.1" cy="363.3" r="3.7"/>
<circle cx="488.4" cy="367.2" r="3.7"/>
<circle cx="503.5" cy="360.7" r="3.7"/>
<circle cx="490.6" cy="362.6" r="3.7"/>
<circle cx="473.6" cy="358.7" r="3.7"/>
<circle cx="508.9" cy="365.9" r="3.7"/>
<circle cx="484.2" cy="358.3" r="3.7"/>
<circle cx="483.6" cy="366.2" r="3.7"/>
</g>
<g fill="none" stroke="#a0a0a0" stroke-opacity="0.8" stroke-width="0.95">
<circle cx="482.2" cy="357.8" r="3.7"/>
<circle cx="482.8" cy="368.4" r="3.7"/>
<circle cx="464.1" cy="352.6" r="3.7"/>
<circle cx="481.7" cy="355.6" r="3.7"/>
<circle cx="476.3" cy="356.6" r="3.7"/>
<circle cx="481.2" cy="363.7" r="3.7"/>
<circle cx="480.1" cy="361.6" r="3.7"/>
<circle cx="491.0" cy="354.8" r="3.7"/>
<circle cx="480.2" cy="350.9" r="3.7"/>
<circle cx="484.2" cy="351.3" r="3.7"/>
<circle cx="474.7" cy="356.0" r="3.7"/>
<circle cx="483.9" cy="355.6" r="3.7"/>
<circle cx="479.3" cy="360.3" r="3.7"/>
<circle cx="479.7" cy="348.7" r="3.7"/>
<circle cx="471.5" cy="365.0" r="3.7"/>
<circle cx="471.5" cy="366.1" r="3.7"/>
<circle cx="486.2" cy="345.7" r="3.7"/>
<circle cx="481.6" cy="356.3" r="3.7"/>
<circle cx="486.8" cy="350.6" r="3.7"/>
<circle cx="465.1" cy="357.3" r="3.7"/>
</g>
<g fill="none" stroke="#777" stroke-opacity="0.6" stroke-width="0.95">
<circle cx="466.1" cy="336.5" r="3.7"/>
<circle cx="441.2" cy="345.4" r="3.7"/>
<circle cx="459.2" cy="338.3" r="3.7"/>
<circle cx="450.1" cy="273.5" r="3.7"/>
<circle cx="448.2" cy="320.1" r="3.7"/>
<circle cx="438.6" cy="369.6" r="3.7"/>
<circle cx="455.3" cy="372.1" r="3.7"/>
<circle cx="455.3" cy="271.8" r="3.7"/>
<circle cx="458.6" cy="328.1" r="3.7"/>
<circle cx="440.1" cy="317.1" r="3.7"/>
<circle cx="457.0" cy="299.4" r="3.7"/>
<circle cx="450.6" cy="325.8" r="3.7"/>
<circle cx="454.1" cy="397.7" r="3.7"/>
<circle cx="437.5" cy="259.5" r="3.7"/>
<circle cx="450.5" cy="293.2" r="3.7"/>
<circle cx="431.8" cy="354.3" r="3.7"/>
<circle cx="443.4" cy="324.9" r="3.7"/>
<circle cx="456.1" cy="343.2" r="3.7"/>
<circle cx="447.8" cy="349.4" r="3.7"/>
<circle cx="445.0" cy="306.2" r="3.7"/>
<circle cx="450.1" cy="281.8" r="3.7"/>
<circle cx="436.9" cy="290.3" r="3.7"/>
<circle cx="450.4" cy="352.1" r="3.7"/>
<circle cx="457.1" cy="347.2" r="3.7"/>
<circle cx="443.9" cy="300.1" r="3.7"/>
<circle cx="458.0" cy="337.0" r="3.7"/>
<circle cx="458.4" cy="305.0" r="3.7"/>
<circle cx="440.8" cy="292.3" r="3.7"/>
<circle cx="447.3" cy="349.2" r="3.7"/>
<circle cx="445.6" cy="271.9" r="3.7"/>
<circle cx="449.5" cy="330.6" r="3.7"/>
<circle cx="453.2" cy="375.9" r="3.7"/>
<circle cx="451.9" cy="268.6" r="3.7"/>
<circle cx="437.7" cy="364.2" r="3.7"/>
<circle cx="440.0" cy="329.1" r="3.7"/>
<circle cx="440.9" cy="321.6" r="3.7"/>
<circle cx="438.9" cy="309.9" r="3.7"/>
<circle cx="451.3" cy="303.2" r="3.7"/>
<circle cx="442.3" cy="288.1" r="3.7"/>
<circle cx="434.6" cy="346.6" r="3.7"/>
<circle cx="446.2" cy="270.6" r="3.7"/>
<circle cx="443.8" cy="296.8" r="3.7"/>
<circle cx="459.6" cy="243.5" r="3.7"/>
<circle cx="460.4" cy="352.0" r="3.7"/>
<circle cx="448.9" cy="301.1" r="3.7"/>
<circle cx="452.1" cy="300.6" r="3.7"/>
<circle cx="445.9" cy="318.9" r="3.7"/>
<circle cx="436.0" cy="292.5" r="3.7"/>
<circle cx="449.4" cy="343.4" r="3.7"/>
<circle cx="460.9" cy="320.3" r="3.7"/>
<circle cx="441.7" cy="297.5" r="3.7"/>
<circle cx="450.3" cy="295.1" r="3.7"/>
<circle cx="446.1" cy="290.6" r="3.7"/>
<circle cx="447.8" cy="273.4" r="3.7"/>
<circle cx="449.4" cy="352.6" r="3.7"/>
<circle cx="438.8" cy="298.2" r="3.7"/>
<circle cx="454.2" cy="377.8" r="3.7"/>
<circle cx="451.6" cy="323.3" r="3.7"/>
<circle cx="449.0" cy="352.3" r="3.7"/>
<circle cx="438.1" cy="343.6" r="3.7"/>
<circle cx="440.5" cy="337.0" r="3.7"/>
<circle cx="447.7" cy="318.9" r="3.7"/>
<circle cx="461.7" cy="357.6" r="3.7"/>
<circle cx="443.4" cy="316.8" r="3.7"/>
<circle cx="451.7" cy="361.0" r="3.7"/>
<circle cx="435.6" cy="310.6" r="3.7"/>
<circle cx="449.8" cy="297.8" r="3.7"/>
<circle cx="451.9" cy="380.6" r="3.7"/>
<circle cx="455.2" cy="325.4" r="3.7"/>
<circle cx="463.2" cy="335.8" r="3.7"/>
<circle cx="445.5" cy="318.5" r="3.7"/>
<circle cx="446.3" cy="325.1" r="3.7"/>
<circle cx="365.5" cy="322.4" r="3.7"/>
<circle cx="423.5" cy="326.2" r="3.7"/>
<circle cx="439.8" cy="323.4" r="3.7"/>
<circle cx="350.3" cy="327.5" r="3.7"/>
<circle cx="401.2" cy="323.0" r="3.7"/>
<circle cx="507.4" cy="321.3" r="3.7"/>
<circle cx="460.8" cy="337.5" r="3.7"/>
<circle cx="489.3" cy="325.2" r="3.7"/>
<circle cx="460.1" cy="329.5" r="3.7"/>
<circle cx="435.7" cy="314.7" r="3.7"/>
<circle cx="436.1" cy="319.3" r="3.7"/>
<circle cx="404.5" cy="326.6" r="3.7"/>
<circle cx="448.8" cy="322.5" r="3.7"/>
<circle cx="442.7" cy="326.2" r="3.7"/>
<circle cx="420.5" cy="315.2" r="3.7"/>
<circle cx="497.7" cy="324.1" r="3.7"/>
<circle cx="409.4" cy="320.1" r="3.7"/>
<circle cx="476.8" cy="318.9" r="3.7"/>
<circle cx="483.7" cy="322.5" r="3.7"/>
<circle cx="396.0" cy="335.7" r="3.7"/>
<circle cx="473.6" cy="319.0" r="3.7"/>
<circle cx="409.5" cy="318.3" r="3.7"/>
<circle cx="387.7" cy="313.0" r="3.7"/>
<circle cx="481.5" cy="311.9" r="3.7"/>
<circle cx="418.3" cy="310.0" r="3.7"/>
<circle cx="472.5" cy="308.6" r="3.7"/>
<circle cx="364.4" cy="313.8" r="3.7"/>
<circle cx="493.4" cy="323.2" r="3.7"/>
<circle cx="478.2" cy="320.1" r="3.7"/>
<circle cx="499.7" cy="322.8" r="3.7"/>
<circle cx="439.5" cy="330.1" r="3.7"/>
<circle cx="525.7" cy="327.4" r="3.7"/>
<circle cx="392.4" cy="328.0" r="3.7"/>
<circle cx="441.0" cy="320.5" r="3.7"/>
<circle cx="456.1" cy="308.9" r="3.7"/>
<circle cx="479.9" cy="332.3" r="3.7"/>
<circle cx="445.1" cy="322.4" r="3.7"/>
<circle cx="469.9" cy="320.0" r="3.7"/>
<circle cx="494.6" cy="319.9" r="3.7"/>
<circle cx="521.6" cy="328.4" r="3.7"/>
<circle cx="487.6" cy="313.8" r="3.7"/>
<circle cx="406.3" cy="331.3" r="3.7"/>
<circle cx="409.5" cy="318.0" r="3.7"/>
<circle cx="508.3" cy="332.4" r="3.7"/>
<circle cx="425.3" cy="330.8" r="3.7"/>
<circle cx="471.3" cy="319.8" r="3.7"/>
<circle cx="438.9" cy="315.2" r="3.7"/>
<circle cx="450.6" cy="309.6" r="3.7"/>
<circle cx="425.2" cy="325.6" r="3.7"/>
<circle cx="438.0" cy="321.3" r="3.7"/>
<circle cx="492.5" cy="324.0" r="3.7"/>
<circle cx="415.0" cy="326.2" r="3.7"/>
<circle cx="404.6" cy="336.3" r="3.7"/>
<circle cx="443.2" cy="317.0" r="3.7"/>
<circle cx="444.6" cy="327.0" r="3.7"/>
<circle cx="477.0" cy="315.4" r="3.7"/>
<circle cx="448.5" cy="316.0" r="3.7"/>
<circle cx="432.9" cy="317.8" r="3.7"/>
<circle cx="460.5" cy="330.4" r="3.7"/>
<circle cx="416.0" cy="326.5" r="3.7"/>
<circle cx="454.4" cy="341.1" r="3.7"/>
<circle cx="449.7" cy="321.1" r="3.7"/>
<circle cx="429.8" cy="317.9" r="3.7"/>
<circle cx="373.5" cy="319.3" r="3.7"/>
<circle cx="404.9" cy="325.8" r="3.7"/>
<circle cx="496.4" cy="323.6" r="3.7"/>
<circle cx="482.9" cy="321.3" r="3.7"/>
</g>
<g fill="none" stroke="#7a7a7a" stroke-opacity="0.55" stroke-width="0.95">
<circle cx="425.6" cy="330.2" r="3.7"/>
<circle cx="380.8" cy="328.6" r="3.7"/>
<circle cx="442.8" cy="257.1" r="3.7"/>
<circle cx="466.7" cy="280.8" r="3.7"/>
<circle cx="401.2" cy="344.9" r="3.7"/>
<circle cx="451.8" cy="293.1" r="3.7"/>
<circle cx="395.9" cy="272.2" r="3.7"/>
<circle cx="412.5" cy="303.7" r="3.7"/>
<circle cx="418.8" cy="284.6" r="3.7"/>
<circle cx="471.3" cy="272.8" r="3.7"/>
<circle cx="402.0" cy="308.4" r="3.7"/>
<circle cx="525.0" cy="314.2" r="3.7"/>
<circle cx="455.7" cy="309.3" r="3.7"/>
<circle cx="417.7" cy="244.2" r="3.7"/>
<circle cx="498.7" cy="342.5" r="3.7"/>
<circle cx="457.4" cy="238.3" r="3.7"/>
<circle cx="455.8" cy="311.0" r="3.7"/>
<circle cx="475.9" cy="280.4" r="3.7"/>
<circle cx="390.3" cy="347.7" r="3.7"/>
<circle cx="499.8" cy="337.5" r="3.7"/>
<circle cx="435.8" cy="340.8" r="3.7"/>
<circle cx="512.3" cy="365.1" r="3.7"/>
<circle cx="444.5" cy="330.2" r="3.7"/>
<circle cx="426.0" cy="364.4" r="3.7"/>
<circle cx="406.2" cy="322.8" r="3.7"/>
<circle cx="447.2" cy="390.0" r="3.7"/>
<circle cx="441.0" cy="350.3" r="3.7"/>
<circle cx="435.3" cy="332.8" r="3.7"/>
<circle cx="432.6" cy="324.6" r="3.7"/>
<circle cx="455.5" cy="314.4" r="3.7"/>
<circle cx="371.2" cy="413.3" r="3.7"/>
<circle cx="380.7" cy="303.0" r="3.7"/>
<circle cx="371.3" cy="356.5" r="3.7"/>
<circle cx="508.9" cy="329.7" r="3.7"/>
<circle cx="429.2" cy="301.1" r="3.7"/>
<circle cx="462.0" cy="336.1" r="3.7"/>
<circle cx="441.1" cy="398.6" r="3.7"/>
<circle cx="449.7" cy="291.3" r="3.7"/>
<circle cx="368.9" cy="277.5" r="3.7"/>
<circle cx="511.7" cy="420.5" r="3.7"/>
<circle cx="428.8" cy="257.4" r="3.7"/>
<circle cx="463.8" cy="344.2" r="3.7"/>
<circle cx="412.5" cy="330.6" r="3.7"/>
<circle cx="463.5" cy="350.5" r="3.7"/>
<circle cx="378.8" cy="309.9" r="3.7"/>
<circle cx="406.1" cy="245.8" r="3.7"/>
<circle cx="396.0" cy="303.9" r="3.7"/>
<circle cx="427.8" cy="376.3" r="3.7"/>
<circle cx="416.4" cy="397.5" r="3.7"/>
<circle cx="451.6" cy="354.9" r="3.7"/>
<circle cx="387.6" cy="380.6" r="3.7"/>
<circle cx="491.7" cy="294.1" r="3.7"/>
<circle cx="396.9" cy="322.4" r="3.7"/>
<circle cx="460.9" cy="291.7" r="3.7"/>
<circle cx="436.8" cy="401.8" r="3.7"/>
<circle cx="503.3" cy="321.0" r="3.7"/>
<circle cx="491.1" cy="368.5" r="3.7"/>
<circle cx="467.9" cy="260.1" r="3.7"/>
<circle cx="482.1" cy="366.2" r="3.7"/>
<circle cx="426.6" cy="251.2" r="3.7"/>
<circle cx="404.2" cy="286.8" r="3.7"/>
<circle cx="429.6" cy="377.4" r="3.7"/>
<circle cx="474.2" cy="270.1" r="3.7"/>
<circle cx="462.0" cy="304.7" r="3.7"/>
<circle cx="476.6" cy="397.4" r="3.7"/>
<circle cx="435.0" cy="244.2" r="3.7"/>
<circle cx="456.1" cy="270.5" r="3.7"/>
<circle cx="427.1" cy="300.9" r="3.7"/>
<circle cx="390.7" cy="293.6" r="3.7"/>
<circle cx="447.8" cy="330.8" r="3.7"/>
<circle cx="436.0" cy="311.5" r="3.7"/>
<circle cx="444.9" cy="283.4" r="3.7"/>
<circle cx="476.9" cy="404.4" r="3.7"/>
<circle cx="446.8" cy="268.4" r="3.7"/>
<circle cx="391.0" cy="322.3" r="3.7"/>
<circle cx="531.1" cy="341.0" r="3.7"/>
<circle cx="476.4" cy="304.9" r="3.7"/>
<circle cx="380.0" cy="325.8" r="3.7"/>
<circle cx="364.4" cy="329.8" r="3.7"/>
<circle cx="472.9" cy="288.2" r="3.7"/>
<circle cx="448.6" cy="337.5" r="3.7"/>
<circle cx="462.2" cy="263.9" r="3.7"/>
<circle cx="467.4" cy="273.7" r="3.7"/>
<circle cx="455.0" cy="296.2" r="3.7"/>
<circle cx="401.6" cy="252.1" r="3.7"/>
<circle cx="395.0" cy="351.9" r="3.7"/>
<circle cx="409.0" cy="345.3" r="3.7"/>
<circle cx="489.8" cy="323.5" r="3.7"/>
<circle cx="426.5" cy="326.4" r="3.7"/>
<circle cx="436.9" cy="259.7" r="3.7"/>
<circle cx="496.5" cy="333.0" r="3.7"/>
<circle cx="504.9" cy="289.8" r="3.7"/>
<circle cx="449.4" cy="260.5" r="3.7"/>
<circle cx="441.9" cy="301.3" r="3.7"/>
<circle cx="443.3" cy="362.8" r="3.7"/>
<circle cx="387.6" cy="355.1" r="3.7"/>
<circle cx="402.4" cy="339.2" r="3.7"/>
<circle cx="415.4" cy="269.0" r="3.7"/>
<circle cx="437.6" cy="282.6" r="3.7"/>
<circle cx="450.4" cy="350.6" r="3.7"/>
<circle cx="425.9" cy="377.1" r="3.7"/>
<circle cx="368.6" cy="299.3" r="3.7"/>
<circle cx="435.2" cy="312.0" r="3.7"/>
<circle cx="475.2" cy="371.7" r="3.7"/>
<circle cx="430.2" cy="408.7" r="3.7"/>
<circle cx="401.6" cy="291.1" r="3.7"/>
<circle cx="375.4" cy="370.2" r="3.7"/>
<circle cx="423.8" cy="246.1" r="3.7"/>
<circle cx="466.2" cy="323.6" r="3.7"/>
<circle cx="460.3" cy="312.4" r="3.7"/>
<circle cx="419.8" cy="338.2" r="3.7"/>
<circle cx="453.4" cy="321.0" r="3.7"/>
<circle cx="466.2" cy="339.1" r="3.7"/>
<circle cx="468.6" cy="333.4" r="3.7"/>
<circle cx="482.6" cy="274.9" r="3.7"/>
<circle cx="450.3" cy="344.0" r="3.7"/>
<circle cx="386.5" cy="311.9" r="3.7"/>
<circle cx="441.3" cy="347.5" r="3.7"/>
<circle cx="392.7" cy="335.5" r="3.7"/>
<circle cx="393.6" cy="343.1" r="3.7"/>
<circle cx="400.9" cy="298.1" r="3.7"/>
<circle cx="418.1" cy="317.9" r="3.7"/>
<circle cx="383.5" cy="271.0" r="3.7"/>
<circle cx="430.0" cy="330.7" r="3.7"/>
<circle cx="399.5" cy="291.4" r="3.7"/>
<circle cx="454.5" cy="342.3" r="3.7"/>
<circle cx="499.9" cy="353.6" r="3.7"/>
<circle cx="483.1" cy="309.1" r="3.7"/>
<circle cx="381.8" cy="327.2" r="3.7"/>
<circle cx="457.1" cy="333.3" r="3.7"/>
<circle cx="439.3" cy="320.1" r="3.7"/>
<circle cx="452.3" cy="343.3" r="3.7"/>
<circle cx="508.7" cy="302.6" r="3.7"/>
<circle cx="494.1" cy="326.2" r="3.7"/>
<circle cx="443.8" cy="356.5" r="3.7"/>
<circle cx="437.6" cy="253.4" r="3.7"/>
<circle cx="448.1" cy="345.9" r="3.7"/>
<circle cx="414.4" cy="291.8" r="3.7"/>
<circle cx="429.4" cy="231.8" r="3.7"/>
<circle cx="445.2" cy="314.8" r="3.7"/>
<circle cx="464.9" cy="248.2" r="3.7"/>
<circle cx="376.2" cy="345.1" r="3.7"/>
<circle cx="408.9" cy="397.5" r="3.7"/>
<circle cx="429.6" cy="319.7" r="3.7"/>
<circle cx="469.6" cy="289.4" r="3.7"/>
<circle cx="462.0" cy="290.8" r="3.7"/>
<circle cx="494.9" cy="328.9" r="3.7"/>
<circle cx="400.6" cy="294.7" r="3.7"/>
<circle cx="476.3" cy="295.5" r="3.7"/>
<circle cx="467.3" cy="274.8" r="3.7"/>
<circle cx="453.1" cy="353.8" r="3.7"/>
<circle cx="417.0" cy="388.9" r="3.7"/>
<circle cx="472.9" cy="337.6" r="3.7"/>
<circle cx="443.6" cy="227.8" r="3.7"/>
<circle cx="405.0" cy="315.0" r="3.7"/>
<circle cx="404.5" cy="391.2" r="3.7"/>
<circle cx="475.3" cy="319.4" r="3.7"/>
<circle cx="434.0" cy="283.6" r="3.7"/>
<circle cx="428.5" cy="287.2" r="3.7"/>
<circle cx="486.2" cy="343.8" r="3.7"/>
<circle cx="453.6" cy="309.4" r="3.7"/>
<circle cx="397.3" cy="251.8" r="3.7"/>
<circle cx="440.9" cy="287.9" r="3.7"/>
<circle cx="451.5" cy="321.0" r="3.7"/>
<circle cx="387.9" cy="315.4" r="3.7"/>
<circle cx="401.8" cy="255.4" r="3.7"/>
<circle cx="454.3" cy="339.0" r="3.7"/>
<circle cx="422.1" cy="269.5" r="3.7"/>
<circle cx="380.9" cy="307.6" r="3.7"/>
<circle cx="442.3" cy="352.7" r="3.7"/>
<circle cx="477.7" cy="332.0" r="3.7"/>
<circle cx="477.8" cy="307.3" r="3.7"/>
<circle cx="411.9" cy="320.1" r="3.7"/>
<circle cx="475.8" cy="353.7" r="3.7"/>
<circle cx="404.5" cy="319.4" r="3.7"/>
<circle cx="458.3" cy="290.3" r="3.7"/>
<circle cx="398.7" cy="364.2" r="3.7"/>
<circle cx="432.7" cy="324.9" r="3.7"/>
<circle cx="447.5" cy="378.5" r="3.7"/>
<circle cx="416.7" cy="361.3" r="3.7"/>
<circle cx="498.7" cy="400.2" r="3.7"/>
<circle cx="400.1" cy="337.4" r="3.7"/>
<circle cx="367.6" cy="334.4" r="3.7"/>
<circle cx="406.3" cy="379.9" r="3.7"/>
<circle cx="417.2" cy="262.3" r="3.7"/>
<circle cx="441.4" cy="260.6" r="3.7"/>
<circle cx="485.8" cy="310.3" r="3.7"/>
<circle cx="424.4" cy="406.0" r="3.7"/>
<circle cx="356.3" cy="307.2" r="3.7"/>
<circle cx="438.7" cy="309.0" r="3.7"/>
<circle cx="402.3" cy="327.7" r="3.7"/>
<circle cx="394.2" cy="280.7" r="3.7"/>
<circle cx="439.7" cy="398.2" r="3.7"/>
<circle cx="413.3" cy="265.8" r="3.7"/>
<circle cx="395.3" cy="361.4" r="3.7"/>
<circle cx="398.3" cy="338.6" r="3.7"/>
<circle cx="439.7" cy="322.9" r="3.7"/>
<circle cx="442.2" cy="339.7" r="3.7"/>
<circle cx="461.4" cy="258.4" r="3.7"/>
<circle cx="401.8" cy="304.4" r="3.7"/>
<circle cx="448.2" cy="308.7" r="3.7"/>
<circle cx="434.8" cy="296.5" r="3.7"/>
<circle cx="428.0" cy="341.5" r="3.7"/>
<circle cx="406.3" cy="285.4" r="3.7"/>
<circle cx="416.2" cy="388.9" r="3.7"/>
<circle cx="417.9" cy="336.7" r="3.7"/>
<circle cx="469.9" cy="274.5" r="3.7"/>
<circle cx="394.1" cy="265.2" r="3.7"/>
<circle cx="449.7" cy="252.6" r="3.7"/>
<circle cx="416.5" cy="288.8" r="3.7"/>
<circle cx="464.9" cy="251.7" r="3.7"/>
<circle cx="386.9" cy="316.5" r="3.7"/>
<circle cx="441.4" cy="323.6" r="3.7"/>
<circle cx="402.7" cy="325.6" r="3.7"/>
<circle cx="439.7" cy="236.8" r="3.7"/>
<circle cx="438.6" cy="272.3" r="3.7"/>
<circle cx="416.9" cy="306.0" r="3.7"/>
<circle cx="435.5" cy="311.8" r="3.7"/>
<circle cx="380.8" cy="315.3" r="3.7"/>
<circle cx="537.6" cy="315.3" r="3.7"/>
<circle cx="386.4" cy="221.8" r="3.7"/>
<circle cx="454.7" cy="300.7" r="3.7"/>
<circle cx="377.5" cy="327.0" r="3.7"/>
<circle cx="427.8" cy="321.5" r="3.7"/>
<circle cx="398.0" cy="288.5" r="3.7"/>
<circle cx="385.8" cy="268.9" r="3.7"/>
<circle cx="436.2" cy="332.9" r="3.7"/>
<circle cx="376.7" cy="301.2" r="3.7"/>
<circle cx="450.8" cy="374.9" r="3.7"/>
<circle cx="501.5" cy="324.8" r="3.7"/>
<circle cx="377.5" cy="266.0" r="3.7"/>
<circle cx="395.9" cy="351.7" r="3.7"/>
<circle cx="381.4" cy="353.8" r="3.7"/>
<circle cx="425.5" cy="359.8" r="3.7"/>
<circle cx="446.5" cy="357.6" r="3.7"/>
<circle cx="431.7" cy="407.5" r="3.7"/>
<circle cx="414.6" cy="319.5" r="3.7"/>
<circle cx="459.7" cy="331.2" r="3.7"/>
<circle cx="439.7" cy="302.8" r="3.7"/>
<circle cx="401.5" cy="294.6" r="3.7"/>
<circle cx="447.0" cy="338.5" r="3.7"/>
<circle cx="387.9" cy="265.3" r="3.7"/>
<circle cx="477.4" cy="308.7" r="3.7"/>
<circle cx="477.4" cy="257.6" r="3.7"/>
<circle cx="430.1" cy="293.2" r="3.7"/>
<circle cx="457.6" cy="296.6" r="3.7"/>
<circle cx="431.0" cy="335.0" r="3.7"/>
<circle cx="465.3" cy="307.5" r="3.7"/>
<circle cx="499.1" cy="297.5" r="3.7"/>
<circle cx="439.4" cy="366.6" r="3.7"/>
<circle cx="431.1" cy="305.0" r="3.7"/>
<circle cx="430.3" cy="345.5" r="3.7"/>
<circle cx="440.6" cy="251.5" r="3.7"/>
<circle cx="391.3" cy="295.5" r="3.7"/>
<circle cx="385.6" cy="278.5" r="3.7"/>
<circle cx="426.7" cy="316.5" r="3.7"/>
<circle cx="449.3" cy="343.0" r="3.7"/>
<circle cx="409.9" cy="276.7" r="3.7"/>
<circle cx="381.1" cy="354.3" r="3.7"/>
<circle cx="465.5" cy="287.3" r="3.7"/>
<circle cx="404.2" cy="347.6" r="3.7"/>
<circle cx="439.8" cy="240.8" r="3.7"/>
<circle cx="492.6" cy="328.8" r="3.7"/>
<circle cx="414.3" cy="320.4" r="3.7"/>
<circle cx="367.6" cy="305.4" r="3.7"/>
<circle cx="419.6" cy="274.1" r="3.7"/>
<circle cx="404.4" cy="303.6" r="3.7"/>
<circle cx="411.9" cy="338.5" r="3.7"/>
<circle cx="503.8" cy="352.8" r="3.7"/>
<circle cx="431.6" cy="300.6" r="3.7"/>
<circle cx="509.0" cy="304.0" r="3.7"/>
<circle cx="418.9" cy="305.3" r="3.7"/>
<circle cx="503.1" cy="293.7" r="3.7"/>
<circle cx="461.2" cy="224.7" r="3.7"/>
<circle cx="401.9" cy="269.3" r="3.7"/>
<circle cx="403.6" cy="265.1" r="3.7"/>
<circle cx="456.7" cy="289.6" r="3.7"/>
<circle cx="447.1" cy="304.6" r="3.7"/>
<circle cx="518.5" cy="311.6" r="3.7"/>
<circle cx="431.3" cy="291.1" r="3.7"/>
<circle cx="473.0" cy="307.6" r="3.7"/>
<circle cx="476.7" cy="290.0" r="3.7"/>
<circle cx="413.5" cy="308.6" r="3.7"/>
<circle cx="476.1" cy="352.0" r="3.7"/>
<circle cx="438.5" cy="346.0" r="3.7"/>
<circle cx="425.9" cy="378.5" r="3.7"/>
<circle cx="440.7" cy="341.6" r="3.7"/>
<circle cx="478.5" cy="329.5" r="3.7"/>
<circle cx="515.5" cy="269.5" r="3.7"/>
<circle cx="407.7" cy="231.8" r="3.7"/>
<circle cx="440.8" cy="299.5" r="3.7"/>
<circle cx="386.7" cy="319.6" r="3.7"/>
<circle cx="410.6" cy="368.2" r="3.7"/>
<circle cx="393.3" cy="261.3" r="3.7"/>
</g>
<g fill="none" stroke="#777" stroke-opacity="0.7" stroke-width="0.95">
<circle cx="363.1" cy="396.6" r="3.7"/>
<circle cx="371.1" cy="396.6" r="3.7"/>
<circle cx="387.0" cy="396.6" r="3.7"/>
<circle cx="375.1" cy="259.5" r="3.7"/>
<circle cx="526.4" cy="259.5" r="3.7"/>
<circle cx="532.4" cy="269.4" r="3.7"/>
<circle cx="540.3" cy="269.4" r="3.7"/>
<circle cx="520.4" cy="283.3" r="3.7"/>
<circle cx="526.4" cy="360.9" r="3.7"/>
<circle cx="532.4" cy="380.7" r="3.7"/>
<circle cx="522.4" cy="380.7" r="3.7"/>
<circle cx="430.8" cy="231.6" r="3.7"/>
<circle cx="434.8" cy="241.6" r="3.7"/>
<circle cx="470.6" cy="235.6" r="3.7"/>
<circle cx="476.6" cy="245.6" r="3.7"/>
</g>
</g>
<rect x="347.2" y="221.7" width="199.10" height="198.80" fill="none" stroke="#5a5a5a" stroke-width="1.4"/>
<line x1="347.2" y1="370.8" x2="349.7" y2="370.8" stroke="#555" stroke-width="1" />
<line x1="546.3" y1="370.8" x2="543.8" y2="370.8" stroke="#555" stroke-width="1" />
<line x1="396.97499999999997" y1="420.5" x2="396.97499999999997" y2="418.0" stroke="#555" stroke-width="1" />
<line x1="396.97499999999997" y1="221.7" x2="396.97499999999997" y2="224.2" stroke="#555" stroke-width="1" />
<line x1="347.2" y1="321.1" x2="349.7" y2="321.1" stroke="#555" stroke-width="1" />
<line x1="546.3" y1="321.1" x2="543.8" y2="321.1" stroke="#555" stroke-width="1" />
<line x1="446.75" y1="420.5" x2="446.75" y2="418.0" stroke="#555" stroke-width="1" />
<line x1="446.75" y1="221.7" x2="446.75" y2="224.2" stroke="#555" stroke-width="1" />
<line x1="347.2" y1="271.4" x2="349.7" y2="271.4" stroke="#555" stroke-width="1" />
<line x1="546.3" y1="271.4" x2="543.8" y2="271.4" stroke="#555" stroke-width="1" />
<line x1="496.525" y1="420.5" x2="496.525" y2="418.0" stroke="#555" stroke-width="1" />
<line x1="496.525" y1="221.7" x2="496.525" y2="224.2" stroke="#555" stroke-width="1" />
<text x="347.4" y="438.2" font-size="13.3" text-anchor="middle" font-weight="normal" fill="#231f20" font-family='"Liberation Sans", sans-serif' >0</text>
<text x="448.25" y="438.2" font-size="13.3" text-anchor="middle" font-weight="normal" fill="#231f20" font-family='"Liberation Sans", sans-serif' letter-spacing="2">0.5</text>
<text x="546.3" y="438.2" font-size="13.3" text-anchor="middle" font-weight="normal" fill="#231f20" font-family='"Liberation Sans", sans-serif' >1</text>
<text x="443.15" y="466" font-size="15.8" text-anchor="middle" font-weight="normal" fill="#231f20" font-family='"Liberation Sans", sans-serif' >Player 1 location</text>
<g>
<line x1="693.5" y1="221.7" x2="693.5" y2="420.5" stroke="#8a8a8a" stroke-width="0.7" />
<line x1="594.0" y1="321.1" x2="793.0" y2="321.1" stroke="#8a8a8a" stroke-width="0.7" />
<g fill="none" stroke="#a0a0a0" stroke-opacity="0.9" stroke-width="1.1">
<circle cx="682.1" cy="275.6" r="3.7"/>
<circle cx="676.0" cy="278.4" r="3.7"/>
<circle cx="680.0" cy="292.2" r="3.7"/>
<circle cx="692.9" cy="287.6" r="3.7"/>
<circle cx="681.3" cy="281.3" r="3.7"/>
<circle cx="688.3" cy="289.6" r="3.7"/>
<circle cx="685.1" cy="299.9" r="3.7"/>
<circle cx="679.4" cy="294.1" r="3.7"/>
<circle cx="673.6" cy="305.8" r="3.7"/>
<circle cx="671.8" cy="291.9" r="3.7"/>
<circle cx="680.5" cy="292.8" r="3.7"/>
<circle cx="682.0" cy="303.9" r="3.7"/>
<circle cx="681.1" cy="286.7" r="3.7"/>
<circle cx="686.0" cy="298.5" r="3.7"/>
<circle cx="679.2" cy="311.3" r="3.7"/>
<circle cx="678.6" cy="313.3" r="3.7"/>
<circle cx="673.1" cy="277.2" r="3.7"/>
<circle cx="668.4" cy="280.6" r="3.7"/>
<circle cx="683.5" cy="292.7" r="3.7"/>
<circle cx="684.3" cy="283.5" r="3.7"/>
<circle cx="687.8" cy="291.8" r="3.7"/>
<circle cx="678.0" cy="295.9" r="3.7"/>
<circle cx="675.7" cy="289.8" r="3.7"/>
<circle cx="676.9" cy="277.6" r="3.7"/>
<circle cx="670.4" cy="301.3" r="3.7"/>
<circle cx="675.9" cy="312.2" r="3.7"/>
<circle cx="692.9" cy="315.6" r="3.7"/>
<circle cx="679.9" cy="295.0" r="3.7"/>
<circle cx="691.4" cy="311.0" r="3.7"/>
<circle cx="688.0" cy="297.3" r="3.7"/>
<circle cx="680.6" cy="296.6" r="3.7"/>
<circle cx="685.4" cy="301.7" r="3.7"/>
<circle cx="681.1" cy="285.4" r="3.7"/>
<circle cx="692.5" cy="315.6" r="3.7"/>
<circle cx="690.7" cy="278.9" r="3.7"/>
<circle cx="678.7" cy="286.0" r="3.7"/>
<circle cx="678.8" cy="271.3" r="3.7"/>
<circle cx="682.8" cy="291.6" r="3.7"/>
<circle cx="680.2" cy="291.5" r="3.7"/>
<circle cx="680.5" cy="298.9" r="3.7"/>
<circle cx="693.8" cy="310.2" r="3.7"/>
<circle cx="660.0" cy="290.6" r="3.7"/>
<circle cx="680.7" cy="285.2" r="3.7"/>
<circle cx="680.3" cy="290.9" r="3.7"/>
<circle cx="683.5" cy="278.7" r="3.7"/>
<circle cx="678.9" cy="293.4" r="3.7"/>
<circle cx="693.1" cy="283.5" r="3.7"/>
<circle cx="675.7" cy="263.9" r="3.7"/>
<circle cx="686.2" cy="295.7" r="3.7"/>
<circle cx="674.5" cy="286.0" r="3.7"/>
<circle cx="676.6" cy="300.9" r="3.7"/>
<circle cx="673.8" cy="294.8" r="3.7"/>
<circle cx="688.2" cy="294.0" r="3.7"/>
<circle cx="672.9" cy="282.0" r="3.7"/>
<circle cx="682.0" cy="280.1" r="3.7"/>
<circle cx="688.7" cy="291.1" r="3.7"/>
<circle cx="680.7" cy="289.8" r="3.7"/>
<circle cx="674.8" cy="282.0" r="3.7"/>
<circle cx="689.8" cy="287.4" r="3.7"/>
<circle cx="680.1" cy="292.1" r="3.7"/>
<circle cx="676.9" cy="298.1" r="3.7"/>
<circle cx="679.2" cy="298.5" r="3.7"/>
<circle cx="678.9" cy="306.5" r="3.7"/>
<circle cx="683.7" cy="288.8" r="3.7"/>
<circle cx="674.7" cy="314.4" r="3.7"/>
<circle cx="681.5" cy="277.2" r="3.7"/>
<circle cx="677.2" cy="294.6" r="3.7"/>
<circle cx="678.2" cy="282.1" r="3.7"/>
<circle cx="676.1" cy="278.5" r="3.7"/>
<circle cx="679.8" cy="279.2" r="3.7"/>
<circle cx="681.8" cy="291.8" r="3.7"/>
<circle cx="672.7" cy="296.8" r="3.7"/>
<circle cx="680.0" cy="282.1" r="3.7"/>
<circle cx="683.0" cy="296.9" r="3.7"/>
<circle cx="684.0" cy="278.5" r="3.7"/>
<circle cx="680.7" cy="294.1" r="3.7"/>
<circle cx="679.2" cy="280.4" r="3.7"/>
<circle cx="684.8" cy="299.5" r="3.7"/>
<circle cx="683.8" cy="294.5" r="3.7"/>
<circle cx="677.1" cy="275.7" r="3.7"/>
<circle cx="686.5" cy="297.2" r="3.7"/>
<circle cx="682.0" cy="283.8" r="3.7"/>
<circle cx="677.7" cy="290.6" r="3.7"/>
<circle cx="685.5" cy="308.9" r="3.7"/>
<circle cx="683.5" cy="281.2" r="3.7"/>
</g>
<g fill="none" stroke="#555" stroke-opacity="0.6" stroke-width="1.1">
<circle cx="687.6" cy="308.0" r="3.7"/>
<circle cx="686.1" cy="301.3" r="3.7"/>
<circle cx="688.1" cy="280.9" r="3.7"/>
<circle cx="685.3" cy="299.9" r="3.7"/>
<circle cx="678.8" cy="277.4" r="3.7"/>
<circle cx="676.4" cy="282.4" r="3.7"/>
<circle cx="687.6" cy="293.2" r="3.7"/>
<circle cx="702.6" cy="288.3" r="3.7"/>
<circle cx="700.6" cy="317.3" r="3.7"/>
<circle cx="665.7" cy="275.6" r="3.7"/>
<circle cx="688.6" cy="293.6" r="3.7"/>
<circle cx="683.1" cy="315.8" r="3.7"/>
<circle cx="678.5" cy="303.7" r="3.7"/>
<circle cx="681.8" cy="277.0" r="3.7"/>
<circle cx="684.0" cy="284.1" r="3.7"/>
<circle cx="678.0" cy="295.3" r="3.7"/>
<circle cx="684.4" cy="293.2" r="3.7"/>
<circle cx="693.6" cy="301.5" r="3.7"/>
<circle cx="698.6" cy="302.9" r="3.7"/>
<circle cx="692.0" cy="300.1" r="3.7"/>
</g>
<g fill="none" stroke="#a0a0a0" stroke-opacity="0.9" stroke-width="1.1">
<circle cx="727.9" cy="350.7" r="3.7"/>
<circle cx="719.2" cy="345.3" r="3.7"/>
<circle cx="712.0" cy="361.2" r="3.7"/>
<circle cx="702.3" cy="341.0" r="3.7"/>
<circle cx="711.5" cy="357.2" r="3.7"/>
<circle cx="716.2" cy="334.1" r="3.7"/>
<circle cx="704.3" cy="349.7" r="3.7"/>
<circle cx="713.6" cy="347.2" r="3.7"/>
<circle cx="703.9" cy="355.5" r="3.7"/>
<circle cx="722.2" cy="338.0" r="3.7"/>
<circle cx="727.5" cy="359.6" r="3.7"/>
<circle cx="716.8" cy="352.9" r="3.7"/>
<circle cx="706.8" cy="364.8" r="3.7"/>
<circle cx="721.7" cy="349.7" r="3.7"/>
<circle cx="715.4" cy="341.0" r="3.7"/>
<circle cx="709.4" cy="347.2" r="3.7"/>
<circle cx="716.5" cy="352.4" r="3.7"/>
<circle cx="719.8" cy="350.3" r="3.7"/>
<circle cx="718.2" cy="349.5" r="3.7"/>
<circle cx="729.9" cy="354.7" r="3.7"/>
<circle cx="723.4" cy="346.5" r="3.7"/>
<circle cx="713.9" cy="344.8" r="3.7"/>
<circle cx="710.4" cy="341.5" r="3.7"/>
<circle cx="710.7" cy="356.3" r="3.7"/>
<circle cx="718.6" cy="344.5" r="3.7"/>
<circle cx="722.7" cy="343.9" r="3.7"/>
<circle cx="714.9" cy="360.5" r="3.7"/>
<circle cx="720.2" cy="349.2" r="3.7"/>
<circle cx="709.8" cy="343.2" r="3.7"/>
<circle cx="717.8" cy="360.5" r="3.7"/>
<circle cx="719.5" cy="363.8" r="3.7"/>
<circle cx="710.3" cy="348.3" r="3.7"/>
<circle cx="705.5" cy="351.6" r="3.7"/>
<circle cx="707.0" cy="345.3" r="3.7"/>
<circle cx="711.3" cy="350.3" r="3.7"/>
<circle cx="705.9" cy="355.0" r="3.7"/>
<circle cx="723.0" cy="347.8" r="3.7"/>
<circle cx="703.6" cy="343.6" r="3.7"/>
<circle cx="722.6" cy="355.3" r="3.7"/>
<circle cx="726.3" cy="361.4" r="3.7"/>
<circle cx="715.8" cy="342.0" r="3.7"/>
<circle cx="725.5" cy="340.5" r="3.7"/>
<circle cx="708.8" cy="367.8" r="3.7"/>
<circle cx="719.1" cy="364.7" r="3.7"/>
<circle cx="715.5" cy="363.4" r="3.7"/>
<circle cx="723.8" cy="344.7" r="3.7"/>
<circle cx="720.3" cy="351.8" r="3.7"/>
<circle cx="716.7" cy="354.6" r="3.7"/>
<circle cx="719.1" cy="349.7" r="3.7"/>
<circle cx="719.6" cy="355.7" r="3.7"/>
<circle cx="729.6" cy="349.4" r="3.7"/>
<circle cx="726.1" cy="340.0" r="3.7"/>
<circle cx="710.3" cy="367.0" r="3.7"/>
<circle cx="725.1" cy="355.4" r="3.7"/>
<circle cx="717.0" cy="354.2" r="3.7"/>
<circle cx="717.3" cy="362.6" r="3.7"/>
<circle cx="715.7" cy="356.1" r="3.7"/>
<circle cx="716.3" cy="372.8" r="3.7"/>
<circle cx="722.1" cy="348.9" r="3.7"/>
<circle cx="704.4" cy="358.5" r="3.7"/>
<circle cx="716.6" cy="346.3" r="3.7"/>
<circle cx="716.4" cy="339.5" r="3.7"/>
<circle cx="716.5" cy="360.9" r="3.7"/>
<circle cx="711.7" cy="345.3" r="3.7"/>
<circle cx="712.1" cy="344.4" r="3.7"/>
<circle cx="723.5" cy="346.6" r="3.7"/>
<circle cx="723.5" cy="353.5" r="3.7"/>
<circle cx="716.3" cy="357.2" r="3.7"/>
<circle cx="712.1" cy="365.9" r="3.7"/>
<circle cx="712.5" cy="361.5" r="3.7"/>
<circle cx="706.4" cy="350.6" r="3.7"/>
<circle cx="719.6" cy="355.0" r="3.7"/>
<circle cx="725.9" cy="343.5" r="3.7"/>
<circle cx="723.7" cy="357.3" r="3.7"/>
<circle cx="706.0" cy="346.9" r="3.7"/>
<circle cx="718.5" cy="345.4" r="3.7"/>
<circle cx="719.3" cy="340.6" r="3.7"/>
<circle cx="714.4" cy="345.9" r="3.7"/>
<circle cx="710.1" cy="372.6" r="3.7"/>
<circle cx="713.3" cy="338.5" r="3.7"/>
<circle cx="704.7" cy="342.8" r="3.7"/>
<circle cx="711.7" cy="355.5" r="3.7"/>
<circle cx="716.7" cy="350.0" r="3.7"/>
<circle cx="709.6" cy="350.8" r="3.7"/>
<circle cx="719.5" cy="344.4" r="3.7"/>
<circle cx="711.1" cy="338.0" r="3.7"/>
<circle cx="729.7" cy="330.3" r="3.7"/>
<circle cx="707.0" cy="350.4" r="3.7"/>
<circle cx="703.4" cy="348.5" r="3.7"/>
<circle cx="720.3" cy="362.2" r="3.7"/>
<circle cx="705.3" cy="350.2" r="3.7"/>
<circle cx="720.8" cy="359.0" r="3.7"/>
<circle cx="714.6" cy="374.5" r="3.7"/>
<circle cx="711.5" cy="350.6" r="3.7"/>
<circle cx="717.4" cy="337.8" r="3.7"/>
<circle cx="708.4" cy="372.1" r="3.7"/>
<circle cx="719.5" cy="357.2" r="3.7"/>
<circle cx="718.4" cy="345.5" r="3.7"/>
<circle cx="720.6" cy="339.0" r="3.7"/>
<circle cx="725.8" cy="366.8" r="3.7"/>
<circle cx="715.9" cy="334.0" r="3.7"/>
<circle cx="713.5" cy="343.3" r="3.7"/>
<circle cx="716.0" cy="355.7" r="3.7"/>
<circle cx="727.4" cy="342.6" r="3.7"/>
<circle cx="714.7" cy="343.8" r="3.7"/>
<circle cx="707.2" cy="358.4" r="3.7"/>
<circle cx="722.7" cy="351.6" r="3.7"/>
<circle cx="709.0" cy="347.9" r="3.7"/>
<circle cx="718.7" cy="340.4" r="3.7"/>
<circle cx="723.0" cy="354.4" r="3.7"/>
<circle cx="685.6" cy="335.8" r="3.7"/>
<circle cx="686.6" cy="326.3" r="3.7"/>
<circle cx="693.9" cy="326.9" r="3.7"/>
<circle cx="689.0" cy="336.5" r="3.7"/>
<circle cx="691.1" cy="337.1" r="3.7"/>
<circle cx="688.5" cy="345.0" r="3.7"/>
<circle cx="685.8" cy="326.4" r="3.7"/>
<circle cx="683.4" cy="343.9" r="3.7"/>
<circle cx="686.9" cy="325.1" r="3.7"/>
<circle cx="693.3" cy="337.2" r="3.7"/>
<circle cx="685.6" cy="335.7" r="3.7"/>
<circle cx="683.8" cy="334.8" r="3.7"/>
<circle cx="686.3" cy="343.8" r="3.7"/>
<circle cx="685.2" cy="336.5" r="3.7"/>
<circle cx="684.1" cy="341.7" r="3.7"/>
<circle cx="691.1" cy="323.7" r="3.7"/>
<circle cx="686.4" cy="337.5" r="3.7"/>
<circle cx="689.5" cy="336.4" r="3.7"/>
<circle cx="684.4" cy="326.7" r="3.7"/>
<circle cx="683.4" cy="339.4" r="3.7"/>
<circle cx="684.9" cy="340.3" r="3.7"/>
<circle cx="686.6" cy="331.6" r="3.7"/>
<circle cx="693.3" cy="331.1" r="3.7"/>
<circle cx="687.7" cy="342.5" r="3.7"/>
<circle cx="687.3" cy="340.6" r="3.7"/>
<circle cx="687.1" cy="329.2" r="3.7"/>
<circle cx="688.3" cy="336.3" r="3.7"/>
<circle cx="684.5" cy="335.1" r="3.7"/>
<circle cx="688.0" cy="340.6" r="3.7"/>
<circle cx="685.5" cy="329.8" r="3.7"/>
<circle cx="680.9" cy="337.7" r="3.7"/>
<circle cx="682.9" cy="325.8" r="3.7"/>
<circle cx="689.9" cy="331.9" r="3.7"/>
<circle cx="689.1" cy="333.3" r="3.7"/>
<circle cx="688.7" cy="344.5" r="3.7"/>
<circle cx="688.6" cy="331.5" r="3.7"/>
<circle cx="681.8" cy="330.1" r="3.7"/>
<circle cx="690.2" cy="344.1" r="3.7"/>
<circle cx="685.7" cy="336.8" r="3.7"/>
<circle cx="685.4" cy="332.7" r="3.7"/>
</g>
<g fill="none" stroke="#000" stroke-opacity="0.75" stroke-width="1.1">
<circle cx="687.5" cy="322.6" r="3.7"/>
<circle cx="695.3" cy="316.3" r="3.7"/>
<circle cx="694.3" cy="322.7" r="3.7"/>
<circle cx="697.7" cy="334.2" r="3.7"/>
<circle cx="698.9" cy="323.1" r="3.7"/>
<circle cx="687.6" cy="323.9" r="3.7"/>
<circle cx="684.6" cy="334.5" r="3.7"/>
<circle cx="692.4" cy="326.2" r="3.7"/>
<circle cx="697.9" cy="326.9" r="3.7"/>
<circle cx="687.4" cy="327.4" r="3.7"/>
<circle cx="703.0" cy="320.9" r="3.7"/>
<circle cx="690.9" cy="327.6" r="3.7"/>
<circle cx="688.4" cy="322.2" r="3.7"/>
<circle cx="696.3" cy="313.5" r="3.7"/>
<circle cx="700.0" cy="319.3" r="3.7"/>
<circle cx="690.7" cy="326.7" r="3.7"/>
<circle cx="682.1" cy="327.8" r="3.7"/>
<circle cx="696.3" cy="323.3" r="3.7"/>
<circle cx="696.0" cy="329.9" r="3.7"/>
<circle cx="698.7" cy="319.2" r="3.7"/>
<circle cx="694.3" cy="318.5" r="3.7"/>
<circle cx="682.5" cy="324.8" r="3.7"/>
<circle cx="689.5" cy="309.2" r="3.7"/>
<circle cx="693.1" cy="324.4" r="3.7"/>
<circle cx="698.5" cy="328.0" r="3.7"/>
<circle cx="701.5" cy="325.7" r="3.7"/>
<circle cx="693.8" cy="327.1" r="3.7"/>
<circle cx="698.3" cy="335.3" r="3.7"/>
<circle cx="697.7" cy="326.5" r="3.7"/>
<circle cx="694.4" cy="328.7" r="3.7"/>
<circle cx="695.3" cy="319.9" r="3.7"/>
<circle cx="697.1" cy="319.0" r="3.7"/>
<circle cx="697.3" cy="314.6" r="3.7"/>
<circle cx="692.1" cy="328.8" r="3.7"/>
<circle cx="687.5" cy="316.6" r="3.7"/>
<circle cx="692.2" cy="314.2" r="3.7"/>
<circle cx="694.3" cy="327.7" r="3.7"/>
<circle cx="698.8" cy="308.4" r="3.7"/>
<circle cx="693.2" cy="327.3" r="3.7"/>
<circle cx="689.7" cy="315.3" r="3.7"/>
<circle cx="691.1" cy="323.8" r="3.7"/>
<circle cx="697.6" cy="321.0" r="3.7"/>
<circle cx="694.7" cy="324.7" r="3.7"/>
<circle cx="690.8" cy="320.0" r="3.7"/>
<circle cx="694.9" cy="317.2" r="3.7"/>
<circle cx="691.5" cy="318.8" r="3.7"/>
<circle cx="696.6" cy="320.6" r="3.7"/>
<circle cx="697.0" cy="314.5" r="3.7"/>
<circle cx="695.1" cy="320.6" r="3.7"/>
<circle cx="689.1" cy="318.9" r="3.7"/>
<circle cx="693.6" cy="323.1" r="3.7"/>
<circle cx="689.8" cy="317.3" r="3.7"/>
<circle cx="707.3" cy="318.3" r="3.7"/>
<circle cx="694.5" cy="318.2" r="3.7"/>
<circle cx="691.0" cy="320.5" r="3.7"/>
<circle cx="690.7" cy="325.3" r="3.7"/>
<circle cx="695.3" cy="319.6" r="3.7"/>
<circle cx="693.5" cy="326.3" r="3.7"/>
<circle cx="695.5" cy="328.2" r="3.7"/>
<circle cx="698.1" cy="323.4" r="3.7"/>
<circle cx="694.1" cy="315.9" r="3.7"/>
<circle cx="697.0" cy="329.6" r="3.7"/>
<circle cx="692.8" cy="318.7" r="3.7"/>
<circle cx="688.5" cy="336.9" r="3.7"/>
<circle cx="693.7" cy="321.4" r="3.7"/>
<circle cx="696.3" cy="320.6" r="3.7"/>
<circle cx="694.8" cy="319.5" r="3.7"/>
<circle cx="701.2" cy="317.9" r="3.7"/>
<circle cx="696.9" cy="323.7" r="3.7"/>
<circle cx="699.9" cy="322.3" r="3.7"/>
<circle cx="697.9" cy="334.9" r="3.7"/>
<circle cx="695.4" cy="321.7" r="3.7"/>
<circle cx="691.7" cy="312.7" r="3.7"/>
<circle cx="696.2" cy="322.0" r="3.7"/>
<circle cx="691.4" cy="308.8" r="3.7"/>
<circle cx="698.0" cy="316.8" r="3.7"/>
<circle cx="690.2" cy="312.5" r="3.7"/>
<circle cx="697.0" cy="322.9" r="3.7"/>
<circle cx="693.6" cy="331.8" r="3.7"/>
<circle cx="697.5" cy="328.3" r="3.7"/>
<circle cx="698.5" cy="324.0" r="3.7"/>
<circle cx="690.9" cy="318.7" r="3.7"/>
<circle cx="695.2" cy="328.5" r="3.7"/>
<circle cx="693.7" cy="317.1" r="3.7"/>
<circle cx="692.8" cy="329.9" r="3.7"/>
<circle cx="692.8" cy="327.4" r="3.7"/>
<circle cx="691.1" cy="320.8" r="3.7"/>
<circle cx="693.8" cy="322.5" r="3.7"/>
<circle cx="685.6" cy="318.8" r="3.7"/>
<circle cx="693.1" cy="323.8" r="3.7"/>
<circle cx="694.9" cy="308.5" r="3.7"/>
<circle cx="687.4" cy="331.6" r="3.7"/>
<circle cx="698.0" cy="326.3" r="3.7"/>
<circle cx="700.8" cy="327.5" r="3.7"/>
<circle cx="691.6" cy="315.6" r="3.7"/>
<circle cx="698.8" cy="318.2" r="3.7"/>
<circle cx="696.4" cy="321.9" r="3.7"/>
<circle cx="691.8" cy="322.4" r="3.7"/>
<circle cx="700.6" cy="316.5" r="3.7"/>
<circle cx="694.2" cy="319.0" r="3.7"/>
<circle cx="698.4" cy="313.4" r="3.7"/>
<circle cx="693.4" cy="321.6" r="3.7"/>
<circle cx="695.8" cy="304.1" r="3.7"/>
<circle cx="695.3" cy="312.8" r="3.7"/>
<circle cx="686.2" cy="315.6" r="3.7"/>
<circle cx="686.9" cy="328.2" r="3.7"/>
<circle cx="690.8" cy="322.0" r="3.7"/>
<circle cx="695.0" cy="318.7" r="3.7"/>
<circle cx="695.3" cy="324.0" r="3.7"/>
<circle cx="707.4" cy="318.5" r="3.7"/>
<circle cx="697.5" cy="307.9" r="3.7"/>
<circle cx="699.1" cy="317.3" r="3.7"/>
<circle cx="695.8" cy="308.9" r="3.7"/>
<circle cx="688.5" cy="327.3" r="3.7"/>
<circle cx="694.8" cy="334.4" r="3.7"/>
<circle cx="690.1" cy="313.8" r="3.7"/>
<circle cx="691.7" cy="320.0" r="3.7"/>
<circle cx="697.6" cy="328.7" r="3.7"/>
<circle cx="695.5" cy="325.2" r="3.7"/>
<circle cx="688.5" cy="322.9" r="3.7"/>
<circle cx="693.8" cy="323.7" r="3.7"/>
<circle cx="690.7" cy="314.9" r="3.7"/>
<circle cx="700.0" cy="317.5" r="3.7"/>
<circle cx="693.6" cy="327.9" r="3.7"/>
<circle cx="689.9" cy="328.3" r="3.7"/>
<circle cx="695.2" cy="315.2" r="3.7"/>
<circle cx="698.8" cy="321.3" r="3.7"/>
<circle cx="692.1" cy="319.9" r="3.7"/>
<circle cx="694.7" cy="317.2" r="3.7"/>
<circle cx="701.7" cy="325.5" r="3.7"/>
<circle cx="704.8" cy="334.7" r="3.7"/>
<circle cx="685.0" cy="330.9" r="3.7"/>
<circle cx="688.8" cy="322.6" r="3.7"/>
<circle cx="704.7" cy="325.6" r="3.7"/>
<circle cx="699.8" cy="323.5" r="3.7"/>
<circle cx="694.9" cy="327.7" r="3.7"/>
<circle cx="705.7" cy="321.4" r="3.7"/>
<circle cx="690.9" cy="306.3" r="3.7"/>
<circle cx="695.0" cy="318.4" r="3.7"/>
<circle cx="693.4" cy="326.5" r="3.7"/>
<circle cx="686.8" cy="322.2" r="3.7"/>
<circle cx="702.4" cy="318.4" r="3.7"/>
<circle cx="693.2" cy="314.2" r="3.7"/>
<circle cx="689.3" cy="312.2" r="3.7"/>
<circle cx="694.0" cy="326.5" r="3.7"/>
<circle cx="697.6" cy="317.8" r="3.7"/>
<circle cx="692.3" cy="319.7" r="3.7"/>
<circle cx="699.1" cy="312.0" r="3.7"/>
<circle cx="689.8" cy="338.2" r="3.7"/>
<circle cx="704.6" cy="322.8" r="3.7"/>
<circle cx="692.0" cy="318.3" r="3.7"/>
<circle cx="691.9" cy="314.3" r="3.7"/>
<circle cx="687.7" cy="322.4" r="3.7"/>
<circle cx="687.7" cy="311.2" r="3.7"/>
<circle cx="692.8" cy="314.0" r="3.7"/>
<circle cx="701.2" cy="328.9" r="3.7"/>
<circle cx="693.0" cy="316.4" r="3.7"/>
<circle cx="694.4" cy="322.0" r="3.7"/>
<circle cx="698.4" cy="315.2" r="3.7"/>
<circle cx="691.1" cy="322.0" r="3.7"/>
<circle cx="697.4" cy="319.7" r="3.7"/>
<circle cx="694.8" cy="328.4" r="3.7"/>
<circle cx="703.1" cy="322.6" r="3.7"/>
<circle cx="695.5" cy="321.3" r="3.7"/>
<circle cx="694.4" cy="320.1" r="3.7"/>
<circle cx="689.8" cy="318.6" r="3.7"/>
<circle cx="700.3" cy="318.5" r="3.7"/>
<circle cx="697.8" cy="317.9" r="3.7"/>
<circle cx="694.3" cy="309.3" r="3.7"/>
<circle cx="690.6" cy="318.6" r="3.7"/>
<circle cx="699.4" cy="319.2" r="3.7"/>
<circle cx="688.7" cy="328.2" r="3.7"/>
<circle cx="702.1" cy="327.3" r="3.7"/>
<circle cx="694.1" cy="317.6" r="3.7"/>
<circle cx="694.6" cy="332.7" r="3.7"/>
<circle cx="684.4" cy="321.8" r="3.7"/>
<circle cx="690.1" cy="322.8" r="3.7"/>
<circle cx="694.6" cy="320.0" r="3.7"/>
<circle cx="687.2" cy="332.0" r="3.7"/>
<circle cx="698.9" cy="325.2" r="3.7"/>
<circle cx="688.1" cy="334.1" r="3.7"/>
<circle cx="696.8" cy="329.3" r="3.7"/>
<circle cx="688.7" cy="317.0" r="3.7"/>
<circle cx="695.7" cy="317.4" r="3.7"/>
<circle cx="687.6" cy="339.8" r="3.7"/>
<circle cx="689.0" cy="323.1" r="3.7"/>
<circle cx="690.7" cy="315.3" r="3.7"/>
<circle cx="696.0" cy="327.9" r="3.7"/>
<circle cx="697.0" cy="322.1" r="3.7"/>
<circle cx="691.6" cy="313.8" r="3.7"/>
<circle cx="685.5" cy="314.4" r="3.7"/>
<circle cx="699.7" cy="334.5" r="3.7"/>
<circle cx="693.1" cy="322.2" r="3.7"/>
<circle cx="688.3" cy="324.8" r="3.7"/>
<circle cx="689.9" cy="320.7" r="3.7"/>
<circle cx="691.2" cy="335.1" r="3.7"/>
<circle cx="700.2" cy="315.2" r="3.7"/>
<circle cx="689.8" cy="315.4" r="3.7"/>
<circle cx="704.5" cy="331.3" r="3.7"/>
<circle cx="692.0" cy="324.5" r="3.7"/>
<circle cx="697.0" cy="323.1" r="3.7"/>
<circle cx="686.9" cy="312.9" r="3.7"/>
<circle cx="692.4" cy="316.3" r="3.7"/>
<circle cx="705.9" cy="326.0" r="3.7"/>
<circle cx="692.0" cy="315.1" r="3.7"/>
<circle cx="693.5" cy="317.7" r="3.7"/>
<circle cx="694.1" cy="302.7" r="3.7"/>
<circle cx="697.4" cy="318.8" r="3.7"/>
<circle cx="694.7" cy="318.6" r="3.7"/>
<circle cx="685.7" cy="322.9" r="3.7"/>
<circle cx="697.9" cy="329.0" r="3.7"/>
<circle cx="694.3" cy="321.7" r="3.7"/>
<circle cx="691.4" cy="304.7" r="3.7"/>
<circle cx="697.8" cy="318.9" r="3.7"/>
<circle cx="690.0" cy="320.5" r="3.7"/>
<circle cx="692.6" cy="321.7" r="3.7"/>
<circle cx="695.2" cy="304.7" r="3.7"/>
<circle cx="701.0" cy="309.9" r="3.7"/>
<circle cx="701.2" cy="302.6" r="3.7"/>
<circle cx="690.7" cy="329.5" r="3.7"/>
<circle cx="695.2" cy="319.4" r="3.7"/>
<circle cx="694.3" cy="325.2" r="3.7"/>
<circle cx="697.7" cy="309.8" r="3.7"/>
<circle cx="695.3" cy="322.6" r="3.7"/>
<circle cx="700.3" cy="323.1" r="3.7"/>
<circle cx="692.3" cy="319.0" r="3.7"/>
<circle cx="682.3" cy="308.7" r="3.7"/>
<circle cx="693.6" cy="317.7" r="3.7"/>
<circle cx="695.7" cy="318.4" r="3.7"/>
<circle cx="687.2" cy="309.4" r="3.7"/>
<circle cx="697.1" cy="319.1" r="3.7"/>
<circle cx="710.4" cy="329.4" r="3.7"/>
<circle cx="698.0" cy="321.7" r="3.7"/>
<circle cx="686.4" cy="308.3" r="3.7"/>
<circle cx="686.1" cy="320.1" r="3.7"/>
<circle cx="693.7" cy="319.8" r="3.7"/>
<circle cx="689.3" cy="312.1" r="3.7"/>
<circle cx="695.4" cy="329.4" r="3.7"/>
<circle cx="687.8" cy="319.3" r="3.7"/>
<circle cx="688.1" cy="318.2" r="3.7"/>
<circle cx="695.8" cy="324.9" r="3.7"/>
<circle cx="684.1" cy="329.6" r="3.7"/>
<circle cx="696.0" cy="324.5" r="3.7"/>
<circle cx="703.7" cy="324.0" r="3.7"/>
<circle cx="696.1" cy="316.6" r="3.7"/>
<circle cx="694.6" cy="319.0" r="3.7"/>
<circle cx="699.4" cy="322.0" r="3.7"/>
<circle cx="695.9" cy="323.4" r="3.7"/>
<circle cx="704.5" cy="319.9" r="3.7"/>
<circle cx="698.5" cy="340.6" r="3.7"/>
<circle cx="691.6" cy="328.5" r="3.7"/>
<circle cx="694.3" cy="324.0" r="3.7"/>
<circle cx="688.7" cy="322.9" r="3.7"/>
<circle cx="698.3" cy="314.0" r="3.7"/>
<circle cx="691.4" cy="314.1" r="3.7"/>
<circle cx="690.9" cy="317.0" r="3.7"/>
<circle cx="689.7" cy="314.2" r="3.7"/>
<circle cx="706.1" cy="323.0" r="3.7"/>
<circle cx="700.5" cy="330.6" r="3.7"/>
<circle cx="690.8" cy="303.6" r="3.7"/>
<circle cx="693.8" cy="317.8" r="3.7"/>
<circle cx="685.7" cy="321.2" r="3.7"/>
<circle cx="690.1" cy="313.2" r="3.7"/>
<circle cx="691.4" cy="304.3" r="3.7"/>
<circle cx="688.5" cy="318.9" r="3.7"/>
<circle cx="683.8" cy="323.7" r="3.7"/>
<circle cx="700.4" cy="321.8" r="3.7"/>
<circle cx="687.4" cy="317.8" r="3.7"/>
<circle cx="699.0" cy="318.2" r="3.7"/>
<circle cx="699.3" cy="330.4" r="3.7"/>
<circle cx="703.6" cy="316.4" r="3.7"/>
<circle cx="683.2" cy="308.8" r="3.7"/>
<circle cx="691.7" cy="317.7" r="3.7"/>
<circle cx="683.9" cy="325.2" r="3.7"/>
<circle cx="684.7" cy="315.6" r="3.7"/>
<circle cx="692.9" cy="327.1" r="3.7"/>
<circle cx="692.2" cy="313.7" r="3.7"/>
<circle cx="690.1" cy="317.3" r="3.7"/>
<circle cx="688.0" cy="332.0" r="3.7"/>
<circle cx="691.6" cy="323.0" r="3.7"/>
<circle cx="695.0" cy="314.9" r="3.7"/>
<circle cx="692.0" cy="323.5" r="3.7"/>
<circle cx="698.1" cy="318.3" r="3.7"/>
<circle cx="693.8" cy="319.5" r="3.7"/>
<circle cx="682.8" cy="324.7" r="3.7"/>
<circle cx="685.8" cy="323.4" r="3.7"/>
<circle cx="698.8" cy="332.1" r="3.7"/>
<circle cx="698.9" cy="324.8" r="3.7"/>
<circle cx="693.0" cy="324.1" r="3.7"/>
<circle cx="697.8" cy="325.5" r="3.7"/>
<circle cx="683.3" cy="319.0" r="3.7"/>
<circle cx="693.3" cy="317.0" r="3.7"/>
<circle cx="697.2" cy="329.0" r="3.7"/>
<circle cx="695.2" cy="320.3" r="3.7"/>
<circle cx="693.7" cy="320.5" r="3.7"/>
<circle cx="695.7" cy="324.7" r="3.7"/>
<circle cx="693.3" cy="314.7" r="3.7"/>
<circle cx="688.6" cy="321.6" r="3.7"/>
<circle cx="688.8" cy="328.1" r="3.7"/>
<circle cx="691.9" cy="319.9" r="3.7"/>
<circle cx="702.0" cy="322.4" r="3.7"/>
<circle cx="698.9" cy="317.6" r="3.7"/>
<circle cx="694.5" cy="341.4" r="3.7"/>
<circle cx="694.8" cy="320.7" r="3.7"/>
<circle cx="688.7" cy="320.2" r="3.7"/>
<circle cx="701.7" cy="328.7" r="3.7"/>
<circle cx="691.5" cy="315.1" r="3.7"/>
<circle cx="684.8" cy="327.9" r="3.7"/>
<circle cx="695.6" cy="314.9" r="3.7"/>
<circle cx="700.4" cy="316.1" r="3.7"/>
<circle cx="706.0" cy="318.6" r="3.7"/>
<circle cx="687.4" cy="322.4" r="3.7"/>
<circle cx="697.3" cy="318.7" r="3.7"/>
<circle cx="684.1" cy="318.6" r="3.7"/>
<circle cx="690.0" cy="322.4" r="3.7"/>
<circle cx="701.7" cy="322.2" r="3.7"/>
<circle cx="690.7" cy="321.9" r="3.7"/>
<circle cx="690.8" cy="307.7" r="3.7"/>
<circle cx="698.4" cy="315.1" r="3.7"/>
<circle cx="690.6" cy="325.3" r="3.7"/>
<circle cx="695.4" cy="335.4" r="3.7"/>
<circle cx="699.4" cy="329.5" r="3.7"/>
<circle cx="694.6" cy="318.9" r="3.7"/>
<circle cx="690.0" cy="318.8" r="3.7"/>
<circle cx="697.7" cy="308.6" r="3.7"/>
<circle cx="696.1" cy="309.2" r="3.7"/>
<circle cx="696.5" cy="322.4" r="3.7"/>
<circle cx="698.6" cy="324.5" r="3.7"/>
<circle cx="694.9" cy="317.0" r="3.7"/>
<circle cx="700.0" cy="319.3" r="3.7"/>
<circle cx="686.5" cy="312.6" r="3.7"/>
<circle cx="695.0" cy="323.0" r="3.7"/>
<circle cx="689.9" cy="317.3" r="3.7"/>
<circle cx="695.8" cy="316.6" r="3.7"/>
<circle cx="693.4" cy="311.0" r="3.7"/>
<circle cx="692.7" cy="318.4" r="3.7"/>
<circle cx="695.1" cy="314.1" r="3.7"/>
<circle cx="690.5" cy="323.1" r="3.7"/>
<circle cx="693.0" cy="325.4" r="3.7"/>
<circle cx="690.7" cy="329.0" r="3.7"/>
<circle cx="698.0" cy="311.3" r="3.7"/>
<circle cx="689.0" cy="316.1" r="3.7"/>
<circle cx="688.1" cy="326.4" r="3.7"/>
<circle cx="692.5" cy="320.3" r="3.7"/>
<circle cx="696.4" cy="333.8" r="3.7"/>
<circle cx="687.3" cy="320.6" r="3.7"/>
<circle cx="692.8" cy="307.2" r="3.7"/>
<circle cx="692.7" cy="325.4" r="3.7"/>
<circle cx="700.3" cy="338.6" r="3.7"/>
<circle cx="684.4" cy="303.3" r="3.7"/>
<circle cx="690.9" cy="320.7" r="3.7"/>
<circle cx="693.1" cy="326.9" r="3.7"/>
<circle cx="693.3" cy="329.7" r="3.7"/>
<circle cx="699.0" cy="316.1" r="3.7"/>
<circle cx="697.6" cy="327.1" r="3.7"/>
<circle cx="684.1" cy="324.3" r="3.7"/>
<circle cx="688.4" cy="318.6" r="3.7"/>
<circle cx="685.7" cy="327.2" r="3.7"/>
<circle cx="694.8" cy="318.3" r="3.7"/>
<circle cx="694.6" cy="329.4" r="3.7"/>
<circle cx="690.5" cy="308.0" r="3.7"/>
<circle cx="698.9" cy="326.5" r="3.7"/>
<circle cx="703.9" cy="322.0" r="3.7"/>
<circle cx="694.0" cy="326.5" r="3.7"/>
<circle cx="701.9" cy="320.4" r="3.7"/>
<circle cx="693.6" cy="327.2" r="3.7"/>
<circle cx="687.5" cy="320.0" r="3.7"/>
<circle cx="694.1" cy="311.0" r="3.7"/>
<circle cx="689.4" cy="323.6" r="3.7"/>
<circle cx="699.2" cy="315.8" r="3.7"/>
<circle cx="690.6" cy="311.6" r="3.7"/>
<circle cx="696.5" cy="315.3" r="3.7"/>
<circle cx="695.9" cy="314.8" r="3.7"/>
<circle cx="691.9" cy="322.5" r="3.7"/>
<circle cx="699.7" cy="318.6" r="3.7"/>
<circle cx="695.9" cy="313.7" r="3.7"/>
<circle cx="695.3" cy="318.5" r="3.7"/>
<circle cx="682.7" cy="324.6" r="3.7"/>
<circle cx="698.3" cy="326.9" r="3.7"/>
<circle cx="692.6" cy="319.6" r="3.7"/>
<circle cx="693.4" cy="315.5" r="3.7"/>
<circle cx="696.5" cy="322.3" r="3.7"/>
<circle cx="699.7" cy="323.5" r="3.7"/>
<circle cx="690.4" cy="319.0" r="3.7"/>
<circle cx="697.3" cy="322.1" r="3.7"/>
<circle cx="688.5" cy="324.5" r="3.7"/>
<circle cx="695.2" cy="316.7" r="3.7"/>
<circle cx="703.2" cy="322.2" r="3.7"/>
<circle cx="692.9" cy="335.2" r="3.7"/>
<circle cx="700.7" cy="315.2" r="3.7"/>
<circle cx="694.1" cy="325.8" r="3.7"/>
<circle cx="680.6" cy="316.4" r="3.7"/>
<circle cx="690.0" cy="311.2" r="3.7"/>
<circle cx="698.0" cy="312.7" r="3.7"/>
<circle cx="693.3" cy="313.3" r="3.7"/>
<circle cx="686.8" cy="311.6" r="3.7"/>
<circle cx="693.9" cy="328.9" r="3.7"/>
<circle cx="692.0" cy="327.5" r="3.7"/>
<circle cx="695.4" cy="325.9" r="3.7"/>
<circle cx="687.5" cy="323.5" r="3.7"/>
<circle cx="692.9" cy="319.8" r="3.7"/>
<circle cx="697.7" cy="312.9" r="3.7"/>
<circle cx="696.2" cy="310.4" r="3.7"/>
<circle cx="681.3" cy="321.6" r="3.7"/>
<circle cx="698.9" cy="329.7" r="3.7"/>
<circle cx="693.0" cy="319.7" r="3.7"/>
<circle cx="686.1" cy="324.9" r="3.7"/>
<circle cx="697.2" cy="323.2" r="3.7"/>
<circle cx="702.0" cy="305.7" r="3.7"/>
<circle cx="693.7" cy="328.6" r="3.7"/>
<circle cx="693.9" cy="324.8" r="3.7"/>
<circle cx="686.7" cy="323.8" r="3.7"/>
<circle cx="691.7" cy="323.5" r="3.7"/>
<circle cx="698.8" cy="314.1" r="3.7"/>
<circle cx="696.2" cy="323.5" r="3.7"/>
<circle cx="696.2" cy="321.0" r="3.7"/>
<circle cx="695.2" cy="327.5" r="3.7"/>
<circle cx="678.2" cy="315.3" r="3.7"/>
<circle cx="691.0" cy="324.4" r="3.7"/>
<circle cx="694.0" cy="321.5" r="3.7"/>
<circle cx="692.5" cy="311.1" r="3.7"/>
<circle cx="694.7" cy="319.6" r="3.7"/>
<circle cx="689.5" cy="321.8" r="3.7"/>
<circle cx="696.5" cy="321.6" r="3.7"/>
<circle cx="695.7" cy="327.3" r="3.7"/>
<circle cx="696.0" cy="327.8" r="3.7"/>
<circle cx="691.8" cy="326.2" r="3.7"/>
<circle cx="695.0" cy="314.0" r="3.7"/>
<circle cx="695.6" cy="326.8" r="3.7"/>
<circle cx="694.8" cy="314.4" r="3.7"/>
<circle cx="697.8" cy="317.9" r="3.7"/>
<circle cx="688.3" cy="324.7" r="3.7"/>
<circle cx="690.6" cy="324.2" r="3.7"/>
<circle cx="695.3" cy="320.9" r="3.7"/>
<circle cx="692.3" cy="317.4" r="3.7"/>
<circle cx="690.4" cy="323.3" r="3.7"/>
<circle cx="694.6" cy="330.0" r="3.7"/>
<circle cx="689.7" cy="330.2" r="3.7"/>
<circle cx="688.7" cy="322.0" r="3.7"/>
<circle cx="693.4" cy="318.9" r="3.7"/>
<circle cx="695.8" cy="328.5" r="3.7"/>
<circle cx="703.7" cy="312.3" r="3.7"/>
<circle cx="687.8" cy="325.6" r="3.7"/>
<circle cx="691.6" cy="319.8" r="3.7"/>
<circle cx="697.2" cy="321.1" r="3.7"/>
<circle cx="680.9" cy="302.4" r="3.7"/>
<circle cx="698.5" cy="315.7" r="3.7"/>
<circle cx="690.2" cy="320.5" r="3.7"/>
<circle cx="698.9" cy="324.2" r="3.7"/>
<circle cx="699.9" cy="320.6" r="3.7"/>
<circle cx="702.2" cy="320.8" r="3.7"/>
<circle cx="701.7" cy="331.6" r="3.7"/>
<circle cx="701.5" cy="318.2" r="3.7"/>
<circle cx="692.1" cy="314.1" r="3.7"/>
<circle cx="692.7" cy="315.8" r="3.7"/>
<circle cx="699.0" cy="314.3" r="3.7"/>
<circle cx="705.4" cy="312.2" r="3.7"/>
<circle cx="706.9" cy="316.5" r="3.7"/>
<circle cx="694.9" cy="318.5" r="3.7"/>
<circle cx="693.9" cy="329.2" r="3.7"/>
<circle cx="694.8" cy="328.9" r="3.7"/>
<circle cx="692.6" cy="323.1" r="3.7"/>
<circle cx="691.2" cy="328.1" r="3.7"/>
<circle cx="694.7" cy="321.3" r="3.7"/>
<circle cx="701.2" cy="317.0" r="3.7"/>
<circle cx="698.9" cy="324.2" r="3.7"/>
<circle cx="692.5" cy="329.3" r="3.7"/>
<circle cx="689.6" cy="316.5" r="3.7"/>
<circle cx="693.1" cy="322.0" r="3.7"/>
<circle cx="691.2" cy="311.0" r="3.7"/>
<circle cx="693.8" cy="313.7" r="3.7"/>
<circle cx="693.9" cy="314.9" r="3.7"/>
<circle cx="689.1" cy="329.9" r="3.7"/>
<circle cx="699.8" cy="323.1" r="3.7"/>
<circle cx="695.5" cy="315.4" r="3.7"/>
<circle cx="697.7" cy="319.4" r="3.7"/>
<circle cx="688.0" cy="325.7" r="3.7"/>
<circle cx="694.3" cy="317.0" r="3.7"/>
<circle cx="696.7" cy="318.7" r="3.7"/>
<circle cx="690.1" cy="321.1" r="3.7"/>
<circle cx="699.1" cy="326.7" r="3.7"/>
<circle cx="691.1" cy="315.2" r="3.7"/>
<circle cx="702.2" cy="318.4" r="3.7"/>
<circle cx="694.1" cy="327.3" r="3.7"/>
<circle cx="693.5" cy="326.3" r="3.7"/>
<circle cx="694.8" cy="316.5" r="3.7"/>
<circle cx="696.4" cy="312.6" r="3.7"/>
<circle cx="688.9" cy="329.3" r="3.7"/>
<circle cx="701.1" cy="314.3" r="3.7"/>
<circle cx="689.1" cy="320.2" r="3.7"/>
<circle cx="688.6" cy="321.2" r="3.7"/>
<circle cx="695.7" cy="314.8" r="3.7"/>
<circle cx="689.1" cy="329.4" r="3.7"/>
<circle cx="697.0" cy="323.3" r="3.7"/>
<circle cx="701.3" cy="328.5" r="3.7"/>
<circle cx="690.8" cy="338.9" r="3.7"/>
<circle cx="699.9" cy="312.4" r="3.7"/>
<circle cx="696.2" cy="323.1" r="3.7"/>
<circle cx="683.7" cy="330.0" r="3.7"/>
<circle cx="691.4" cy="308.7" r="3.7"/>
<circle cx="698.7" cy="325.0" r="3.7"/>
<circle cx="696.3" cy="317.5" r="3.7"/>
<circle cx="696.7" cy="327.1" r="3.7"/>
<circle cx="691.9" cy="314.6" r="3.7"/>
<circle cx="697.7" cy="323.3" r="3.7"/>
<circle cx="706.6" cy="319.3" r="3.7"/>
<circle cx="692.0" cy="315.2" r="3.7"/>
<circle cx="698.3" cy="321.9" r="3.7"/>
<circle cx="703.4" cy="314.1" r="3.7"/>
<circle cx="694.2" cy="316.5" r="3.7"/>
<circle cx="697.5" cy="322.9" r="3.7"/>
<circle cx="697.9" cy="324.5" r="3.7"/>
<circle cx="692.9" cy="316.8" r="3.7"/>
<circle cx="687.7" cy="323.3" r="3.7"/>
<circle cx="689.2" cy="316.4" r="3.7"/>
<circle cx="691.2" cy="309.2" r="3.7"/>
<circle cx="702.0" cy="325.5" r="3.7"/>
<circle cx="694.9" cy="323.4" r="3.7"/>
<circle cx="694.1" cy="316.7" r="3.7"/>
<circle cx="701.8" cy="306.8" r="3.7"/>
</g>
<g fill="none" stroke="#404040" stroke-opacity="0.6" stroke-width="1.1">
<circle cx="728.4" cy="326.0" r="3.7"/>
<circle cx="659.7" cy="321.8" r="3.7"/>
<circle cx="664.5" cy="320.5" r="3.7"/>
<circle cx="693.0" cy="322.9" r="3.7"/>
<circle cx="656.5" cy="311.8" r="3.7"/>
<circle cx="694.3" cy="312.5" r="3.7"/>
<circle cx="657.1" cy="315.6" r="3.7"/>
<circle cx="723.6" cy="315.8" r="3.7"/>
<circle cx="651.5" cy="318.9" r="3.7"/>
<circle cx="651.0" cy="325.5" r="3.7"/>
<circle cx="673.5" cy="319.1" r="3.7"/>
<circle cx="667.7" cy="321.5" r="3.7"/>
<circle cx="692.5" cy="323.7" r="3.7"/>
<circle cx="686.5" cy="318.0" r="3.7"/>
<circle cx="693.3" cy="318.8" r="3.7"/>
<circle cx="644.2" cy="322.2" r="3.7"/>
<circle cx="661.1" cy="318.3" r="3.7"/>
<circle cx="621.9" cy="320.5" r="3.7"/>
<circle cx="626.4" cy="318.5" r="3.7"/>
<circle cx="658.6" cy="320.9" r="3.7"/>
<circle cx="701.4" cy="314.3" r="3.7"/>
<circle cx="644.5" cy="320.6" r="3.7"/>
<circle cx="616.1" cy="321.9" r="3.7"/>
<circle cx="653.6" cy="318.4" r="3.7"/>
<circle cx="670.7" cy="320.7" r="3.7"/>
<circle cx="640.8" cy="322.4" r="3.7"/>
<circle cx="640.9" cy="321.0" r="3.7"/>
<circle cx="627.0" cy="320.0" r="3.7"/>
<circle cx="706.5" cy="310.8" r="3.7"/>
<circle cx="718.6" cy="315.8" r="3.7"/>
<circle cx="697.7" cy="314.8" r="3.7"/>
<circle cx="672.8" cy="319.5" r="3.7"/>
<circle cx="618.4" cy="323.0" r="3.7"/>
<circle cx="708.1" cy="327.8" r="3.7"/>
<circle cx="683.4" cy="321.3" r="3.7"/>
<circle cx="663.3" cy="319.8" r="3.7"/>
<circle cx="674.7" cy="325.5" r="3.7"/>
<circle cx="671.6" cy="328.2" r="3.7"/>
<circle cx="718.5" cy="321.1" r="3.7"/>
<circle cx="700.3" cy="324.6" r="3.7"/>
<circle cx="728.6" cy="317.0" r="3.7"/>
<circle cx="684.2" cy="320.2" r="3.7"/>
<circle cx="685.3" cy="323.9" r="3.7"/>
<circle cx="669.8" cy="321.9" r="3.7"/>
<circle cx="685.1" cy="315.0" r="3.7"/>
<circle cx="708.3" cy="320.0" r="3.7"/>
<circle cx="692.8" cy="322.2" r="3.7"/>
<circle cx="659.8" cy="327.4" r="3.7"/>
<circle cx="636.5" cy="325.7" r="3.7"/>
<circle cx="672.0" cy="321.7" r="3.7"/>
<circle cx="723.6" cy="317.3" r="3.7"/>
<circle cx="726.9" cy="323.7" r="3.7"/>
<circle cx="711.1" cy="324.4" r="3.7"/>
<circle cx="726.0" cy="327.5" r="3.7"/>
<circle cx="696.9" cy="324.1" r="3.7"/>
<circle cx="732.1" cy="317.0" r="3.7"/>
<circle cx="725.9" cy="332.5" r="3.7"/>
<circle cx="715.4" cy="319.5" r="3.7"/>
<circle cx="732.6" cy="313.9" r="3.7"/>
<circle cx="704.6" cy="321.2" r="3.7"/>
<circle cx="696.0" cy="324.1" r="3.7"/>
<circle cx="712.1" cy="319.0" r="3.7"/>
<circle cx="719.8" cy="331.6" r="3.7"/>
<circle cx="715.8" cy="321.2" r="3.7"/>
<circle cx="737.7" cy="326.6" r="3.7"/>
<circle cx="705.6" cy="325.9" r="3.7"/>
<circle cx="731.7" cy="324.4" r="3.7"/>
<circle cx="718.7" cy="320.9" r="3.7"/>
<circle cx="706.2" cy="317.7" r="3.7"/>
<circle cx="695.1" cy="314.0" r="3.7"/>
<circle cx="708.3" cy="327.5" r="3.7"/>
<circle cx="707.3" cy="328.8" r="3.7"/>
<circle cx="705.3" cy="327.0" r="3.7"/>
<circle cx="701.4" cy="323.9" r="3.7"/>
<circle cx="721.8" cy="325.9" r="3.7"/>
<circle cx="695.0" cy="352.8" r="3.7"/>
<circle cx="695.3" cy="335.8" r="3.7"/>
<circle cx="684.9" cy="321.6" r="3.7"/>
<circle cx="692.2" cy="347.1" r="3.7"/>
<circle cx="693.2" cy="307.1" r="3.7"/>
<circle cx="683.8" cy="341.8" r="3.7"/>
<circle cx="698.5" cy="325.0" r="3.7"/>
<circle cx="699.7" cy="244.4" r="3.7"/>
<circle cx="683.6" cy="312.9" r="3.7"/>
<circle cx="690.6" cy="277.0" r="3.7"/>
<circle cx="698.1" cy="371.6" r="3.7"/>
<circle cx="702.1" cy="324.7" r="3.7"/>
<circle cx="691.1" cy="324.4" r="3.7"/>
<circle cx="695.2" cy="353.8" r="3.7"/>
<circle cx="690.5" cy="279.5" r="3.7"/>
<circle cx="685.5" cy="345.2" r="3.7"/>
<circle cx="699.6" cy="356.7" r="3.7"/>
<circle cx="691.9" cy="314.8" r="3.7"/>
<circle cx="686.3" cy="335.6" r="3.7"/>
<circle cx="686.3" cy="332.2" r="3.7"/>
<circle cx="695.7" cy="324.7" r="3.7"/>
<circle cx="695.4" cy="312.5" r="3.7"/>
<circle cx="699.7" cy="360.9" r="3.7"/>
<circle cx="694.4" cy="272.0" r="3.7"/>
<circle cx="691.6" cy="334.1" r="3.7"/>
<circle cx="693.5" cy="349.4" r="3.7"/>
<circle cx="697.9" cy="325.4" r="3.7"/>
<circle cx="692.2" cy="300.1" r="3.7"/>
<circle cx="703.0" cy="372.6" r="3.7"/>
<circle cx="689.5" cy="334.3" r="3.7"/>
<circle cx="682.3" cy="302.3" r="3.7"/>
<circle cx="710.3" cy="298.0" r="3.7"/>
<circle cx="703.5" cy="390.8" r="3.7"/>
<circle cx="690.0" cy="369.5" r="3.7"/>
<circle cx="699.7" cy="329.2" r="3.7"/>
<circle cx="692.1" cy="308.8" r="3.7"/>
<circle cx="699.5" cy="270.3" r="3.7"/>
<circle cx="704.4" cy="293.6" r="3.7"/>
<circle cx="680.5" cy="283.1" r="3.7"/>
<circle cx="694.2" cy="376.5" r="3.7"/>
<circle cx="694.8" cy="333.3" r="3.7"/>
<circle cx="692.8" cy="292.8" r="3.7"/>
<circle cx="682.8" cy="303.4" r="3.7"/>
<circle cx="703.0" cy="363.3" r="3.7"/>
<circle cx="704.6" cy="347.7" r="3.7"/>
<circle cx="687.6" cy="293.5" r="3.7"/>
<circle cx="693.4" cy="387.1" r="3.7"/>
<circle cx="688.4" cy="302.0" r="3.7"/>
<circle cx="689.2" cy="341.1" r="3.7"/>
<circle cx="693.6" cy="325.4" r="3.7"/>
<circle cx="688.0" cy="356.4" r="3.7"/>
<circle cx="697.0" cy="283.8" r="3.7"/>
<circle cx="673.4" cy="311.1" r="3.7"/>
<circle cx="701.4" cy="354.9" r="3.7"/>
<circle cx="704.9" cy="375.8" r="3.7"/>
</g>
<g fill="none" stroke="#505050" stroke-opacity="0.6" stroke-width="1.1">
<circle cx="716.4" cy="292.5" r="3.7"/>
<circle cx="728.0" cy="394.3" r="3.7"/>
<circle cx="698.7" cy="354.8" r="3.7"/>
<circle cx="705.3" cy="297.6" r="3.7"/>
<circle cx="705.7" cy="292.1" r="3.7"/>
<circle cx="664.3" cy="351.1" r="3.7"/>
<circle cx="687.0" cy="315.1" r="3.7"/>
<circle cx="721.7" cy="350.9" r="3.7"/>
<circle cx="679.1" cy="309.8" r="3.7"/>
<circle cx="671.2" cy="317.5" r="3.7"/>
<circle cx="681.3" cy="333.1" r="3.7"/>
<circle cx="738.6" cy="337.4" r="3.7"/>
<circle cx="698.4" cy="350.3" r="3.7"/>
<circle cx="708.5" cy="294.7" r="3.7"/>
<circle cx="710.2" cy="362.2" r="3.7"/>
<circle cx="704.7" cy="294.0" r="3.7"/>
<circle cx="678.4" cy="334.4" r="3.7"/>
<circle cx="679.1" cy="344.8" r="3.7"/>
<circle cx="677.8" cy="363.1" r="3.7"/>
<circle cx="707.1" cy="332.3" r="3.7"/>
<circle cx="654.2" cy="355.9" r="3.7"/>
<circle cx="683.0" cy="357.2" r="3.7"/>
<circle cx="700.5" cy="335.8" r="3.7"/>
<circle cx="704.8" cy="363.2" r="3.7"/>
<circle cx="682.7" cy="341.4" r="3.7"/>
<circle cx="689.9" cy="339.4" r="3.7"/>
<circle cx="682.3" cy="334.0" r="3.7"/>
<circle cx="730.2" cy="349.0" r="3.7"/>
<circle cx="664.6" cy="324.2" r="3.7"/>
<circle cx="679.3" cy="311.8" r="3.7"/>
<circle cx="718.2" cy="291.0" r="3.7"/>
<circle cx="700.4" cy="371.2" r="3.7"/>
<circle cx="729.4" cy="309.0" r="3.7"/>
<circle cx="723.1" cy="328.7" r="3.7"/>
<circle cx="690.5" cy="330.4" r="3.7"/>
<circle cx="660.8" cy="307.5" r="3.7"/>
<circle cx="685.2" cy="345.6" r="3.7"/>
<circle cx="704.8" cy="351.6" r="3.7"/>
<circle cx="713.6" cy="345.6" r="3.7"/>
<circle cx="744.4" cy="301.2" r="3.7"/>
<circle cx="711.2" cy="323.2" r="3.7"/>
<circle cx="698.8" cy="342.7" r="3.7"/>
<circle cx="659.6" cy="344.0" r="3.7"/>
<circle cx="681.9" cy="342.9" r="3.7"/>
<circle cx="699.4" cy="375.6" r="3.7"/>
<circle cx="672.9" cy="347.1" r="3.7"/>
<circle cx="688.5" cy="309.1" r="3.7"/>
<circle cx="750.6" cy="334.3" r="3.7"/>
<circle cx="710.6" cy="330.9" r="3.7"/>
<circle cx="702.9" cy="289.2" r="3.7"/>
</g>
<g fill="none" stroke="#6a6a6a" stroke-opacity="0.8" stroke-width="1.1">
<circle cx="706.2" cy="232.4" r="3.7"/>
<circle cx="773.1" cy="321.1" r="3.7"/>
<circle cx="763.5" cy="404.0" r="3.7"/>
<circle cx="594.0" cy="420.5" r="3.7"/>
<circle cx="673.6" cy="396.6" r="3.7"/>
<circle cx="677.6" cy="400.6" r="3.7"/>
<circle cx="683.5" cy="394.7" r="3.7"/>
<circle cx="693.5" cy="390.7" r="3.7"/>
<circle cx="697.5" cy="392.7" r="3.7"/>
<circle cx="713.4" cy="400.6" r="3.7"/>
<circle cx="719.4" cy="400.6" r="3.7"/>
<circle cx="729.3" cy="402.6" r="3.7"/>
<circle cx="633.8" cy="360.9" r="3.7"/>
<circle cx="639.8" cy="356.9" r="3.7"/>
<circle cx="653.7" cy="358.9" r="3.7"/>
<circle cx="659.7" cy="360.9" r="3.7"/>
<circle cx="643.8" cy="366.8" r="3.7"/>
<circle cx="617.9" cy="317.1" r="3.7"/>
<circle cx="621.9" cy="319.1" r="3.7"/>
<circle cx="629.8" cy="325.1" r="3.7"/>
<circle cx="637.8" cy="321.1" r="3.7"/>
<circle cx="641.8" cy="301.2" r="3.7"/>
<circle cx="743.2" cy="311.2" r="3.7"/>
<circle cx="737.3" cy="325.1" r="3.7"/>
<circle cx="751.2" cy="321.1" r="3.7"/>
</g>
</g>
<rect x="594.0" y="221.7" width="199.00" height="198.80" fill="none" stroke="#5a5a5a" stroke-width="1.4"/>
<line x1="594.0" y1="370.8" x2="596.5" y2="370.8" stroke="#555" stroke-width="1" />
<line x1="793.0" y1="370.8" x2="790.5" y2="370.8" stroke="#555" stroke-width="1" />
<line x1="643.75" y1="420.5" x2="643.75" y2="418.0" stroke="#555" stroke-width="1" />
<line x1="643.75" y1="221.7" x2="643.75" y2="224.2" stroke="#555" stroke-width="1" />
<line x1="594.0" y1="321.1" x2="596.5" y2="321.1" stroke="#555" stroke-width="1" />
<line x1="793.0" y1="321.1" x2="790.5" y2="321.1" stroke="#555" stroke-width="1" />
<line x1="693.5" y1="420.5" x2="693.5" y2="418.0" stroke="#555" stroke-width="1" />
<line x1="693.5" y1="221.7" x2="693.5" y2="224.2" stroke="#555" stroke-width="1" />
<line x1="594.0" y1="271.4" x2="596.5" y2="271.4" stroke="#555" stroke-width="1" />
<line x1="793.0" y1="271.4" x2="790.5" y2="271.4" stroke="#555" stroke-width="1" />
<line x1="743.25" y1="420.5" x2="743.25" y2="418.0" stroke="#555" stroke-width="1" />
<line x1="743.25" y1="221.7" x2="743.25" y2="224.2" stroke="#555" stroke-width="1" />
<text x="594.2" y="438.2" font-size="13.3" text-anchor="middle" font-weight="normal" fill="#231f20" font-family='"Liberation Sans", sans-serif' >0</text>
<text x="695.0" y="438.2" font-size="13.3" text-anchor="middle" font-weight="normal" fill="#231f20" font-family='"Liberation Sans", sans-serif' letter-spacing="2">0.5</text>
<text x="793.0" y="438.2" font-size="13.3" text-anchor="middle" font-weight="normal" fill="#231f20" font-family='"Liberation Sans", sans-serif' >1</text>
<text x="689.9" y="466" font-size="15.8" text-anchor="middle" font-weight="normal" fill="#231f20" font-family='"Liberation Sans", sans-serif' >Player 1 location</text>
<text x="0" y="0" font-size="15.6" text-anchor="middle" font-weight="normal" fill="#231f20" font-family='"Liberation Sans", sans-serif' transform="translate(40.2,330.8) rotate(-90)">Player 2 location</text>
<text x="92.5" y="226.5" font-size="13.3" text-anchor="end" font-weight="normal" fill="#231f20" font-family='"Liberation Sans", sans-serif' >1</text>
<text x="95" y="326.5" font-size="13.3" text-anchor="end" font-weight="normal" fill="#231f20" font-family='"Liberation Sans", sans-serif' >0.5</text>
<text x="93.8" y="425.8" font-size="13.3" text-anchor="end" font-weight="normal" fill="#231f20" font-family='"Liberation Sans", sans-serif' >0</text>
<text x="0" y="475.5" font-size="21" text-anchor="start" font-weight="bold" fill="#111" font-family='"Liberation Sans", sans-serif' >c</text>
<polygon points="102.2,560.5 104.1,563.2 106.0,564.4 108.0,564.9 109.9,567.9 111.8,570.2 113.8,570.5 115.7,571.3 117.7,571.1 119.6,571.3 121.5,571.9 123.5,571.4 125.4,570.7 127.4,570.6 129.3,570.7 131.2,570.4 133.2,571.0 135.1,570.8 137.1,570.2 139.0,570.4 140.9,570.0 142.9,569.6 144.8,568.7 146.8,569.3 148.7,571.0 150.6,570.7 152.6,570.9 154.5,570.9 156.4,570.8 158.4,572.1 160.3,571.9 162.3,572.1 164.2,571.9 166.1,571.8 168.1,571.9 170.0,572.1 172.0,574.3 173.9,571.9 175.8,571.4 177.8,570.9 179.7,572.2 181.7,571.3 183.6,571.7 185.5,571.6 187.5,572.2 189.4,572.0 191.4,571.8 193.3,571.3 195.2,572.2 197.2,572.1 199.1,573.3 201.0,573.1 203.0,572.8 204.9,573.0 206.9,573.1 208.8,573.2 210.7,573.9 212.7,573.8 214.6,574.0 216.6,574.9 218.5,578.1 218.5,583.4 216.6,586.3 214.6,588.7 212.7,590.5 210.7,591.8 208.8,592.2 206.9,591.8 204.9,590.5 203.0,590.4 201.0,589.3 199.1,589.5 197.2,589.1 195.2,590.9 193.3,590.5 191.4,591.8 189.4,591.1 187.5,590.5 185.5,589.2 183.6,588.8 181.7,587.8 179.7,588.5 177.8,588.2 175.8,588.3 173.9,587.8 172.0,590.4 170.0,589.8 168.1,589.2 166.1,588.7 164.2,589.1 162.3,587.9 160.3,586.6 158.4,586.6 156.4,586.2 154.5,586.4 152.6,588.4 150.6,589.5 148.7,589.8 146.8,588.5 144.8,587.5 142.9,587.6 140.9,586.9 139.0,586.8 137.1,586.2 135.1,587.3 133.2,588.8 131.2,589.1 129.3,589.8 127.4,589.6 125.4,589.8 123.5,589.0 121.5,589.8 119.6,589.9 117.7,589.2 115.7,589.8 113.8,590.4 111.8,590.5 109.9,589.6 108.0,589.2 106.0,590.3 104.1,591.1 102.2,590.6" fill="#a9cde9" fill-opacity="1.0" stroke="#7a7a6a" stroke-width="0.6" stroke-opacity="0.8"/>
<polygon points="102.2,511.1 104.1,512.4 106.0,512.9 108.0,515.6 109.9,517.1 111.8,519.1 113.8,519.3 115.7,519.4 117.7,517.4 119.6,517.9 121.5,517.0 123.5,517.4 125.4,519.0 127.4,519.5 129.3,519.1 131.2,519.1 133.2,519.5 135.1,518.4 137.1,518.6 139.0,518.0 140.9,517.9 142.9,516.3 144.8,516.2 146.8,516.2 148.7,516.7 150.6,516.7 152.6,517.4 154.5,517.2 156.4,517.4 158.4,517.1 160.3,516.1 162.3,517.0 164.2,517.0 166.1,516.5 168.1,515.4 170.0,515.3 172.0,515.2 173.9,515.4 175.8,514.5 177.8,515.5 179.7,514.5 181.7,514.8 183.6,514.7 185.5,515.7 187.5,515.8 189.4,516.9 191.4,516.1 193.3,516.2 195.2,517.4 197.2,516.5 199.1,515.7 201.0,516.5 203.0,516.1 204.9,516.8 206.9,517.0 208.8,518.2 210.7,518.2 212.7,517.8 214.6,517.9 216.6,519.6 218.5,522.5 218.5,527.2 216.6,529.4 214.6,530.1 212.7,530.6 210.7,530.1 208.8,531.7 206.9,531.3 204.9,531.5 203.0,531.3 201.0,532.4 199.1,530.9 197.2,530.8 195.2,530.5 193.3,530.1 191.4,529.9 189.4,529.7 187.5,529.3 185.5,529.4 183.6,528.5 181.7,528.6 179.7,529.6 177.8,529.9 175.8,530.3 173.9,530.0 172.0,529.9 170.0,529.8 168.1,530.1 166.1,530.1 164.2,531.0 162.3,531.8 160.3,531.1 158.4,532.0 156.4,532.2 154.5,531.8 152.6,530.7 150.6,531.5 148.7,531.9 146.8,531.7 144.8,531.7 142.9,531.8 140.9,531.9 139.0,531.8 137.1,531.9 135.1,532.7 133.2,533.1 131.2,532.2 129.3,531.2 127.4,531.0 125.4,531.7 123.5,531.0 121.5,531.6 119.6,532.3 117.7,533.4 115.7,532.3 113.8,532.5 111.8,532.0 109.9,532.9 108.0,532.5 106.0,534.1 104.1,534.8 102.2,534.4" fill="#f9ed9f" fill-opacity="1.0" stroke="#7a7a6a" stroke-width="0.6" stroke-opacity="0.8"/>
<polyline points="102.2,579.5 104.1,580.5 106.0,580.3 108.0,579.7 109.9,581.1 111.8,581.5 113.8,581.2 115.7,580.5 117.7,580.1 119.6,580.7 121.5,581.1 123.5,580.7 125.4,580.6 127.4,580.3 129.3,580.3 131.2,580.5 133.2,579.8 135.1,579.0 137.1,578.4 139.0,578.7 140.9,578.6 142.9,578.5 144.8,578.1 146.8,578.4 148.7,579.9 150.6,579.7 152.6,579.8 154.5,578.7 156.4,578.5 158.4,579.6 160.3,579.2 162.3,580.0 164.2,580.2 166.1,580.4 168.1,580.6 170.0,580.6 172.0,581.3 173.9,579.6 175.8,580.0 177.8,579.6 179.7,580.6 181.7,580.5 183.6,580.6 185.5,580.6 187.5,581.0 189.4,581.2 191.4,581.7 193.3,581.1 195.2,581.8 197.2,581.2 199.1,582.2 201.0,581.7 203.0,582.0 204.9,581.8 206.9,582.2 208.8,581.8 210.7,581.9 212.7,581.1 214.6,580.4 216.6,580.1 218.5,580.7" fill="none" stroke="#4c9dd3" stroke-width="4.5" stroke-linejoin="round" stroke-linecap="round"/>
<polyline points="102.2,523.2 104.1,523.6 106.0,523.8 108.0,524.1 109.9,524.5 111.8,524.5 113.8,524.8 115.7,525.0 117.7,524.6 119.6,524.9 121.5,525.1 123.5,525.3 125.4,525.7 127.4,525.8 129.3,525.6 131.2,525.4 133.2,525.5 135.1,525.2 137.1,525.2 139.0,525.0 140.9,525.0 142.9,525.1 144.8,524.9 146.8,524.8 148.7,524.7 150.6,524.3 152.6,524.3 154.5,524.5 156.4,524.3 158.4,524.0 160.3,523.8 162.3,523.6 164.2,523.4 166.1,523.3 168.1,523.1 170.0,522.7 172.0,522.9 173.9,522.9 175.8,522.8 177.8,522.8 179.7,522.4 181.7,522.3 183.6,522.3 185.5,522.5 187.5,522.5 189.4,522.7 191.4,522.8 193.3,522.7 195.2,523.4 197.2,523.2 199.1,523.1 201.0,523.4 203.0,523.3 204.9,523.6 206.9,523.7 208.8,523.8 210.7,524.0 212.7,524.2 214.6,524.3 216.6,524.5 218.5,524.8" fill="none" stroke="#f1d62c" stroke-width="4.5" stroke-linejoin="round" stroke-linecap="round"/>
<line x1="100.65" y1="485.79999999999995" x2="100.65" y2="616.6" stroke="#4a4a4a" stroke-width="1.15" />
<line x1="100.05000000000001" y1="616.0" x2="219.0" y2="616.0" stroke="#4a4a4a" stroke-width="1.15" />
<line x1="96.15" y1="486.4" x2="100.65" y2="486.4" stroke="#4a4a4a" stroke-width="1" />
<line x1="96.15" y1="512.3199999999999" x2="100.65" y2="512.3199999999999" stroke="#4a4a4a" stroke-width="1" />
<line x1="96.15" y1="538.24" x2="100.65" y2="538.24" stroke="#4a4a4a" stroke-width="1" />
<line x1="96.15" y1="564.16" x2="100.65" y2="564.16" stroke="#4a4a4a" stroke-width="1" />
<line x1="96.15" y1="590.08" x2="100.65" y2="590.08" stroke="#4a4a4a" stroke-width="1" />
<line x1="139.93333333333334" y1="616.0" x2="139.93333333333334" y2="619.7" stroke="#4a4a4a" stroke-width="1" />
<line x1="179.21666666666667" y1="616.0" x2="179.21666666666667" y2="619.7" stroke="#4a4a4a" stroke-width="1" />
<line x1="218.5" y1="616.0" x2="218.5" y2="619.7" stroke="#4a4a4a" stroke-width="1" />
<line x1="242.3" y1="485.79999999999995" x2="242.3" y2="616.6" stroke="#4a4a4a" stroke-width="1.15" />
<line x1="241.70000000000002" y1="616.0" x2="298.8" y2="616.0" stroke="#4a4a4a" stroke-width="1.15" />
<text x="99.2" y="634.8" font-size="13.6" text-anchor="middle" font-weight="normal" fill="#231f20" font-family='"Liberation Sans", sans-serif' >0</text>
<text x="139.1" y="634.8" font-size="13.6" text-anchor="middle" font-weight="normal" fill="#231f20" font-family='"Liberation Sans", sans-serif' >20</text>
<text x="177.7" y="634.8" font-size="13.6" text-anchor="middle" font-weight="normal" fill="#231f20" font-family='"Liberation Sans", sans-serif' >40</text>
<text x="215.7" y="634.8" font-size="13.6" text-anchor="middle" font-weight="normal" fill="#231f20" font-family='"Liberation Sans", sans-serif' >60</text>
<text x="241.7" y="634.8" font-size="13.6" text-anchor="middle" font-weight="normal" fill="#231f20" font-family='"Liberation Sans", sans-serif' >0</text>
<text x="292.0" y="634.8" font-size="13.6" text-anchor="middle" font-weight="normal" fill="#231f20" font-family='"Liberation Sans", sans-serif' >400</text>
<text x="161.3" y="654.9" font-size="15.6" text-anchor="middle" font-weight="normal" fill="#231f20" font-family='"Liberation Sans", sans-serif' >n trials</text>
<rect x="242.3" y="560.00" width="0.6" height="4.95" fill="#86b9df" fill-opacity="1.0" stroke="#56778f" stroke-width="0.6"/>
<rect x="242.3" y="564.95" width="6.1" height="4.95" fill="#86b9df" fill-opacity="1.0" stroke="#56778f" stroke-width="0.6"/>
<rect x="242.3" y="569.90" width="15.2" height="4.95" fill="#86b9df" fill-opacity="1.0" stroke="#56778f" stroke-width="0.6"/>
<rect x="242.3" y="574.85" width="41.3" height="4.95" fill="#86b9df" fill-opacity="1.0" stroke="#56778f" stroke-width="0.6"/>
<rect x="242.3" y="579.80" width="44.0" height="4.95" fill="#86b9df" fill-opacity="1.0" stroke="#56778f" stroke-width="0.6"/>
<rect x="242.3" y="584.75" width="13.0" height="4.95" fill="#86b9df" fill-opacity="1.0" stroke="#56778f" stroke-width="0.6"/>
<rect x="242.3" y="589.70" width="4.5" height="4.95" fill="#86b9df" fill-opacity="1.0" stroke="#56778f" stroke-width="0.6"/>
<rect x="242.3" y="594.65" width="2.4" height="4.95" fill="#86b9df" fill-opacity="1.0" stroke="#56778f" stroke-width="0.6"/>
<rect x="242.3" y="575.50" width="1.2" height="5.00" fill="#c9c070" fill-opacity="1.0" stroke="#8f8a55" stroke-width="0.6"/>
<rect x="242.3" y="580.50" width="1.0" height="5.00" fill="#c9c070" fill-opacity="1.0" stroke="#8f8a55" stroke-width="0.6"/>
<rect x="242.3" y="505.60" width="1.3" height="4.80" fill="#f6df76" fill-opacity="1.0" stroke="#8f8a55" stroke-width="0.6"/>
<rect x="242.3" y="510.40" width="6.1" height="4.80" fill="#f6df76" fill-opacity="1.0" stroke="#8f8a55" stroke-width="0.6"/>
<rect x="242.3" y="515.20" width="26.4" height="4.80" fill="#f6df76" fill-opacity="1.0" stroke="#8f8a55" stroke-width="0.6"/>
<rect x="242.3" y="520.00" width="35.4" height="4.80" fill="#f6df76" fill-opacity="1.0" stroke="#8f8a55" stroke-width="0.6"/>
<rect x="242.3" y="524.80" width="25.3" height="4.80" fill="#f6df76" fill-opacity="1.0" stroke="#8f8a55" stroke-width="0.6"/>
<rect x="242.3" y="529.60" width="20.2" height="4.80" fill="#f6df76" fill-opacity="1.0" stroke="#8f8a55" stroke-width="0.6"/>
<rect x="242.3" y="534.40" width="6.1" height="4.80" fill="#f6df76" fill-opacity="1.0" stroke="#8f8a55" stroke-width="0.6"/>
<rect x="242.3" y="539.20" width="2.6" height="4.80" fill="#f6df76" fill-opacity="1.0" stroke="#8f8a55" stroke-width="0.6"/>
<rect x="242.3" y="544.00" width="1.5" height="4.80" fill="#f6df76" fill-opacity="1.0" stroke="#8f8a55" stroke-width="0.6"/>
<rect x="242.3" y="548.80" width="1.3" height="4.80" fill="#f6df76" fill-opacity="1.0" stroke="#8f8a55" stroke-width="0.6"/>
<rect x="242.3" y="553.60" width="0.5" height="4.80" fill="#f6df76" fill-opacity="1.0" stroke="#8f8a55" stroke-width="0.6"/>
<text x="0" y="0" font-size="15.6" text-anchor="middle" font-weight="normal" fill="#231f20" font-family='"Liberation Sans", sans-serif' transform="translate(40.2,555.1) rotate(-90)">Location</text>
<text x="94.8" y="493.9" font-size="13.3" text-anchor="end" font-weight="normal" fill="#231f20" font-family='"Liberation Sans", sans-serif' >0</text>
<text x="95" y="555" font-size="13.3" text-anchor="end" font-weight="normal" fill="#231f20" font-family='"Liberation Sans", sans-serif' >0.5</text>
<text x="94" y="616.7" font-size="13.3" text-anchor="end" font-weight="normal" fill="#231f20" font-family='"Liberation Sans", sans-serif' >1</text>
<polygon points="349.5,558.0 351.4,557.9 353.4,556.7 355.3,556.6 357.3,556.0 359.2,556.3 361.2,556.4 363.1,556.6 365.1,558.3 367.0,557.5 369.0,558.3 370.9,558.6 372.9,557.4 374.8,556.1 376.8,557.3 378.7,556.0 380.6,555.6 382.6,556.8 384.5,557.3 386.5,556.8 388.4,556.9 390.4,555.5 392.3,554.9 394.3,554.9 396.2,555.4 398.2,555.2 400.1,556.0 402.1,555.8 404.0,555.5 406.0,554.6 407.9,554.5 409.8,553.3 411.8,552.5 413.7,551.6 415.7,551.4 417.6,551.3 419.6,552.0 421.5,552.2 423.5,552.0 425.4,551.5 427.4,552.1 429.3,550.8 431.3,550.6 433.2,550.6 435.2,550.3 437.1,549.7 439.0,551.0 441.0,551.7 442.9,552.1 444.9,550.8 446.8,551.0 448.8,549.8 450.7,549.1 452.7,548.6 454.6,548.6 456.6,548.6 458.5,549.0 460.5,548.9 462.4,549.1 464.4,550.7 466.3,555.0 466.3,563.2 464.4,569.2 462.4,571.5 460.5,572.7 458.5,572.4 456.6,572.7 454.6,572.5 452.7,573.1 450.7,573.5 448.8,573.9 446.8,574.7 444.9,573.9 442.9,574.3 441.0,574.3 439.0,573.3 437.1,572.8 435.2,573.8 433.2,574.2 431.3,574.7 429.3,575.0 427.4,575.7 425.4,575.2 423.5,575.5 421.5,576.1 419.6,576.2 417.6,576.7 415.7,576.7 413.7,578.0 411.8,578.4 409.8,579.3 407.9,580.0 406.0,580.0 404.0,580.6 402.1,579.9 400.1,580.3 398.2,579.3 396.2,579.1 394.3,578.9 392.3,579.4 390.4,579.8 388.4,580.3 386.5,581.2 384.5,581.5 382.6,581.3 380.6,580.5 378.7,580.5 376.8,580.3 374.8,580.0 372.9,579.9 370.9,580.9 369.0,581.8 367.0,582.0 365.1,582.7 363.1,582.4 361.2,582.3 359.2,582.0 357.3,582.3 355.3,582.3 353.4,581.7 351.4,582.0 349.5,582.3" fill="#a9cde9" fill-opacity="1.0" stroke="#7a7a6a" stroke-width="0.6" stroke-opacity="0.8"/>
<polygon points="349.5,527.5 351.4,527.5 353.4,527.7 355.3,526.5 357.3,525.8 359.2,526.2 361.2,525.9 363.1,525.3 365.1,525.7 367.0,525.4 369.0,525.6 370.9,526.0 372.9,527.0 374.8,526.5 376.8,527.6 378.7,528.0 380.6,527.9 382.6,527.8 384.5,528.8 386.5,529.1 388.4,529.3 390.4,530.6 392.3,531.2 394.3,530.3 396.2,531.1 398.2,530.6 400.1,530.4 402.1,529.2 404.0,529.5 406.0,530.1 407.9,530.8 409.8,529.8 411.8,528.9 413.7,529.8 415.7,528.7 417.6,528.7 419.6,529.7 421.5,529.5 423.5,529.0 425.4,529.6 427.4,529.6 429.3,530.2 431.3,530.1 433.2,529.7 435.2,529.0 437.1,528.6 439.0,529.5 441.0,530.0 442.9,529.3 444.9,529.8 446.8,530.2 448.8,530.4 450.7,530.5 452.7,531.1 454.6,530.4 456.6,530.8 458.5,531.6 460.5,532.2 462.4,532.4 464.4,533.8 466.3,537.3 466.3,544.5 464.4,548.9 462.4,552.5 460.5,553.0 458.5,552.9 456.6,552.5 454.6,552.3 452.7,552.1 450.7,552.4 448.8,552.9 446.8,551.6 444.9,551.7 442.9,550.9 441.0,551.0 439.0,550.4 437.1,550.5 435.2,550.0 433.2,550.0 431.3,550.4 429.3,551.2 427.4,550.5 425.4,550.5 423.5,550.9 421.5,550.6 419.6,550.2 417.6,550.1 415.7,550.5 413.7,551.1 411.8,551.6 409.8,552.7 407.9,552.6 406.0,552.1 404.0,551.0 402.1,550.2 400.1,551.1 398.2,551.9 396.2,551.6 394.3,551.9 392.3,552.0 390.4,551.3 388.4,550.0 386.5,550.3 384.5,548.9 382.6,549.2 380.6,549.3 378.7,548.5 376.8,547.7 374.8,546.5 372.9,545.3 370.9,545.0 369.0,545.7 367.0,545.1 365.1,545.9 363.1,546.5 361.2,546.4 359.2,546.4 357.3,546.9 355.3,546.7 353.4,548.6 351.4,548.6 349.5,548.7" fill="#f9ed9f" fill-opacity="0.8" stroke="#7a7a6a" stroke-width="0.6" stroke-opacity="0.8"/>
<polyline points="349.5,570.5 351.4,570.1 353.4,569.6 355.3,569.5 357.3,569.6 359.2,569.4 361.2,569.2 363.1,568.9 365.1,569.3 367.0,569.1 369.0,569.2 370.9,568.8 372.9,568.5 374.8,568.5 376.8,568.6 378.7,568.3 380.6,568.7 382.6,568.9 384.5,569.1 386.5,569.0 388.4,568.5 390.4,568.1 392.3,568.1 394.3,567.9 396.2,567.8 398.2,567.8 400.1,567.8 402.1,567.2 404.0,567.2 406.0,566.5 407.9,566.5 409.8,565.8 411.8,565.2 413.7,564.9 415.7,564.2 417.6,564.0 419.6,563.8 421.5,563.9 423.5,563.7 425.4,563.2 427.4,563.8 429.3,563.3 431.3,563.1 433.2,562.5 435.2,562.2 437.1,562.1 439.0,562.7 441.0,562.9 442.9,563.1 444.9,562.7 446.8,562.2 448.8,561.1 450.7,560.7 452.7,560.1 454.6,559.7 456.6,559.7 458.5,559.4 460.5,559.9 462.4,559.3 464.4,558.7 466.3,558.6" fill="none" stroke="#4c9dd3" stroke-width="4.5" stroke-linejoin="round" stroke-linecap="round"/>
<polyline points="349.5,537.6 351.4,537.2 353.4,537.0 355.3,535.7 357.3,535.6 359.2,535.6 361.2,535.8 363.1,535.7 365.1,535.9 367.0,536.0 369.0,536.4 370.9,536.0 372.9,536.5 374.8,536.9 376.8,537.6 378.7,537.9 380.6,538.4 382.6,538.1 384.5,538.2 386.5,538.7 388.4,538.8 390.4,539.4 392.3,539.6 394.3,539.4 396.2,540.0 398.2,540.1 400.1,540.2 402.1,539.9 404.0,540.3 406.0,540.6 407.9,541.5 409.8,541.8 411.8,540.9 413.7,541.1 415.7,540.5 417.6,540.4 419.6,540.8 421.5,540.5 423.5,539.9 425.4,540.3 427.4,540.4 429.3,540.5 431.3,540.3 433.2,539.7 435.2,539.5 437.1,539.6 439.0,540.4 441.0,541.3 442.9,541.0 444.9,541.1 446.8,540.8 448.8,541.4 450.7,541.5 452.7,541.6 454.6,541.3 456.6,541.7 458.5,541.9 460.5,542.1 462.4,542.2 464.4,541.5 466.3,541.0" fill="none" stroke="#f1d62c" stroke-width="4.5" stroke-linejoin="round" stroke-linecap="round"/>
<line x1="348.0" y1="485.79999999999995" x2="348.0" y2="616.6" stroke="#4a4a4a" stroke-width="1.15" />
<line x1="347.4" y1="616.0" x2="466.8" y2="616.0" stroke="#4a4a4a" stroke-width="1.15" />
<line x1="343.5" y1="486.4" x2="348.0" y2="486.4" stroke="#4a4a4a" stroke-width="1" />
<line x1="343.5" y1="512.3199999999999" x2="348.0" y2="512.3199999999999" stroke="#4a4a4a" stroke-width="1" />
<line x1="343.5" y1="538.24" x2="348.0" y2="538.24" stroke="#4a4a4a" stroke-width="1" />
<line x1="343.5" y1="564.16" x2="348.0" y2="564.16" stroke="#4a4a4a" stroke-width="1" />
<line x1="343.5" y1="590.08" x2="348.0" y2="590.08" stroke="#4a4a4a" stroke-width="1" />
<line x1="387.43333333333334" y1="616.0" x2="387.43333333333334" y2="619.7" stroke="#4a4a4a" stroke-width="1" />
<line x1="426.8666666666667" y1="616.0" x2="426.8666666666667" y2="619.7" stroke="#4a4a4a" stroke-width="1" />
<line x1="466.3" y1="616.0" x2="466.3" y2="619.7" stroke="#4a4a4a" stroke-width="1" />
<line x1="490.6" y1="485.79999999999995" x2="490.6" y2="616.6" stroke="#4a4a4a" stroke-width="1.15" />
<line x1="490.0" y1="616.0" x2="543.2" y2="616.0" stroke="#4a4a4a" stroke-width="1.15" />
<text x="349.2" y="634.8" font-size="13.6" text-anchor="middle" font-weight="normal" fill="#231f20" font-family='"Liberation Sans", sans-serif' >0</text>
<text x="388.6" y="634.8" font-size="13.6" text-anchor="middle" font-weight="normal" fill="#231f20" font-family='"Liberation Sans", sans-serif' >20</text>
<text x="427.1" y="634.8" font-size="13.6" text-anchor="middle" font-weight="normal" fill="#231f20" font-family='"Liberation Sans", sans-serif' >40</text>
<text x="465.0" y="634.8" font-size="13.6" text-anchor="middle" font-weight="normal" fill="#231f20" font-family='"Liberation Sans", sans-serif' >60</text>
<text x="491.7" y="634.8" font-size="13.6" text-anchor="middle" font-weight="normal" fill="#231f20" font-family='"Liberation Sans", sans-serif' >0</text>
<text x="537.6" y="634.8" font-size="13.6" text-anchor="middle" font-weight="normal" fill="#231f20" font-family='"Liberation Sans", sans-serif' >200</text>
<text x="409.8" y="654.9" font-size="15.6" text-anchor="middle" font-weight="normal" fill="#231f20" font-family='"Liberation Sans", sans-serif' >n trials</text>
<rect x="490.6" y="512.80" width="0.5" height="3.92" fill="#a9cde9" fill-opacity="1.0" stroke="#6f8fa8" stroke-width="0.6"/>
<rect x="490.6" y="516.72" width="1.8" height="3.92" fill="#a9cde9" fill-opacity="1.0" stroke="#6f8fa8" stroke-width="0.6"/>
<rect x="490.6" y="520.64" width="2.4" height="3.92" fill="#a9cde9" fill-opacity="1.0" stroke="#6f8fa8" stroke-width="0.6"/>
<rect x="490.6" y="550.08" width="41.0" height="3.92" fill="#a9cde9" fill-opacity="1.0" stroke="#6f8fa8" stroke-width="0.6"/>
<rect x="490.6" y="554.00" width="14.5" height="3.92" fill="#a9cde9" fill-opacity="1.0" stroke="#6f8fa8" stroke-width="0.6"/>
<rect x="490.6" y="557.92" width="15.6" height="3.92" fill="#a9cde9" fill-opacity="1.0" stroke="#6f8fa8" stroke-width="0.6"/>
<rect x="490.6" y="561.84" width="25.8" height="3.92" fill="#a9cde9" fill-opacity="1.0" stroke="#6f8fa8" stroke-width="0.6"/>
<rect x="490.6" y="565.76" width="32.5" height="3.92" fill="#a9cde9" fill-opacity="1.0" stroke="#6f8fa8" stroke-width="0.6"/>
<rect x="490.6" y="569.68" width="38.9" height="3.92" fill="#a9cde9" fill-opacity="1.0" stroke="#6f8fa8" stroke-width="0.6"/>
<rect x="490.6" y="573.60" width="22.9" height="3.92" fill="#a9cde9" fill-opacity="1.0" stroke="#6f8fa8" stroke-width="0.6"/>
<rect x="490.6" y="577.52" width="7.8" height="3.92" fill="#a9cde9" fill-opacity="1.0" stroke="#6f8fa8" stroke-width="0.6"/>
<rect x="490.6" y="581.44" width="7.8" height="3.92" fill="#a9cde9" fill-opacity="1.0" stroke="#6f8fa8" stroke-width="0.6"/>
<rect x="490.6" y="585.36" width="8.3" height="3.92" fill="#a9cde9" fill-opacity="1.0" stroke="#6f8fa8" stroke-width="0.6"/>
<rect x="490.6" y="523.20" width="2.9" height="3.92" fill="#f0d640" fill-opacity="0.5" stroke="#8f8a55" stroke-width="0.6"/>
<rect x="490.6" y="527.12" width="21.0" height="3.92" fill="#f0d640" fill-opacity="0.5" stroke="#8f8a55" stroke-width="0.6"/>
<rect x="490.6" y="531.04" width="37.3" height="3.92" fill="#f0d640" fill-opacity="0.5" stroke="#8f8a55" stroke-width="0.6"/>
<rect x="490.6" y="534.96" width="35.7" height="3.92" fill="#f0d640" fill-opacity="0.5" stroke="#8f8a55" stroke-width="0.6"/>
<rect x="490.6" y="538.88" width="28.0" height="3.92" fill="#f0d640" fill-opacity="0.5" stroke="#8f8a55" stroke-width="0.6"/>
<rect x="490.6" y="542.80" width="21.0" height="3.92" fill="#f0d640" fill-opacity="0.5" stroke="#8f8a55" stroke-width="0.6"/>
<rect x="490.6" y="546.72" width="21.0" height="3.92" fill="#f0d640" fill-opacity="0.5" stroke="#8f8a55" stroke-width="0.6"/>
<rect x="490.6" y="550.64" width="37.0" height="3.92" fill="#f0d640" fill-opacity="0.5" stroke="#8f8a55" stroke-width="0.6"/>
<rect x="490.6" y="554.56" width="13.3" height="3.92" fill="#f0d640" fill-opacity="0.5" stroke="#8f8a55" stroke-width="0.6"/>
<rect x="490.6" y="558.48" width="8.5" height="3.92" fill="#f0d640" fill-opacity="0.5" stroke="#8f8a55" stroke-width="0.6"/>
<rect x="490.6" y="562.40" width="5.3" height="3.92" fill="#f0d640" fill-opacity="0.5" stroke="#8f8a55" stroke-width="0.6"/>
<rect x="490.6" y="566.32" width="10.1" height="3.92" fill="#f0d640" fill-opacity="0.5" stroke="#8f8a55" stroke-width="0.6"/>
<rect x="490.6" y="570.24" width="4.5" height="3.92" fill="#f0d640" fill-opacity="0.5" stroke="#8f8a55" stroke-width="0.6"/>
<rect x="490.6" y="574.16" width="3.4" height="3.92" fill="#f0d640" fill-opacity="0.5" stroke="#8f8a55" stroke-width="0.6"/>
<rect x="490.6" y="578.08" width="1.8" height="3.92" fill="#f0d640" fill-opacity="0.5" stroke="#8f8a55" stroke-width="0.6"/>
<rect x="490.6" y="582.00" width="1.0" height="3.92" fill="#f0d640" fill-opacity="0.5" stroke="#8f8a55" stroke-width="0.6"/>
<polygon points="594.4,551.5 596.3,551.1 598.2,549.3 600.2,551.2 602.1,551.0 604.0,551.2 605.9,551.9 607.8,552.1 609.8,551.2 611.7,551.5 613.6,549.7 615.5,551.1 617.4,551.3 619.4,552.3 621.3,551.8 623.2,553.1 625.1,552.7 627.0,552.3 629.0,552.8 630.9,552.6 632.8,554.2 634.7,552.8 636.6,553.7 638.6,554.4 640.5,553.9 642.4,553.2 644.3,553.0 646.2,554.0 648.2,554.3 650.1,552.6 652.0,552.2 653.9,552.0 655.8,552.2 657.8,551.5 659.7,553.0 661.6,552.8 663.5,552.5 665.4,551.1 667.4,553.2 669.3,552.9 671.2,553.3 673.1,553.0 675.0,553.6 677.0,554.9 678.9,554.7 680.8,553.8 682.7,553.7 684.6,553.7 686.6,553.3 688.5,554.9 690.4,554.5 692.3,552.6 694.2,553.9 696.2,553.4 698.1,554.8 700.0,554.6 701.9,554.3 703.8,554.1 705.8,553.7 707.7,554.5 709.6,555.6 709.6,558.8 707.7,561.8 705.8,562.5 703.8,563.2 701.9,562.2 700.0,562.2 698.1,562.0 696.2,561.3 694.2,562.4 692.3,561.9 690.4,564.5 688.5,564.9 686.6,562.4 684.6,561.9 682.7,561.0 680.8,560.7 678.9,561.8 677.0,562.0 675.0,561.5 673.1,562.3 671.2,562.3 669.3,562.5 667.4,562.8 665.4,560.9 663.5,561.6 661.6,563.0 659.7,562.9 657.8,562.1 655.8,563.2 653.9,563.1 652.0,562.7 650.1,562.7 648.2,563.3 646.2,562.3 644.3,560.2 642.4,560.4 640.5,561.3 638.6,562.9 636.6,561.6 634.7,561.8 632.8,563.0 630.9,561.8 629.0,561.7 627.0,562.0 625.1,562.1 623.2,562.5 621.3,560.8 619.4,561.7 617.4,561.1 615.5,560.4 613.6,559.0 611.7,561.0 609.8,560.9 607.8,560.9 605.9,561.2 604.0,561.2 602.1,561.2 600.2,560.8 598.2,559.5 596.3,561.5 594.4,561.2" fill="#a9cde9" fill-opacity="1.0" stroke="#7a7a6a" stroke-width="0.6" stroke-opacity="0.8"/>
<polygon points="594.4,544.4 596.3,544.2 598.2,544.4 600.2,544.3 602.1,543.9 604.0,543.6 605.9,543.8 607.8,543.6 609.8,543.9 611.7,543.7 613.6,544.9 615.5,544.1 617.4,544.1 619.4,543.9 621.3,544.0 623.2,543.9 625.1,544.6 627.0,544.2 629.0,544.0 630.9,544.0 632.8,544.8 634.7,545.3 636.6,545.2 638.6,545.8 640.5,545.8 642.4,544.6 644.3,544.5 646.2,544.7 648.2,544.4 650.1,544.0 652.0,544.1 653.9,543.9 655.8,543.2 657.8,543.9 659.7,543.8 661.6,543.6 663.5,543.5 665.4,543.5 667.4,543.3 669.3,543.0 671.2,543.5 673.1,543.5 675.0,543.5 677.0,544.2 678.9,544.5 680.8,544.8 682.7,544.4 684.6,544.9 686.6,544.8 688.5,545.4 690.4,545.5 692.3,545.2 694.2,544.6 696.2,544.5 698.1,544.8 700.0,544.7 701.9,544.8 703.8,545.3 705.8,546.3 707.7,547.1 709.6,548.5 709.6,550.9 707.7,552.2 705.8,552.6 703.8,553.1 701.9,552.9 700.0,553.1 698.1,553.4 696.2,553.3 694.2,553.8 692.3,554.4 690.4,554.9 688.5,555.1 686.6,554.1 684.6,552.9 682.7,553.0 680.8,554.1 678.9,552.9 677.0,553.8 675.0,553.7 673.1,553.3 671.2,552.3 669.3,552.4 667.4,551.5 665.4,551.5 663.5,551.3 661.6,552.4 659.7,552.5 657.8,552.7 655.8,552.0 653.9,553.6 652.0,552.7 650.1,553.1 648.2,553.5 646.2,553.7 644.3,553.5 642.4,554.2 640.5,554.2 638.6,554.3 636.6,553.9 634.7,553.2 632.8,552.4 630.9,552.3 629.0,552.0 627.0,551.4 625.1,551.9 623.2,551.9 621.3,551.6 619.4,551.8 617.4,551.8 615.5,551.6 613.6,551.9 611.7,551.4 609.8,551.9 607.8,552.3 605.9,552.7 604.0,552.8 602.1,552.1 600.2,551.8 598.2,551.9 596.3,552.8 594.4,552.8" fill="#f9ed9f" fill-opacity="0.75" stroke="#7a7a6a" stroke-width="0.6" stroke-opacity="0.8"/>
<polyline points="594.4,555.6 596.3,555.2 598.2,553.6 600.2,555.3 602.1,554.9 604.0,554.9 605.9,555.3 607.8,555.0 609.8,554.2 611.7,554.2 613.6,552.5 615.5,553.8 617.4,554.3 619.4,555.3 621.3,554.9 623.2,556.2 625.1,556.3 627.0,556.0 629.0,555.7 630.9,555.5 632.8,556.7 634.7,555.1 636.6,555.6 638.6,556.8 640.5,556.3 642.4,555.7 644.3,555.5 646.2,557.2 648.2,557.6 650.1,556.2 652.0,556.3 653.9,556.3 655.8,556.6 657.8,555.8 659.7,557.1 661.6,556.7 663.5,555.9 665.4,554.5 667.4,556.8 669.3,556.2 671.2,556.3 673.1,556.3 675.0,556.6 677.0,557.3 678.9,557.2 680.8,556.2 682.7,556.0 684.6,556.1 686.6,556.1 688.5,558.1 690.4,558.3 692.3,556.2 694.2,557.2 696.2,556.5 698.1,557.3 700.0,557.1 701.9,557.2 703.8,557.7 705.8,557.3 707.7,557.8 709.6,557.1" fill="none" stroke="#4c9dd3" stroke-width="5" stroke-linejoin="round" stroke-linecap="round"/>
<polyline points="594.4,548.2 596.3,548.1 598.2,548.0 600.2,548.1 602.1,548.1 604.0,548.6 605.9,548.9 607.8,548.3 609.8,548.3 611.7,548.2 613.6,548.6 615.5,548.2 617.4,548.6 619.4,548.6 621.3,548.7 623.2,548.8 625.1,549.0 627.0,548.7 629.0,548.6 630.9,548.5 632.8,548.8 634.7,549.2 636.6,549.6 638.6,549.9 640.5,549.9 642.4,549.5 644.3,549.1 646.2,549.0 648.2,548.8 650.1,548.7 652.0,548.7 653.9,549.0 655.8,548.3 657.8,549.0 659.7,548.4 661.6,548.3 663.5,547.5 665.4,547.6 667.4,547.6 669.3,548.2 671.2,548.5 673.1,548.8 675.0,548.9 677.0,549.0 678.9,548.8 680.8,549.7 682.7,549.3 684.6,549.5 686.6,550.2 688.5,550.7 690.4,550.5 692.3,550.3 694.2,549.6 696.2,549.6 698.1,549.8 700.0,549.7 701.9,549.5 703.8,549.6 705.8,549.4 707.7,549.7 709.6,549.7" fill="none" stroke="#e9c62e" stroke-width="5.5" stroke-linejoin="round" stroke-linecap="round"/>
<line x1="592.9" y1="485.79999999999995" x2="592.9" y2="616.6" stroke="#4a4a4a" stroke-width="1.15" />
<line x1="592.3" y1="616.0" x2="710.1" y2="616.0" stroke="#4a4a4a" stroke-width="1.15" />
<line x1="588.4" y1="486.4" x2="592.9" y2="486.4" stroke="#4a4a4a" stroke-width="1" />
<line x1="588.4" y1="512.3199999999999" x2="592.9" y2="512.3199999999999" stroke="#4a4a4a" stroke-width="1" />
<line x1="588.4" y1="538.24" x2="592.9" y2="538.24" stroke="#4a4a4a" stroke-width="1" />
<line x1="588.4" y1="564.16" x2="592.9" y2="564.16" stroke="#4a4a4a" stroke-width="1" />
<line x1="588.4" y1="590.08" x2="592.9" y2="590.08" stroke="#4a4a4a" stroke-width="1" />
<line x1="631.8" y1="616.0" x2="631.8" y2="619.7" stroke="#4a4a4a" stroke-width="1" />
<line x1="670.7" y1="616.0" x2="670.7" y2="619.7" stroke="#4a4a4a" stroke-width="1" />
<line x1="709.6" y1="616.0" x2="709.6" y2="619.7" stroke="#4a4a4a" stroke-width="1" />
<line x1="731.4" y1="485.79999999999995" x2="731.4" y2="616.6" stroke="#4a4a4a" stroke-width="1.15" />
<line x1="730.8" y1="616.0" x2="794.8" y2="616.0" stroke="#4a4a4a" stroke-width="1.15" />
<text x="593.3" y="634.8" font-size="13.6" text-anchor="middle" font-weight="normal" fill="#231f20" font-family='"Liberation Sans", sans-serif' >0</text>
<text x="632.9" y="634.8" font-size="13.6" text-anchor="middle" font-weight="normal" fill="#231f20" font-family='"Liberation Sans", sans-serif' >20</text>
<text x="671.3" y="634.8" font-size="13.6" text-anchor="middle" font-weight="normal" fill="#231f20" font-family='"Liberation Sans", sans-serif' >40</text>
<text x="709.4" y="634.8" font-size="13.6" text-anchor="middle" font-weight="normal" fill="#231f20" font-family='"Liberation Sans", sans-serif' >60</text>
<text x="733.8" y="634.8" font-size="13.6" text-anchor="middle" font-weight="normal" fill="#231f20" font-family='"Liberation Sans", sans-serif' >0</text>
<text x="789.5" y="634.8" font-size="13.6" text-anchor="middle" font-weight="normal" fill="#231f20" font-family='"Liberation Sans", sans-serif' >600</text>
<text x="655.8" y="654.9" font-size="15.6" text-anchor="middle" font-weight="normal" fill="#231f20" font-family='"Liberation Sans", sans-serif' >n trials</text>
<rect x="731.4" y="539.86" width="14.0" height="5.50" fill="#a9cde9" fill-opacity="1.0" stroke="#6f8fa8" stroke-width="0.6"/>
<rect x="731.4" y="545.36" width="14.0" height="5.50" fill="#a9cde9" fill-opacity="1.0" stroke="#6f8fa8" stroke-width="0.6"/>
<rect x="731.4" y="550.86" width="46.5" height="5.50" fill="#a9cde9" fill-opacity="1.0" stroke="#6f8fa8" stroke-width="0.6"/>
<rect x="731.4" y="556.36" width="11.6" height="5.50" fill="#a9cde9" fill-opacity="1.0" stroke="#6f8fa8" stroke-width="0.6"/>
<rect x="731.4" y="561.86" width="3.5" height="5.50" fill="#a9cde9" fill-opacity="1.0" stroke="#6f8fa8" stroke-width="0.6"/>
<rect x="731.4" y="567.36" width="2.0" height="5.50" fill="#a9cde9" fill-opacity="1.0" stroke="#6f8fa8" stroke-width="0.6"/>
<rect x="731.4" y="572.86" width="2.0" height="5.50" fill="#a9cde9" fill-opacity="1.0" stroke="#6f8fa8" stroke-width="0.6"/>
<rect x="731.4" y="517.86" width="0.9" height="5.50" fill="#f0d640" fill-opacity="0.5" stroke="#8f8a55" stroke-width="0.6"/>
<rect x="731.4" y="523.36" width="2.0" height="5.50" fill="#f0d640" fill-opacity="0.5" stroke="#8f8a55" stroke-width="0.6"/>
<rect x="731.4" y="528.86" width="3.5" height="5.50" fill="#f0d640" fill-opacity="0.5" stroke="#8f8a55" stroke-width="0.6"/>
<rect x="731.4" y="534.36" width="5.0" height="5.50" fill="#f0d640" fill-opacity="0.5" stroke="#8f8a55" stroke-width="0.6"/>
<rect x="731.4" y="539.86" width="7.4" height="5.50" fill="#f0d640" fill-opacity="0.5" stroke="#8f8a55" stroke-width="0.6"/>
<rect x="731.4" y="545.36" width="26.6" height="5.50" fill="#f0d640" fill-opacity="0.5" stroke="#8f8a55" stroke-width="0.6"/>
<rect x="731.4" y="550.86" width="38.9" height="5.50" fill="#f0d640" fill-opacity="0.5" stroke="#8f8a55" stroke-width="0.6"/>
<rect x="731.4" y="556.36" width="5.7" height="5.50" fill="#f0d640" fill-opacity="0.5" stroke="#8f8a55" stroke-width="0.6"/>
<rect x="731.4" y="610.59" width="2.0" height="5.20" fill="#f0d640" fill-opacity="0.5" stroke="#8f8a55" stroke-width="0.6"/>
<text x="-1.5" y="703" font-size="21" text-anchor="start" font-weight="bold" fill="#111" font-family='"Liberation Sans", sans-serif' >d</text>
<rect x="335.8" y="671.3" width="11.5" height="12.4" fill="#f5dc3c" />
<text x="352.9" y="685.7" font-size="16" text-anchor="start" font-weight="normal" fill="#231f20" font-family='"Liberation Sans", sans-serif' >Left Player</text>
<rect x="446" y="671.3" width="11.5" height="12.4" fill="#5aa5d5" />
<text x="462.5" y="685.7" font-size="16" text-anchor="start" font-weight="normal" fill="#231f20" font-family='"Liberation Sans", sans-serif' >Right Player</text>
<rect x="124.0" y="829.2" width="26.900000000000006" height="31.94100000000003" fill="#7b7b7b" />
<rect x="158.5" y="829.2" width="26.599999999999994" height="1.5209999999999582" fill="#7b7b7b" />
<rect x="192.3" y="805.878" width="26.599999999999994" height="23.322000000000003" fill="#7b7b7b" />
<rect x="226.0" y="777.486" width="26.900000000000006" height="51.714000000000055" fill="#7b7b7b" />
<g fill="none" stroke="#000" stroke-opacity="0.3" stroke-width="0.85">
<circle cx="138" cy="753.2" r="2.9"/>
<circle cx="138" cy="763.3" r="2.9"/>
<circle cx="138" cy="768.4" r="2.9"/>
<circle cx="138" cy="783.6" r="2.9"/>
<circle cx="138" cy="783.6" r="2.9"/>
<circle cx="138" cy="793.7" r="2.9"/>
<circle cx="138" cy="798.8" r="2.9"/>
<circle cx="138" cy="798.8" r="2.9"/>
<circle cx="138" cy="808.9" r="2.9"/>
<circle cx="138" cy="814.0" r="2.9"/>
<circle cx="138" cy="815.5" r="2.9"/>
<circle cx="138" cy="834.3" r="2.9"/>
<circle cx="138" cy="836.8" r="2.9"/>
<circle cx="138" cy="839.3" r="2.9"/>
<circle cx="138" cy="849.5" r="2.9"/>
<circle cx="138" cy="852.0" r="2.9"/>
<circle cx="138" cy="854.6" r="2.9"/>
<circle cx="138" cy="869.8" r="2.9"/>
<circle cx="138" cy="872.3" r="2.9"/>
<circle cx="138" cy="874.8" r="2.9"/>
<circle cx="138" cy="882.4" r="2.9"/>
<circle cx="138" cy="887.5" r="2.9"/>
<circle cx="138" cy="890.0" r="2.9"/>
<circle cx="138" cy="910.3" r="2.9"/>
<circle cx="138" cy="912.9" r="2.9"/>
<circle cx="138" cy="915.4" r="2.9"/>
</g>
<g fill="none" stroke="#000" stroke-opacity="0.3" stroke-width="0.85">
<circle cx="172" cy="707.5" r="2.9"/>
<circle cx="172" cy="730.3" r="2.9"/>
<circle cx="172" cy="742.0" r="2.9"/>
<circle cx="172" cy="747.1" r="2.9"/>
<circle cx="172" cy="750.6" r="2.9"/>
<circle cx="172" cy="758.2" r="2.9"/>
<circle cx="172" cy="769.4" r="2.9"/>
<circle cx="172" cy="774.4" r="2.9"/>
<circle cx="172" cy="783.6" r="2.9"/>
<circle cx="172" cy="786.1" r="2.9"/>
<circle cx="172" cy="801.3" r="2.9"/>
<circle cx="172" cy="804.9" r="2.9"/>
<circle cx="172" cy="808.9" r="2.9"/>
<circle cx="172" cy="811.5" r="2.9"/>
<circle cx="172" cy="816.5" r="2.9"/>
<circle cx="172" cy="819.1" r="2.9"/>
<circle cx="172" cy="821.6" r="2.9"/>
<circle cx="172" cy="826.7" r="2.9"/>
<circle cx="172" cy="836.8" r="2.9"/>
<circle cx="172" cy="839.3" r="2.9"/>
<circle cx="172" cy="841.9" r="2.9"/>
<circle cx="172" cy="844.4" r="2.9"/>
<circle cx="172" cy="849.5" r="2.9"/>
<circle cx="172" cy="854.6" r="2.9"/>
<circle cx="172" cy="857.1" r="2.9"/>
<circle cx="172" cy="862.2" r="2.9"/>
<circle cx="172" cy="869.8" r="2.9"/>
<circle cx="172" cy="872.3" r="2.9"/>
<circle cx="172" cy="885.0" r="2.9"/>
<circle cx="172" cy="887.5" r="2.9"/>
<circle cx="172" cy="890.0" r="2.9"/>
<circle cx="172" cy="909.3" r="2.9"/>
<circle cx="172" cy="938.2" r="2.9"/>
<circle cx="172" cy="956.0" r="2.9"/>
</g>
<g fill="none" stroke="#000" stroke-opacity="0.3" stroke-width="0.85">
<circle cx="206" cy="722.7" r="2.9"/>
<circle cx="206" cy="755.7" r="2.9"/>
<circle cx="206" cy="768.4" r="2.9"/>
<circle cx="206" cy="770.9" r="2.9"/>
<circle cx="206" cy="778.5" r="2.9"/>
<circle cx="206" cy="783.6" r="2.9"/>
<circle cx="206" cy="786.1" r="2.9"/>
<circle cx="206" cy="791.2" r="2.9"/>
<circle cx="206" cy="796.2" r="2.9"/>
<circle cx="206" cy="798.8" r="2.9"/>
<circle cx="206" cy="808.9" r="2.9"/>
<circle cx="206" cy="811.5" r="2.9"/>
<circle cx="206" cy="814.0" r="2.9"/>
<circle cx="206" cy="816.5" r="2.9"/>
<circle cx="206" cy="821.6" r="2.9"/>
<circle cx="206" cy="824.1" r="2.9"/>
<circle cx="206" cy="828.2" r="2.9"/>
<circle cx="206" cy="836.8" r="2.9"/>
<circle cx="206" cy="841.9" r="2.9"/>
<circle cx="206" cy="844.4" r="2.9"/>
<circle cx="206" cy="849.5" r="2.9"/>
<circle cx="206" cy="852.0" r="2.9"/>
<circle cx="206" cy="862.2" r="2.9"/>
<circle cx="206" cy="864.7" r="2.9"/>
<circle cx="206" cy="886.0" r="2.9"/>
<circle cx="206" cy="890.0" r="2.9"/>
<circle cx="206" cy="899.2" r="2.9"/>
<circle cx="206" cy="905.2" r="2.9"/>
<circle cx="206" cy="915.4" r="2.9"/>
<circle cx="206" cy="919.4" r="2.9"/>
</g>
<g fill="none" stroke="#000" stroke-opacity="0.3" stroke-width="0.85">
<circle cx="240" cy="702.5" r="2.9"/>
<circle cx="240" cy="721.7" r="2.9"/>
<circle cx="240" cy="725.3" r="2.9"/>
<circle cx="240" cy="749.1" r="2.9"/>
<circle cx="240" cy="753.2" r="2.9"/>
<circle cx="240" cy="765.8" r="2.9"/>
<circle cx="240" cy="773.4" r="2.9"/>
<circle cx="240" cy="777.0" r="2.9"/>
<circle cx="240" cy="786.1" r="2.9"/>
<circle cx="240" cy="791.2" r="2.9"/>
<circle cx="240" cy="793.7" r="2.9"/>
<circle cx="240" cy="796.2" r="2.9"/>
<circle cx="240" cy="806.4" r="2.9"/>
<circle cx="240" cy="819.1" r="2.9"/>
<circle cx="240" cy="821.6" r="2.9"/>
<circle cx="240" cy="824.1" r="2.9"/>
<circle cx="240" cy="828.2" r="2.9"/>
<circle cx="240" cy="835.3" r="2.9"/>
<circle cx="240" cy="843.4" r="2.9"/>
<circle cx="240" cy="853.5" r="2.9"/>
<circle cx="240" cy="857.1" r="2.9"/>
<circle cx="240" cy="859.6" r="2.9"/>
<circle cx="240" cy="863.7" r="2.9"/>
<circle cx="240" cy="867.2" r="2.9"/>
<circle cx="240" cy="870.8" r="2.9"/>
<circle cx="240" cy="886.0" r="2.9"/>
<circle cx="240" cy="891.1" r="2.9"/>
<circle cx="240" cy="899.2" r="2.9"/>
<circle cx="240" cy="909.3" r="2.9"/>
<circle cx="240" cy="920.5" r="2.9"/>
</g>
<line x1="110.2" y1="829.4000000000001" x2="270.3" y2="829.4000000000001" stroke="#4a4a4a" stroke-width="1.1" />
<line x1="106.8" y1="964.3" x2="267.8" y2="964.3" stroke="#666" stroke-width="1.2" />
<line x1="154.7" y1="964.3" x2="154.7" y2="968.8" stroke="#666" stroke-width="1" />
<line x1="189.0" y1="964.3" x2="189.0" y2="968.8" stroke="#666" stroke-width="1" />
<line x1="222.7" y1="964.3" x2="222.7" y2="968.8" stroke="#666" stroke-width="1" />
<text x="145.0" y="981" font-size="13" text-anchor="middle" font-weight="normal" fill="#231f20" font-family='"Liberation Sans", sans-serif' >-0.05</text>
<text x="188.5" y="981" font-size="13" text-anchor="middle" font-weight="normal" fill="#231f20" font-family='"Liberation Sans", sans-serif' >0</text>
<text x="222.3" y="981" font-size="13" text-anchor="middle" font-weight="normal" fill="#231f20" font-family='"Liberation Sans", sans-serif' >0.05</text>
<text x="191.4" y="997.4" font-size="15.5" text-anchor="middle" font-weight="normal" fill="#231f20" font-family='"Liberation Sans", sans-serif' >&#916;P1(t)</text>
<rect x="359.9" y="829.2" width="27.0" height="50.700000000000045" fill="#7b7b7b" />
<rect x="393.9" y="829.2" width="27.0" height="43.09500000000003" fill="#7b7b7b" />
<rect x="427.9" y="808.413" width="27.30000000000001" height="20.787000000000035" fill="#7b7b7b" />
<rect x="461.9" y="772.416" width="27.30000000000001" height="56.78399999999999" fill="#7b7b7b" />
<g fill="none" stroke="#000" stroke-opacity="0.3" stroke-width="0.85">
<circle cx="372.9" cy="705.0" r="2.9"/>
<circle cx="372.9" cy="745.5" r="2.9"/>
<circle cx="372.9" cy="760.8" r="2.9"/>
<circle cx="372.9" cy="763.3" r="2.9"/>
<circle cx="372.9" cy="776.0" r="2.9"/>
<circle cx="372.9" cy="781.0" r="2.9"/>
<circle cx="372.9" cy="783.6" r="2.9"/>
<circle cx="372.9" cy="788.6" r="2.9"/>
<circle cx="372.9" cy="791.2" r="2.9"/>
<circle cx="372.9" cy="798.8" r="2.9"/>
<circle cx="372.9" cy="801.3" r="2.9"/>
<circle cx="372.9" cy="808.9" r="2.9"/>
<circle cx="372.9" cy="816.5" r="2.9"/>
<circle cx="372.9" cy="824.1" r="2.9"/>
<circle cx="372.9" cy="834.3" r="2.9"/>
<circle cx="372.9" cy="839.3" r="2.9"/>
<circle cx="372.9" cy="854.6" r="2.9"/>
<circle cx="372.9" cy="857.1" r="2.9"/>
<circle cx="372.9" cy="859.6" r="2.9"/>
<circle cx="372.9" cy="867.2" r="2.9"/>
<circle cx="372.9" cy="869.8" r="2.9"/>
<circle cx="372.9" cy="874.8" r="2.9"/>
<circle cx="372.9" cy="882.4" r="2.9"/>
<circle cx="372.9" cy="887.5" r="2.9"/>
<circle cx="372.9" cy="892.6" r="2.9"/>
<circle cx="372.9" cy="897.6" r="2.9"/>
<circle cx="372.9" cy="902.7" r="2.9"/>
<circle cx="372.9" cy="910.3" r="2.9"/>
<circle cx="372.9" cy="917.9" r="2.9"/>
<circle cx="372.9" cy="925.5" r="2.9"/>
<circle cx="372.9" cy="935.7" r="2.9"/>
<circle cx="372.9" cy="938.2" r="2.9"/>
<circle cx="372.9" cy="943.3" r="2.9"/>
<circle cx="372.9" cy="953.4" r="2.9"/>
</g>
<g fill="none" stroke="#000" stroke-opacity="0.3" stroke-width="0.85">
<circle cx="407.2" cy="725.3" r="2.9"/>
<circle cx="407.2" cy="732.9" r="2.9"/>
<circle cx="407.2" cy="750.6" r="2.9"/>
<circle cx="407.2" cy="753.2" r="2.9"/>
<circle cx="407.2" cy="760.8" r="2.9"/>
<circle cx="407.2" cy="786.1" r="2.9"/>
<circle cx="407.2" cy="791.2" r="2.9"/>
<circle cx="407.2" cy="801.3" r="2.9"/>
<circle cx="407.2" cy="806.4" r="2.9"/>
<circle cx="407.2" cy="811.5" r="2.9"/>
<circle cx="407.2" cy="819.1" r="2.9"/>
<circle cx="407.2" cy="826.7" r="2.9"/>
<circle cx="407.2" cy="834.3" r="2.9"/>
<circle cx="407.2" cy="839.3" r="2.9"/>
<circle cx="407.2" cy="844.4" r="2.9"/>
<circle cx="407.2" cy="846.9" r="2.9"/>
<circle cx="407.2" cy="849.5" r="2.9"/>
<circle cx="407.2" cy="852.0" r="2.9"/>
<circle cx="407.2" cy="854.6" r="2.9"/>
<circle cx="407.2" cy="859.6" r="2.9"/>
<circle cx="407.2" cy="864.7" r="2.9"/>
<circle cx="407.2" cy="867.2" r="2.9"/>
<circle cx="407.2" cy="872.3" r="2.9"/>
<circle cx="407.2" cy="874.8" r="2.9"/>
<circle cx="407.2" cy="882.4" r="2.9"/>
<circle cx="407.2" cy="892.6" r="2.9"/>
<circle cx="407.2" cy="897.6" r="2.9"/>
<circle cx="407.2" cy="902.7" r="2.9"/>
<circle cx="407.2" cy="907.8" r="2.9"/>
<circle cx="407.2" cy="917.9" r="2.9"/>
<circle cx="407.2" cy="923.0" r="2.9"/>
<circle cx="407.2" cy="930.6" r="2.9"/>
<circle cx="407.2" cy="935.7" r="2.9"/>
</g>
<g fill="none" stroke="#000" stroke-opacity="0.3" stroke-width="0.85">
<circle cx="441.2" cy="710.1" r="2.9"/>
<circle cx="441.2" cy="733.9" r="2.9"/>
<circle cx="441.2" cy="742.0" r="2.9"/>
<circle cx="441.2" cy="759.2" r="2.9"/>
<circle cx="441.2" cy="772.4" r="2.9"/>
<circle cx="441.2" cy="782.0" r="2.9"/>
<circle cx="441.2" cy="786.1" r="2.9"/>
<circle cx="441.2" cy="791.2" r="2.9"/>
<circle cx="441.2" cy="793.7" r="2.9"/>
<circle cx="441.2" cy="801.3" r="2.9"/>
<circle cx="441.2" cy="804.9" r="2.9"/>
<circle cx="441.2" cy="808.9" r="2.9"/>
<circle cx="441.2" cy="811.5" r="2.9"/>
<circle cx="441.2" cy="814.0" r="2.9"/>
<circle cx="441.2" cy="819.1" r="2.9"/>
<circle cx="441.2" cy="821.6" r="2.9"/>
<circle cx="441.2" cy="824.1" r="2.9"/>
<circle cx="441.2" cy="828.2" r="2.9"/>
<circle cx="441.2" cy="832.2" r="2.9"/>
<circle cx="441.2" cy="860.6" r="2.9"/>
<circle cx="441.2" cy="868.7" r="2.9"/>
<circle cx="441.2" cy="870.8" r="2.9"/>
<circle cx="441.2" cy="884.0" r="2.9"/>
<circle cx="441.2" cy="892.6" r="2.9"/>
<circle cx="441.2" cy="896.1" r="2.9"/>
<circle cx="441.2" cy="904.2" r="2.9"/>
<circle cx="441.2" cy="948.3" r="2.9"/>
</g>
<g fill="none" stroke="#000" stroke-opacity="0.3" stroke-width="0.85">
<circle cx="475.2" cy="710.1" r="2.9"/>
<circle cx="475.2" cy="710.1" r="2.9"/>
<circle cx="475.2" cy="730.3" r="2.9"/>
<circle cx="475.2" cy="744.0" r="2.9"/>
<circle cx="475.2" cy="747.1" r="2.9"/>
<circle cx="475.2" cy="755.7" r="2.9"/>
<circle cx="475.2" cy="763.3" r="2.9"/>
<circle cx="475.2" cy="767.3" r="2.9"/>
<circle cx="475.2" cy="782.0" r="2.9"/>
<circle cx="475.2" cy="786.1" r="2.9"/>
<circle cx="475.2" cy="791.2" r="2.9"/>
<circle cx="475.2" cy="794.7" r="2.9"/>
<circle cx="475.2" cy="797.8" r="2.9"/>
<circle cx="475.2" cy="801.3" r="2.9"/>
<circle cx="475.2" cy="804.9" r="2.9"/>
<circle cx="475.2" cy="808.9" r="2.9"/>
<circle cx="475.2" cy="813.0" r="2.9"/>
<circle cx="475.2" cy="815.0" r="2.9"/>
<circle cx="475.2" cy="821.6" r="2.9"/>
<circle cx="475.2" cy="850.5" r="2.9"/>
<circle cx="475.2" cy="850.5" r="2.9"/>
<circle cx="475.2" cy="870.8" r="2.9"/>
<circle cx="475.2" cy="896.1" r="2.9"/>
<circle cx="475.2" cy="906.3" r="2.9"/>
<circle cx="475.2" cy="919.4" r="2.9"/>
<circle cx="475.2" cy="928.1" r="2.9"/>
<circle cx="475.2" cy="935.7" r="2.9"/>
<circle cx="475.2" cy="951.9" r="2.9"/>
</g>
<line x1="345.9" y1="829.4000000000001" x2="499.7" y2="829.4000000000001" stroke="#4a4a4a" stroke-width="1.1" />
<line x1="345.9" y1="964.3" x2="499.7" y2="964.3" stroke="#666" stroke-width="1.2" />
<line x1="389.7" y1="964.3" x2="389.7" y2="968.8" stroke="#666" stroke-width="1" />
<line x1="423.7" y1="964.3" x2="423.7" y2="968.8" stroke="#666" stroke-width="1" />
<line x1="458.0" y1="964.3" x2="458.0" y2="968.8" stroke="#666" stroke-width="1" />
<text x="386.9" y="981" font-size="13" text-anchor="middle" font-weight="normal" fill="#231f20" font-family='"Liberation Sans", sans-serif' >-0.05</text>
<text x="423.7" y="981" font-size="13" text-anchor="middle" font-weight="normal" fill="#231f20" font-family='"Liberation Sans", sans-serif' >0</text>
<text x="458.7" y="981" font-size="13" text-anchor="middle" font-weight="normal" fill="#231f20" font-family='"Liberation Sans", sans-serif' >0.05</text>
<text x="425.6" y="997.4" font-size="15.5" text-anchor="middle" font-weight="normal" fill="#231f20" font-family='"Liberation Sans", sans-serif' >&#916;P1(t)</text>
<rect x="620.6" y="829.2" width="27.0" height="15.210000000000036" fill="#7b7b7b" />
<rect x="654.6" y="828.186" width="27.0" height="1.01400000000001" fill="#7b7b7b" />
<rect x="688.6" y="813.99" width="27.299999999999955" height="15.210000000000036" fill="#7b7b7b" />
<rect x="722.2" y="812.469" width="27.699999999999932" height="16.730999999999995" fill="#7b7b7b" />
<g fill="none" stroke="#000" stroke-opacity="0.3" stroke-width="0.85">
<circle cx="633.6" cy="721.7" r="2.9"/>
<circle cx="633.6" cy="725.3" r="2.9"/>
<circle cx="633.6" cy="728.8" r="2.9"/>
<circle cx="633.6" cy="731.9" r="2.9"/>
<circle cx="633.6" cy="732.9" r="2.9"/>
<circle cx="633.6" cy="754.2" r="2.9"/>
<circle cx="633.6" cy="767.3" r="2.9"/>
<circle cx="633.6" cy="781.0" r="2.9"/>
<circle cx="633.6" cy="782.6" r="2.9"/>
<circle cx="633.6" cy="787.6" r="2.9"/>
<circle cx="633.6" cy="791.2" r="2.9"/>
<circle cx="633.6" cy="793.7" r="2.9"/>
<circle cx="633.6" cy="797.8" r="2.9"/>
<circle cx="633.6" cy="801.3" r="2.9"/>
<circle cx="633.6" cy="806.4" r="2.9"/>
<circle cx="633.6" cy="815.0" r="2.9"/>
<circle cx="633.6" cy="828.7" r="2.9"/>
<circle cx="633.6" cy="840.4" r="2.9"/>
<circle cx="633.6" cy="841.9" r="2.9"/>
<circle cx="633.6" cy="850.5" r="2.9"/>
<circle cx="633.6" cy="863.7" r="2.9"/>
<circle cx="633.6" cy="865.7" r="2.9"/>
<circle cx="633.6" cy="870.8" r="2.9"/>
<circle cx="633.6" cy="892.6" r="2.9"/>
<circle cx="633.6" cy="892.6" r="2.9"/>
<circle cx="633.6" cy="904.2" r="2.9"/>
<circle cx="633.6" cy="912.9" r="2.9"/>
<circle cx="633.6" cy="921.5" r="2.9"/>
<circle cx="633.6" cy="931.6" r="2.9"/>
<circle cx="633.6" cy="941.8" r="2.9"/>
<circle cx="633.6" cy="949.9" r="2.9"/>
<circle cx="633.6" cy="953.4" r="2.9"/>
</g>
<g fill="none" stroke="#000" stroke-opacity="0.3" stroke-width="0.85">
<circle cx="667.9" cy="708.5" r="2.9"/>
<circle cx="667.9" cy="716.6" r="2.9"/>
<circle cx="667.9" cy="723.7" r="2.9"/>
<circle cx="667.9" cy="728.8" r="2.9"/>
<circle cx="667.9" cy="762.3" r="2.9"/>
<circle cx="667.9" cy="776.0" r="2.9"/>
<circle cx="667.9" cy="787.6" r="2.9"/>
<circle cx="667.9" cy="791.2" r="2.9"/>
<circle cx="667.9" cy="793.7" r="2.9"/>
<circle cx="667.9" cy="797.8" r="2.9"/>
<circle cx="667.9" cy="801.3" r="2.9"/>
<circle cx="667.9" cy="804.9" r="2.9"/>
<circle cx="667.9" cy="808.9" r="2.9"/>
<circle cx="667.9" cy="813.0" r="2.9"/>
<circle cx="667.9" cy="816.5" r="2.9"/>
<circle cx="667.9" cy="821.6" r="2.9"/>
<circle cx="667.9" cy="824.1" r="2.9"/>
<circle cx="667.9" cy="828.2" r="2.9"/>
<circle cx="667.9" cy="830.2" r="2.9"/>
<circle cx="667.9" cy="834.3" r="2.9"/>
<circle cx="667.9" cy="836.8" r="2.9"/>
<circle cx="667.9" cy="840.4" r="2.9"/>
<circle cx="667.9" cy="844.4" r="2.9"/>
<circle cx="667.9" cy="848.5" r="2.9"/>
<circle cx="667.9" cy="853.5" r="2.9"/>
<circle cx="667.9" cy="858.6" r="2.9"/>
<circle cx="667.9" cy="863.7" r="2.9"/>
<circle cx="667.9" cy="870.8" r="2.9"/>
<circle cx="667.9" cy="873.8" r="2.9"/>
<circle cx="667.9" cy="878.9" r="2.9"/>
<circle cx="667.9" cy="886.0" r="2.9"/>
<circle cx="667.9" cy="889.0" r="2.9"/>
<circle cx="667.9" cy="904.2" r="2.9"/>
<circle cx="667.9" cy="912.9" r="2.9"/>
<circle cx="667.9" cy="929.6" r="2.9"/>
</g>
<g fill="none" stroke="#000" stroke-opacity="0.3" stroke-width="0.85">
<circle cx="701.9" cy="701.4" r="2.9"/>
<circle cx="701.9" cy="708.5" r="2.9"/>
<circle cx="701.9" cy="712.6" r="2.9"/>
<circle cx="701.9" cy="716.6" r="2.9"/>
<circle cx="701.9" cy="730.3" r="2.9"/>
<circle cx="701.9" cy="739.0" r="2.9"/>
<circle cx="701.9" cy="743.0" r="2.9"/>
<circle cx="701.9" cy="747.1" r="2.9"/>
<circle cx="701.9" cy="750.6" r="2.9"/>
<circle cx="701.9" cy="754.2" r="2.9"/>
<circle cx="701.9" cy="769.4" r="2.9"/>
<circle cx="701.9" cy="781.0" r="2.9"/>
<circle cx="701.9" cy="794.7" r="2.9"/>
<circle cx="701.9" cy="798.8" r="2.9"/>
<circle cx="701.9" cy="802.8" r="2.9"/>
<circle cx="701.9" cy="806.4" r="2.9"/>
<circle cx="701.9" cy="809.9" r="2.9"/>
<circle cx="701.9" cy="814.0" r="2.9"/>
<circle cx="701.9" cy="819.1" r="2.9"/>
<circle cx="701.9" cy="821.6" r="2.9"/>
<circle cx="701.9" cy="825.1" r="2.9"/>
<circle cx="701.9" cy="828.7" r="2.9"/>
<circle cx="701.9" cy="833.3" r="2.9"/>
<circle cx="701.9" cy="840.4" r="2.9"/>
<circle cx="701.9" cy="845.4" r="2.9"/>
<circle cx="701.9" cy="848.5" r="2.9"/>
<circle cx="701.9" cy="853.5" r="2.9"/>
<circle cx="701.9" cy="857.1" r="2.9"/>
<circle cx="701.9" cy="860.6" r="2.9"/>
<circle cx="701.9" cy="870.8" r="2.9"/>
<circle cx="701.9" cy="873.8" r="2.9"/>
<circle cx="701.9" cy="878.9" r="2.9"/>
<circle cx="701.9" cy="886.0" r="2.9"/>
<circle cx="701.9" cy="896.1" r="2.9"/>
</g>
<g fill="none" stroke="#000" stroke-opacity="0.3" stroke-width="0.85">
<circle cx="735.9" cy="744.0" r="2.9"/>
<circle cx="735.9" cy="747.1" r="2.9"/>
<circle cx="735.9" cy="762.3" r="2.9"/>
<circle cx="735.9" cy="765.8" r="2.9"/>
<circle cx="735.9" cy="777.5" r="2.9"/>
<circle cx="735.9" cy="782.6" r="2.9"/>
<circle cx="735.9" cy="791.2" r="2.9"/>
<circle cx="735.9" cy="793.7" r="2.9"/>
<circle cx="735.9" cy="796.2" r="2.9"/>
<circle cx="735.9" cy="799.8" r="2.9"/>
<circle cx="735.9" cy="803.9" r="2.9"/>
<circle cx="735.9" cy="807.9" r="2.9"/>
<circle cx="735.9" cy="813.0" r="2.9"/>
<circle cx="735.9" cy="816.5" r="2.9"/>
<circle cx="735.9" cy="821.6" r="2.9"/>
<circle cx="735.9" cy="825.1" r="2.9"/>
<circle cx="735.9" cy="828.7" r="2.9"/>
<circle cx="735.9" cy="833.3" r="2.9"/>
<circle cx="735.9" cy="836.8" r="2.9"/>
<circle cx="735.9" cy="840.4" r="2.9"/>
<circle cx="735.9" cy="843.4" r="2.9"/>
<circle cx="735.9" cy="857.1" r="2.9"/>
<circle cx="735.9" cy="859.6" r="2.9"/>
<circle cx="735.9" cy="864.7" r="2.9"/>
<circle cx="735.9" cy="880.9" r="2.9"/>
<circle cx="735.9" cy="885.0" r="2.9"/>
<circle cx="735.9" cy="889.0" r="2.9"/>
<circle cx="735.9" cy="897.6" r="2.9"/>
<circle cx="735.9" cy="906.3" r="2.9"/>
</g>
<line x1="593.3" y1="829.4000000000001" x2="759.7" y2="829.4000000000001" stroke="#4a4a4a" stroke-width="1.1" />
<line x1="593.3" y1="964.3" x2="758.7" y2="964.3" stroke="#666" stroke-width="1.2" />
<line x1="651.1" y1="964.3" x2="651.1" y2="968.8" stroke="#666" stroke-width="1" />
<line x1="684.4" y1="964.3" x2="684.4" y2="968.8" stroke="#666" stroke-width="1" />
<line x1="718.7" y1="964.3" x2="718.7" y2="968.8" stroke="#666" stroke-width="1" />
<text x="645.8" y="981" font-size="13" text-anchor="middle" font-weight="normal" fill="#231f20" font-family='"Liberation Sans", sans-serif' >-0.05</text>
<text x="684.4" y="981" font-size="13" text-anchor="middle" font-weight="normal" fill="#231f20" font-family='"Liberation Sans", sans-serif' >0</text>
<text x="717.6" y="981" font-size="13" text-anchor="middle" font-weight="normal" fill="#231f20" font-family='"Liberation Sans", sans-serif' >0.05</text>
<text x="687.0" y="997.4" font-size="15.5" text-anchor="middle" font-weight="normal" fill="#231f20" font-family='"Liberation Sans", sans-serif' >&#916;P1(t)</text>
<line x1="98.5" y1="694.2" x2="98.5" y2="956.3" stroke="#555" stroke-width="1.2" />
<line x1="94" y1="956.3" x2="98.5" y2="956.3" stroke="#555" stroke-width="1" />
<line x1="94" y1="930.92" x2="98.5" y2="930.92" stroke="#555" stroke-width="1" />
<line x1="94" y1="905.54" x2="98.5" y2="905.54" stroke="#555" stroke-width="1" />
<line x1="94" y1="880.16" x2="98.5" y2="880.16" stroke="#555" stroke-width="1" />
<line x1="94" y1="854.78" x2="98.5" y2="854.78" stroke="#555" stroke-width="1" />
<line x1="94" y1="829.4" x2="98.5" y2="829.4" stroke="#555" stroke-width="1" />
<line x1="94" y1="804.02" x2="98.5" y2="804.02" stroke="#555" stroke-width="1" />
<line x1="94" y1="778.64" x2="98.5" y2="778.64" stroke="#555" stroke-width="1" />
<line x1="94" y1="753.26" x2="98.5" y2="753.26" stroke="#555" stroke-width="1" />
<line x1="94" y1="727.88" x2="98.5" y2="727.88" stroke="#555" stroke-width="1" />
<line x1="94" y1="702.5" x2="98.5" y2="702.5" stroke="#555" stroke-width="1" />
<text x="88.5" y="733.8000000000001" font-size="12.8" text-anchor="end" font-weight="normal" fill="#231f20" font-family='"Liberation Sans", sans-serif' >0.02</text>
<text x="88.5" y="784.5" font-size="12.8" text-anchor="end" font-weight="normal" fill="#231f20" font-family='"Liberation Sans", sans-serif' >0.01</text>
<text x="88.5" y="835.2" font-size="12.8" text-anchor="end" font-weight="normal" fill="#231f20" font-family='"Liberation Sans", sans-serif' >0</text>
<text x="88.5" y="885.9000000000001" font-size="12.8" text-anchor="end" font-weight="normal" fill="#231f20" font-family='"Liberation Sans", sans-serif' >-0.01</text>
<text x="88.5" y="936.6" font-size="12.8" text-anchor="end" font-weight="normal" fill="#231f20" font-family='"Liberation Sans", sans-serif' >-0.02</text>
<text x="0" y="0" font-size="15.2" text-anchor="middle" font-weight="normal" fill="#231f20" font-family='"Liberation Sans", sans-serif' transform="translate(40.3,822.1) rotate(-90)">&lt;&#916;P2(t+1)&gt;</text>
</svg>
</body></html>
